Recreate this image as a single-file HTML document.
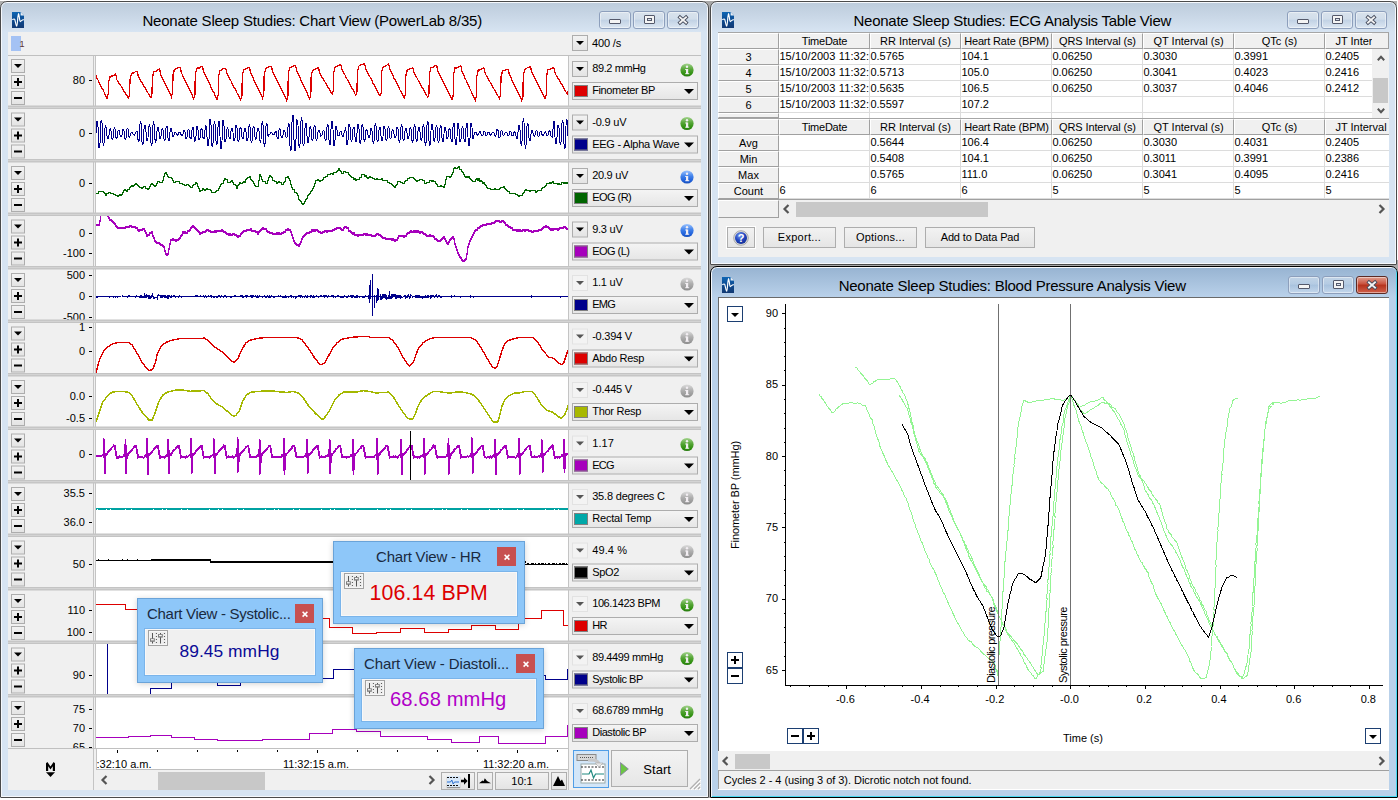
<!DOCTYPE html><html><head><meta charset="utf-8"><title>LabChart</title><style>
html,body{margin:0;padding:0}
body{width:1398px;height:800px;position:relative;overflow:hidden;background:#fff;font-family:"Liberation Sans",sans-serif;font-size:11px;}
div{position:absolute;box-sizing:content-box}
.t{white-space:pre}
svg.a{position:absolute;overflow:visible}
</style></head><body><div style="left:704px;top:1px;width:12px;height:797px;background:#a8a8a8;"></div><div style="left:710px;top:260px;width:688px;height:10px;background:#a8a8a8;"></div><div style="left:0px;top:1px;width:5px;height:5px;background:#b0b0b0;"></div><div style="left:1392px;top:1px;width:5px;height:5px;background:#b0b0b0;"></div><div style="left:0px;top:1px;width:707px;height:795px;border:1px solid #4a4a4a;border-radius:7px 7px 1px 1px;background:#d7e4f2;box-shadow:inset 0 0 0 1px rgba(255,255,255,.75);"></div><div style="left:2px;top:3px;width:705px;height:29px;background:linear-gradient(#bdccdc,#d7e4f2);border-radius:5px 5px 0 0;"></div><svg class="a" style="left:12px;top:12px;" width="12" height="16" viewBox="0 0 12 16"><defs><linearGradient id="ig1" x1="0" y1="0" x2="0" y2="1"><stop offset="0" stop-color="#0f66b4"/><stop offset=".5" stop-color="#0c4a90"/><stop offset="1" stop-color="#133a74"/></linearGradient></defs><path d="M0 0H8.6L12 3.4V16H0Z" fill="url(#ig1)"/><path d="M8.6 0V3.4H12Z" fill="#e9eef4"/><path d="M0.2 7.7C1.4 7.5 2.1 6.2 2.8 7.6C3.5 9.6 4 14.2 4.7 14.2C5.5 14.2 5.8 1.6 6.5 1.6C7.2 1.6 7.5 9.6 8.3 9.6C9.1 9.6 9.6 7.6 11.8 7.6" fill="none" stroke="#fff" stroke-width="1.15" stroke-linejoin="round"/></svg><div class="t" style="left:142.45px;top:10.80px;font-size:15px;line-height:20px;color:#000;white-space:pre;letter-spacing:-0.212px;">Neonate Sleep Studies: Chart View (PowerLab 8/35)</div><div style="left:599px;top:11px;width:30px;height:16px;background:linear-gradient(rgba(255,255,255,.35),rgba(255,255,255,.12) 45%,rgba(160,185,215,.25) 50%,rgba(255,255,255,.2));border:1px solid #8d9fbc;border-radius:3px;box-shadow:inset 0 0 0 1px rgba(255,255,255,.45);"></div><div style="left:609px;top:19px;width:10px;height:3px;background:#f4f4f4;border:1px solid #54596b;border-radius:1px;"></div><div style="left:633px;top:11px;width:30px;height:16px;background:linear-gradient(rgba(255,255,255,.35),rgba(255,255,255,.12) 45%,rgba(160,185,215,.25) 50%,rgba(255,255,255,.2));border:1px solid #8d9fbc;border-radius:3px;box-shadow:inset 0 0 0 1px rgba(255,255,255,.45);"></div><div style="left:644px;top:15px;width:9px;height:7px;background:#f4f4f4;border:1px solid #54596b;border-radius:1px;"></div><div style="left:647px;top:18px;width:3px;height:1px;background:#dfe6f0;border:1px solid #54596b;"></div><div style="left:667px;top:11px;width:30px;height:16px;background:linear-gradient(rgba(255,255,255,.35),rgba(255,255,255,.12) 45%,rgba(160,185,215,.25) 50%,rgba(255,255,255,.2));border:1px solid #8d9fbc;border-radius:3px;box-shadow:inset 0 0 0 1px rgba(255,255,255,.45);"></div><svg class="a" style="left:677px;top:15px;" width="12" height="10" viewBox="0 0 12 10"><path d="M3 2.4L9 7.6M9 2.4L3 7.6" stroke="#454b5c" stroke-width="3.6" stroke-linecap="square"/><path d="M3 2.4L9 7.6M9 2.4L3 7.6" stroke="#f4f4f4" stroke-width="1.9" stroke-linecap="square"/></svg><div style="left:8px;top:32px;width:693px;height:758px;background:#f0f0f0;"></div><div style="left:11px;top:36px;width:10px;height:15px;background:#a4c2f4;"></div><div class="t" style="left:19.50px;top:38.00px;font-size:9px;line-height:12px;color:#5a3030;white-space:pre;">1</div><div style="left:572px;top:35px;width:14px;height:14px;background:linear-gradient(#f2f2f2,#e4e4e4);border:1px solid #adadad;"></div><svg class="a" style="left:576.0px;top:40.7px" width="8" height="4" viewBox="0 0 8 4"><path d="M0 0H8L4.0 4Z" fill="#000"/></svg><div class="t" style="left:592.00px;top:35.50px;font-size:11px;line-height:14px;color:#000;white-space:pre;letter-spacing:-0.160px;">400 /s</div><div style="left:8px;top:55px;width:693px;height:1px;background:#c0c0c0;"></div><div style="left:96px;top:56px;width:472px;height:692px;background:#fff;"></div><div style="left:93px;top:56px;width:1px;height:692px;background:#c4c4c4;"></div><div style="left:95px;top:56px;width:1px;height:692px;background:#c4c4c4;"></div><div style="left:568px;top:56px;width:1px;height:692px;background:#c4c4c4;"></div><div style="left:11px;top:59px;width:12px;height:12px;background:linear-gradient(#f2f2f2,#e4e4e4);border:1px solid #adadad;"></div><svg class="a" style="left:14.0px;top:63.7px" width="8" height="4" viewBox="0 0 8 4"><path d="M0 0H8L4.0 4Z" fill="#000"/></svg><div style="left:11px;top:75px;width:12px;height:12px;background:linear-gradient(#f2f2f2,#e4e4e4);border:1px solid #adadad;"></div><div style="left:14.0px;top:81.0px;width:8px;height:2px;background:#000;"></div><div style="left:17.0px;top:78.0px;width:2px;height:8px;background:#000;"></div><div style="left:11px;top:91px;width:12px;height:12px;background:linear-gradient(#f2f2f2,#e4e4e4);border:1px solid #adadad;"></div><div style="left:14.0px;top:97.0px;width:8px;height:2px;background:#000;"></div><div style="left:572px;top:61px;width:14px;height:14px;background:linear-gradient(#f2f2f2,#e4e4e4);border:1px solid #adadad;"></div><svg class="a" style="left:576.0px;top:66.7px" width="8" height="4" viewBox="0 0 8 4"><path d="M0 0H8L4.0 4Z" fill="#000"/></svg><div class="t" style="left:592.20px;top:61.30px;font-size:11px;line-height:14px;color:#000;white-space:pre;letter-spacing:-0.394px;">89.2 mmHg</div><svg class="a" style="left:680px;top:63px;" width="14" height="14" viewBox="0 0 14 14"><defs><linearGradient id="Ggreen68770" x1="0" y1="0" x2="0" y2="1"><stop offset="0" stop-color="#a4d48e"/><stop offset=".45" stop-color="#55a536"/><stop offset=".8" stop-color="#2f900f"/><stop offset="1" stop-color="#2a7a12"/></linearGradient></defs><circle cx="7" cy="7" r="6.6" fill="url(#Ggreen68770)"/><rect x="6" y="6" width="2.2" height="5" fill="#f2eef2"/><rect x="5.2" y="6" width="2" height="1" fill="#f2eef2"/><rect x="5.2" y="10.2" width="4" height="1" fill="#f2eef2"/><circle cx="7" cy="3.8" r="1.2" fill="#f2eef2"/></svg><div style="left:572px;top:82px;width:124px;height:16px;background:linear-gradient(#f4f4f4,#e6e6e6);border:1px solid #adadad;"></div><div style="left:574px;top:85px;width:12px;height:10px;background:#dd0000;border:1px solid #808080;"></div><div class="t" style="left:592.20px;top:83.30px;font-size:11px;line-height:14px;color:#000;white-space:pre;letter-spacing:-0.370px;">Finometer BP</div><svg class="a" style="left:684.0px;top:89.0px" width="10" height="5" viewBox="0 0 10 5"><path d="M0 0H10L5.0 5Z" fill="#000"/></svg><div style="left:26px;top:56px;width:67px;height:50px;overflow:hidden;"><div class="t" style="left:46.77px;top:17.10px;font-size:11px;line-height:14px;color:#000;white-space:pre;">80</div><div style="left:63px;top:24px;width:3px;height:1px;background:#000;"></div></div><div style="left:0;top:0;width:701px;height:790px;transform:translateY(0.5px);"><div style="left:11px;top:112px;width:12px;height:12px;background:linear-gradient(#f2f2f2,#e4e4e4);border:1px solid #adadad;"></div><svg class="a" style="left:14.0px;top:116.7px" width="8" height="4" viewBox="0 0 8 4"><path d="M0 0H8L4.0 4Z" fill="#000"/></svg><div style="left:11px;top:128px;width:12px;height:12px;background:linear-gradient(#f2f2f2,#e4e4e4);border:1px solid #adadad;"></div><div style="left:14.0px;top:134.0px;width:8px;height:2px;background:#000;"></div><div style="left:17.0px;top:131.0px;width:2px;height:8px;background:#000;"></div><div style="left:11px;top:144px;width:12px;height:12px;background:linear-gradient(#f2f2f2,#e4e4e4);border:1px solid #adadad;"></div><div style="left:14.0px;top:150.0px;width:8px;height:2px;background:#000;"></div><div style="left:572px;top:114px;width:14px;height:14px;background:linear-gradient(#f2f2f2,#e4e4e4);border:1px solid #adadad;"></div><svg class="a" style="left:576.0px;top:119.7px" width="8" height="4" viewBox="0 0 8 4"><path d="M0 0H8L4.0 4Z" fill="#000"/></svg><div class="t" style="left:592.20px;top:114.30px;font-size:11px;line-height:14px;color:#000;white-space:pre;letter-spacing:-0.195px;">-0.9 uV</div><svg class="a" style="left:680px;top:116px;" width="14" height="14" viewBox="0 0 14 14"><defs><linearGradient id="Ggreen687123" x1="0" y1="0" x2="0" y2="1"><stop offset="0" stop-color="#a4d48e"/><stop offset=".45" stop-color="#55a536"/><stop offset=".8" stop-color="#2f900f"/><stop offset="1" stop-color="#2a7a12"/></linearGradient></defs><circle cx="7" cy="7" r="6.6" fill="url(#Ggreen687123)"/><rect x="6" y="6" width="2.2" height="5" fill="#f2eef2"/><rect x="5.2" y="6" width="2" height="1" fill="#f2eef2"/><rect x="5.2" y="10.2" width="4" height="1" fill="#f2eef2"/><circle cx="7" cy="3.8" r="1.2" fill="#f2eef2"/></svg><div style="left:572px;top:135px;width:124px;height:16px;background:linear-gradient(#f4f4f4,#e6e6e6);border:1px solid #adadad;"></div><div style="left:574px;top:138px;width:12px;height:10px;background:#00008b;border:1px solid #808080;"></div><div class="t" style="left:592.20px;top:136.30px;font-size:11px;line-height:14px;color:#000;white-space:pre;letter-spacing:-0.256px;">EEG - Alpha Wave</div><svg class="a" style="left:684.0px;top:142.0px" width="10" height="5" viewBox="0 0 10 5"><path d="M0 0H10L5.0 5Z" fill="#000"/></svg></div><div style="left:26px;top:109px;width:67px;height:51px;overflow:hidden;"><div class="t" style="left:52.88px;top:16.90px;font-size:11px;line-height:14px;color:#000;white-space:pre;">0</div><div style="left:63px;top:24px;width:3px;height:1px;background:#000;"></div></div><div style="left:11px;top:166px;width:12px;height:12px;background:linear-gradient(#f2f2f2,#e4e4e4);border:1px solid #adadad;"></div><svg class="a" style="left:14.0px;top:170.7px" width="8" height="4" viewBox="0 0 8 4"><path d="M0 0H8L4.0 4Z" fill="#000"/></svg><div style="left:11px;top:182px;width:12px;height:12px;background:linear-gradient(#f2f2f2,#e4e4e4);border:1px solid #adadad;"></div><div style="left:14.0px;top:188.0px;width:8px;height:2px;background:#000;"></div><div style="left:17.0px;top:185.0px;width:2px;height:8px;background:#000;"></div><div style="left:11px;top:198px;width:12px;height:12px;background:linear-gradient(#f2f2f2,#e4e4e4);border:1px solid #adadad;"></div><div style="left:14.0px;top:204.0px;width:8px;height:2px;background:#000;"></div><div style="left:572px;top:168px;width:14px;height:14px;background:linear-gradient(#f2f2f2,#e4e4e4);border:1px solid #adadad;"></div><svg class="a" style="left:576.0px;top:173.7px" width="8" height="4" viewBox="0 0 8 4"><path d="M0 0H8L4.0 4Z" fill="#000"/></svg><div class="t" style="left:592.20px;top:168.30px;font-size:11px;line-height:14px;color:#000;white-space:pre;letter-spacing:-0.302px;">20.9 uV</div><svg class="a" style="left:680px;top:170px;" width="14" height="14" viewBox="0 0 14 14"><defs><linearGradient id="Gblue687177" x1="0" y1="0" x2="0" y2="1"><stop offset="0" stop-color="#9cc4ff"/><stop offset=".45" stop-color="#3f80ea"/><stop offset=".8" stop-color="#1f5fd8"/><stop offset="1" stop-color="#1850b8"/></linearGradient></defs><circle cx="7" cy="7" r="6.6" fill="url(#Gblue687177)"/><rect x="6" y="6" width="2.2" height="5" fill="#f2eef2"/><rect x="5.2" y="6" width="2" height="1" fill="#f2eef2"/><rect x="5.2" y="10.2" width="4" height="1" fill="#f2eef2"/><circle cx="7" cy="3.8" r="1.2" fill="#f2eef2"/></svg><div style="left:572px;top:189px;width:124px;height:16px;background:linear-gradient(#f4f4f4,#e6e6e6);border:1px solid #adadad;"></div><div style="left:574px;top:192px;width:12px;height:10px;background:#006400;border:1px solid #808080;"></div><div class="t" style="left:592.20px;top:190.30px;font-size:11px;line-height:14px;color:#000;white-space:pre;letter-spacing:-0.539px;">EOG (R)</div><svg class="a" style="left:684.0px;top:196.0px" width="10" height="5" viewBox="0 0 10 5"><path d="M0 0H10L5.0 5Z" fill="#000"/></svg><div style="left:26px;top:163px;width:67px;height:50px;overflow:hidden;"><div class="t" style="left:52.88px;top:12.90px;font-size:11px;line-height:14px;color:#000;white-space:pre;">0</div><div style="left:63px;top:20px;width:3px;height:1px;background:#000;"></div></div><div style="left:0;top:0;width:701px;height:790px;transform:translateY(0.5px);"><div style="left:11px;top:219px;width:12px;height:12px;background:linear-gradient(#f2f2f2,#e4e4e4);border:1px solid #adadad;"></div><svg class="a" style="left:14.0px;top:223.7px" width="8" height="4" viewBox="0 0 8 4"><path d="M0 0H8L4.0 4Z" fill="#000"/></svg><div style="left:11px;top:235px;width:12px;height:12px;background:linear-gradient(#f2f2f2,#e4e4e4);border:1px solid #adadad;"></div><div style="left:14.0px;top:241.0px;width:8px;height:2px;background:#000;"></div><div style="left:17.0px;top:238.0px;width:2px;height:8px;background:#000;"></div><div style="left:11px;top:251px;width:12px;height:12px;background:linear-gradient(#f2f2f2,#e4e4e4);border:1px solid #adadad;"></div><div style="left:14.0px;top:257.0px;width:8px;height:2px;background:#000;"></div><div style="left:572px;top:221px;width:14px;height:14px;background:linear-gradient(#f2f2f2,#e4e4e4);border:1px solid #adadad;"></div><svg class="a" style="left:576.0px;top:226.7px" width="8" height="4" viewBox="0 0 8 4"><path d="M0 0H8L4.0 4Z" fill="#000"/></svg><div class="t" style="left:592.20px;top:221.30px;font-size:11px;line-height:14px;color:#000;white-space:pre;letter-spacing:-0.250px;">9.3 uV</div><svg class="a" style="left:680px;top:223px;" width="14" height="14" viewBox="0 0 14 14"><defs><linearGradient id="Gblue687230" x1="0" y1="0" x2="0" y2="1"><stop offset="0" stop-color="#9cc4ff"/><stop offset=".45" stop-color="#3f80ea"/><stop offset=".8" stop-color="#1f5fd8"/><stop offset="1" stop-color="#1850b8"/></linearGradient></defs><circle cx="7" cy="7" r="6.6" fill="url(#Gblue687230)"/><rect x="6" y="6" width="2.2" height="5" fill="#f2eef2"/><rect x="5.2" y="6" width="2" height="1" fill="#f2eef2"/><rect x="5.2" y="10.2" width="4" height="1" fill="#f2eef2"/><circle cx="7" cy="3.8" r="1.2" fill="#f2eef2"/></svg><div style="left:572px;top:242px;width:124px;height:16px;background:linear-gradient(#f4f4f4,#e6e6e6);border:1px solid #adadad;"></div><div style="left:574px;top:245px;width:12px;height:10px;background:#a600bc;border:1px solid #808080;"></div><div class="t" style="left:592.20px;top:243.30px;font-size:11px;line-height:14px;color:#000;white-space:pre;letter-spacing:-0.526px;">EOG (L)</div><svg class="a" style="left:684.0px;top:249.0px" width="10" height="5" viewBox="0 0 10 5"><path d="M0 0H10L5.0 5Z" fill="#000"/></svg></div><div style="left:26px;top:216px;width:67px;height:51px;overflow:hidden;"><div class="t" style="left:52.88px;top:9.90px;font-size:11px;line-height:14px;color:#000;white-space:pre;">0</div><div style="left:63px;top:17px;width:3px;height:1px;background:#000;"></div><div class="t" style="left:36.99px;top:29.90px;font-size:11px;line-height:14px;color:#000;white-space:pre;">-100</div><div style="left:63px;top:37px;width:3px;height:1px;background:#000;"></div></div><div style="left:11px;top:273px;width:12px;height:12px;background:linear-gradient(#f2f2f2,#e4e4e4);border:1px solid #adadad;"></div><svg class="a" style="left:14.0px;top:277.7px" width="8" height="4" viewBox="0 0 8 4"><path d="M0 0H8L4.0 4Z" fill="#000"/></svg><div style="left:11px;top:289px;width:12px;height:12px;background:linear-gradient(#f2f2f2,#e4e4e4);border:1px solid #adadad;"></div><div style="left:14.0px;top:295.0px;width:8px;height:2px;background:#000;"></div><div style="left:17.0px;top:292.0px;width:2px;height:8px;background:#000;"></div><div style="left:11px;top:305px;width:12px;height:12px;background:linear-gradient(#f2f2f2,#e4e4e4);border:1px solid #adadad;"></div><div style="left:14.0px;top:311.0px;width:8px;height:2px;background:#000;"></div><div style="left:572px;top:275px;width:14px;height:14px;background:#f3f3f3;border:1px solid #e2e2e2;"></div><svg class="a" style="left:576.0px;top:280.7px" width="8" height="4" viewBox="0 0 8 4"><path d="M0 0H8L4.0 4Z" fill="#555"/></svg><div class="t" style="left:592.20px;top:275.30px;font-size:11px;line-height:14px;color:#000;white-space:pre;letter-spacing:-0.250px;">1.1 uV</div><svg class="a" style="left:680px;top:277px;" width="14" height="14" viewBox="0 0 14 14"><defs><linearGradient id="Ggrey687284" x1="0" y1="0" x2="0" y2="1"><stop offset="0" stop-color="#dcdcdc"/><stop offset=".45" stop-color="#b0b0b0"/><stop offset=".8" stop-color="#9a9a9a"/><stop offset="1" stop-color="#8a8a8a"/></linearGradient></defs><circle cx="7" cy="7" r="6.6" fill="url(#Ggrey687284)"/><rect x="6" y="6" width="2.2" height="5" fill="#f2eef2"/><rect x="5.2" y="6" width="2" height="1" fill="#f2eef2"/><rect x="5.2" y="10.2" width="4" height="1" fill="#f2eef2"/><circle cx="7" cy="3.8" r="1.2" fill="#f2eef2"/></svg><div style="left:572px;top:296px;width:124px;height:16px;background:linear-gradient(#f4f4f4,#e6e6e6);border:1px solid #adadad;"></div><div style="left:574px;top:299px;width:12px;height:10px;background:#00008b;border:1px solid #808080;"></div><div class="t" style="left:592.20px;top:297.30px;font-size:11px;line-height:14px;color:#000;white-space:pre;letter-spacing:-0.752px;">EMG</div><svg class="a" style="left:684.0px;top:303.0px" width="10" height="5" viewBox="0 0 10 5"><path d="M0 0H10L5.0 5Z" fill="#000"/></svg><div style="left:26px;top:270px;width:67px;height:50px;overflow:hidden;"><div class="t" style="left:40.65px;top:-2.10px;font-size:11px;line-height:14px;color:#000;white-space:pre;">500</div><div style="left:63px;top:5px;width:3px;height:1px;background:#000;"></div><div class="t" style="left:52.88px;top:18.90px;font-size:11px;line-height:14px;color:#000;white-space:pre;">0</div><div style="left:63px;top:26px;width:3px;height:1px;background:#000;"></div><div class="t" style="left:36.99px;top:39.90px;font-size:11px;line-height:14px;color:#000;white-space:pre;">-500</div><div style="left:63px;top:47px;width:3px;height:1px;background:#000;"></div></div><div style="left:0;top:0;width:701px;height:790px;transform:translateY(0.5px);"><div style="left:11px;top:326px;width:12px;height:12px;background:linear-gradient(#f2f2f2,#e4e4e4);border:1px solid #adadad;"></div><svg class="a" style="left:14.0px;top:330.7px" width="8" height="4" viewBox="0 0 8 4"><path d="M0 0H8L4.0 4Z" fill="#000"/></svg><div style="left:11px;top:342px;width:12px;height:12px;background:linear-gradient(#f2f2f2,#e4e4e4);border:1px solid #adadad;"></div><div style="left:14.0px;top:348.0px;width:8px;height:2px;background:#000;"></div><div style="left:17.0px;top:345.0px;width:2px;height:8px;background:#000;"></div><div style="left:11px;top:358px;width:12px;height:12px;background:linear-gradient(#f2f2f2,#e4e4e4);border:1px solid #adadad;"></div><div style="left:14.0px;top:364.0px;width:8px;height:2px;background:#000;"></div><div style="left:572px;top:328px;width:14px;height:14px;background:#f3f3f3;border:1px solid #e2e2e2;"></div><svg class="a" style="left:576.0px;top:333.7px" width="8" height="4" viewBox="0 0 8 4"><path d="M0 0H8L4.0 4Z" fill="#555"/></svg><div class="t" style="left:592.20px;top:328.30px;font-size:11px;line-height:14px;color:#000;white-space:pre;letter-spacing:-0.247px;">-0.394 V</div><svg class="a" style="left:680px;top:330px;" width="14" height="14" viewBox="0 0 14 14"><defs><linearGradient id="Ggrey687337" x1="0" y1="0" x2="0" y2="1"><stop offset="0" stop-color="#dcdcdc"/><stop offset=".45" stop-color="#b0b0b0"/><stop offset=".8" stop-color="#9a9a9a"/><stop offset="1" stop-color="#8a8a8a"/></linearGradient></defs><circle cx="7" cy="7" r="6.6" fill="url(#Ggrey687337)"/><rect x="6" y="6" width="2.2" height="5" fill="#f2eef2"/><rect x="5.2" y="6" width="2" height="1" fill="#f2eef2"/><rect x="5.2" y="10.2" width="4" height="1" fill="#f2eef2"/><circle cx="7" cy="3.8" r="1.2" fill="#f2eef2"/></svg><div style="left:572px;top:349px;width:124px;height:16px;background:linear-gradient(#f4f4f4,#e6e6e6);border:1px solid #adadad;"></div><div style="left:574px;top:352px;width:12px;height:10px;background:#dd0000;border:1px solid #808080;"></div><div class="t" style="left:592.20px;top:350.30px;font-size:11px;line-height:14px;color:#000;white-space:pre;letter-spacing:-0.269px;">Abdo Resp</div><svg class="a" style="left:684.0px;top:356.0px" width="10" height="5" viewBox="0 0 10 5"><path d="M0 0H10L5.0 5Z" fill="#000"/></svg></div><div style="left:26px;top:323px;width:67px;height:51px;overflow:hidden;"><div class="t" style="left:52.88px;top:-3.10px;font-size:11px;line-height:14px;color:#000;white-space:pre;">1</div><div style="left:63px;top:4px;width:3px;height:1px;background:#000;"></div><div class="t" style="left:52.88px;top:20.90px;font-size:11px;line-height:14px;color:#000;white-space:pre;">0</div><div style="left:63px;top:28px;width:3px;height:1px;background:#000;"></div></div><div style="left:11px;top:380px;width:12px;height:12px;background:linear-gradient(#f2f2f2,#e4e4e4);border:1px solid #adadad;"></div><svg class="a" style="left:14.0px;top:384.7px" width="8" height="4" viewBox="0 0 8 4"><path d="M0 0H8L4.0 4Z" fill="#000"/></svg><div style="left:11px;top:396px;width:12px;height:12px;background:linear-gradient(#f2f2f2,#e4e4e4);border:1px solid #adadad;"></div><div style="left:14.0px;top:402.0px;width:8px;height:2px;background:#000;"></div><div style="left:17.0px;top:399.0px;width:2px;height:8px;background:#000;"></div><div style="left:11px;top:412px;width:12px;height:12px;background:linear-gradient(#f2f2f2,#e4e4e4);border:1px solid #adadad;"></div><div style="left:14.0px;top:418.0px;width:8px;height:2px;background:#000;"></div><div style="left:572px;top:382px;width:14px;height:14px;background:#f3f3f3;border:1px solid #e2e2e2;"></div><svg class="a" style="left:576.0px;top:387.7px" width="8" height="4" viewBox="0 0 8 4"><path d="M0 0H8L4.0 4Z" fill="#555"/></svg><div class="t" style="left:592.20px;top:382.30px;font-size:11px;line-height:14px;color:#000;white-space:pre;letter-spacing:-0.247px;">-0.445 V</div><svg class="a" style="left:680px;top:384px;" width="14" height="14" viewBox="0 0 14 14"><defs><linearGradient id="Ggrey687391" x1="0" y1="0" x2="0" y2="1"><stop offset="0" stop-color="#dcdcdc"/><stop offset=".45" stop-color="#b0b0b0"/><stop offset=".8" stop-color="#9a9a9a"/><stop offset="1" stop-color="#8a8a8a"/></linearGradient></defs><circle cx="7" cy="7" r="6.6" fill="url(#Ggrey687391)"/><rect x="6" y="6" width="2.2" height="5" fill="#f2eef2"/><rect x="5.2" y="6" width="2" height="1" fill="#f2eef2"/><rect x="5.2" y="10.2" width="4" height="1" fill="#f2eef2"/><circle cx="7" cy="3.8" r="1.2" fill="#f2eef2"/></svg><div style="left:572px;top:403px;width:124px;height:16px;background:linear-gradient(#f4f4f4,#e6e6e6);border:1px solid #adadad;"></div><div style="left:574px;top:406px;width:12px;height:10px;background:#a8b800;border:1px solid #808080;"></div><div class="t" style="left:592.20px;top:404.30px;font-size:11px;line-height:14px;color:#000;white-space:pre;letter-spacing:-0.261px;">Thor Resp</div><svg class="a" style="left:684.0px;top:410.0px" width="10" height="5" viewBox="0 0 10 5"><path d="M0 0H10L5.0 5Z" fill="#000"/></svg><div style="left:26px;top:377px;width:67px;height:50px;overflow:hidden;"><div class="t" style="left:43.71px;top:11.90px;font-size:11px;line-height:14px;color:#000;white-space:pre;">0.0</div><div style="left:63px;top:19px;width:3px;height:1px;background:#000;"></div><div class="t" style="left:40.05px;top:33.90px;font-size:11px;line-height:14px;color:#000;white-space:pre;">-0.5</div><div style="left:63px;top:41px;width:3px;height:1px;background:#000;"></div></div><div style="left:0;top:0;width:701px;height:790px;transform:translateY(0.5px);"><div style="left:11px;top:433px;width:12px;height:12px;background:linear-gradient(#f2f2f2,#e4e4e4);border:1px solid #adadad;"></div><svg class="a" style="left:14.0px;top:437.7px" width="8" height="4" viewBox="0 0 8 4"><path d="M0 0H8L4.0 4Z" fill="#000"/></svg><div style="left:11px;top:449px;width:12px;height:12px;background:linear-gradient(#f2f2f2,#e4e4e4);border:1px solid #adadad;"></div><div style="left:14.0px;top:455.0px;width:8px;height:2px;background:#000;"></div><div style="left:17.0px;top:452.0px;width:2px;height:8px;background:#000;"></div><div style="left:11px;top:465px;width:12px;height:12px;background:linear-gradient(#f2f2f2,#e4e4e4);border:1px solid #adadad;"></div><div style="left:14.0px;top:471.0px;width:8px;height:2px;background:#000;"></div><div style="left:572px;top:435px;width:14px;height:14px;background:#f3f3f3;border:1px solid #e2e2e2;"></div><svg class="a" style="left:576.0px;top:440.7px" width="8" height="4" viewBox="0 0 8 4"><path d="M0 0H8L4.0 4Z" fill="#555"/></svg><div class="t" style="left:592.20px;top:435.30px;font-size:11px;line-height:14px;color:#000;white-space:pre;letter-spacing:0.073px;">1.17</div><svg class="a" style="left:680px;top:437px;" width="14" height="14" viewBox="0 0 14 14"><defs><linearGradient id="Ggreen687444" x1="0" y1="0" x2="0" y2="1"><stop offset="0" stop-color="#a4d48e"/><stop offset=".45" stop-color="#55a536"/><stop offset=".8" stop-color="#2f900f"/><stop offset="1" stop-color="#2a7a12"/></linearGradient></defs><circle cx="7" cy="7" r="6.6" fill="url(#Ggreen687444)"/><rect x="6" y="6" width="2.2" height="5" fill="#f2eef2"/><rect x="5.2" y="6" width="2" height="1" fill="#f2eef2"/><rect x="5.2" y="10.2" width="4" height="1" fill="#f2eef2"/><circle cx="7" cy="3.8" r="1.2" fill="#f2eef2"/></svg><div style="left:572px;top:456px;width:124px;height:16px;background:linear-gradient(#f4f4f4,#e6e6e6);border:1px solid #adadad;"></div><div style="left:574px;top:459px;width:12px;height:10px;background:#a600bc;border:1px solid #808080;"></div><div class="t" style="left:592.20px;top:457.30px;font-size:11px;line-height:14px;color:#000;white-space:pre;letter-spacing:-0.715px;">ECG</div><svg class="a" style="left:684.0px;top:463.0px" width="10" height="5" viewBox="0 0 10 5"><path d="M0 0H10L5.0 5Z" fill="#000"/></svg></div><div style="left:26px;top:430px;width:67px;height:51px;overflow:hidden;"><div class="t" style="left:52.88px;top:16.90px;font-size:11px;line-height:14px;color:#000;white-space:pre;">0</div><div style="left:63px;top:24px;width:3px;height:1px;background:#000;"></div></div><div style="left:11px;top:487px;width:12px;height:12px;background:linear-gradient(#f2f2f2,#e4e4e4);border:1px solid #adadad;"></div><svg class="a" style="left:14.0px;top:491.7px" width="8" height="4" viewBox="0 0 8 4"><path d="M0 0H8L4.0 4Z" fill="#000"/></svg><div style="left:11px;top:503px;width:12px;height:12px;background:linear-gradient(#f2f2f2,#e4e4e4);border:1px solid #adadad;"></div><div style="left:14.0px;top:509.0px;width:8px;height:2px;background:#000;"></div><div style="left:17.0px;top:506.0px;width:2px;height:8px;background:#000;"></div><div style="left:11px;top:519px;width:12px;height:12px;background:linear-gradient(#f2f2f2,#e4e4e4);border:1px solid #adadad;"></div><div style="left:14.0px;top:525.0px;width:8px;height:2px;background:#000;"></div><div style="left:572px;top:489px;width:14px;height:14px;background:#f3f3f3;border:1px solid #e2e2e2;"></div><svg class="a" style="left:576.0px;top:494.7px" width="8" height="4" viewBox="0 0 8 4"><path d="M0 0H8L4.0 4Z" fill="#555"/></svg><div class="t" style="left:592.20px;top:489.30px;font-size:11px;line-height:14px;color:#000;white-space:pre;letter-spacing:-0.186px;">35.8 degrees C</div><svg class="a" style="left:680px;top:491px;" width="14" height="14" viewBox="0 0 14 14"><defs><linearGradient id="Ggrey687498" x1="0" y1="0" x2="0" y2="1"><stop offset="0" stop-color="#dcdcdc"/><stop offset=".45" stop-color="#b0b0b0"/><stop offset=".8" stop-color="#9a9a9a"/><stop offset="1" stop-color="#8a8a8a"/></linearGradient></defs><circle cx="7" cy="7" r="6.6" fill="url(#Ggrey687498)"/><rect x="6" y="6" width="2.2" height="5" fill="#f2eef2"/><rect x="5.2" y="6" width="2" height="1" fill="#f2eef2"/><rect x="5.2" y="10.2" width="4" height="1" fill="#f2eef2"/><circle cx="7" cy="3.8" r="1.2" fill="#f2eef2"/></svg><div style="left:572px;top:510px;width:124px;height:16px;background:linear-gradient(#f4f4f4,#e6e6e6);border:1px solid #adadad;"></div><div style="left:574px;top:513px;width:12px;height:10px;background:#00a8a8;border:1px solid #808080;"></div><div class="t" style="left:592.20px;top:511.30px;font-size:11px;line-height:14px;color:#000;white-space:pre;letter-spacing:-0.185px;">Rectal Temp</div><svg class="a" style="left:684.0px;top:517.0px" width="10" height="5" viewBox="0 0 10 5"><path d="M0 0H10L5.0 5Z" fill="#000"/></svg><div style="left:26px;top:484px;width:67px;height:50px;overflow:hidden;"><div class="t" style="left:37.59px;top:2.40px;font-size:11px;line-height:14px;color:#000;white-space:pre;">35.5</div><div style="left:63px;top:9px;width:3px;height:1px;background:#000;"></div><div class="t" style="left:37.59px;top:31.20px;font-size:11px;line-height:14px;color:#000;white-space:pre;">36.0</div><div style="left:63px;top:38px;width:3px;height:1px;background:#000;"></div></div><div style="left:0;top:0;width:701px;height:790px;transform:translateY(0.5px);"><div style="left:11px;top:540px;width:12px;height:12px;background:linear-gradient(#f2f2f2,#e4e4e4);border:1px solid #adadad;"></div><svg class="a" style="left:14.0px;top:544.7px" width="8" height="4" viewBox="0 0 8 4"><path d="M0 0H8L4.0 4Z" fill="#000"/></svg><div style="left:11px;top:556px;width:12px;height:12px;background:linear-gradient(#f2f2f2,#e4e4e4);border:1px solid #adadad;"></div><div style="left:14.0px;top:562.0px;width:8px;height:2px;background:#000;"></div><div style="left:17.0px;top:559.0px;width:2px;height:8px;background:#000;"></div><div style="left:11px;top:572px;width:12px;height:12px;background:linear-gradient(#f2f2f2,#e4e4e4);border:1px solid #adadad;"></div><div style="left:14.0px;top:578.0px;width:8px;height:2px;background:#000;"></div><div style="left:572px;top:542px;width:14px;height:14px;background:#f3f3f3;border:1px solid #e2e2e2;"></div><svg class="a" style="left:576.0px;top:547.7px" width="8" height="4" viewBox="0 0 8 4"><path d="M0 0H8L4.0 4Z" fill="#555"/></svg><div class="t" style="left:592.20px;top:542.30px;font-size:11px;line-height:14px;color:#000;white-space:pre;letter-spacing:0.109px;">49.4 %</div><svg class="a" style="left:680px;top:544px;" width="14" height="14" viewBox="0 0 14 14"><defs><linearGradient id="Ggrey687551" x1="0" y1="0" x2="0" y2="1"><stop offset="0" stop-color="#dcdcdc"/><stop offset=".45" stop-color="#b0b0b0"/><stop offset=".8" stop-color="#9a9a9a"/><stop offset="1" stop-color="#8a8a8a"/></linearGradient></defs><circle cx="7" cy="7" r="6.6" fill="url(#Ggrey687551)"/><rect x="6" y="6" width="2.2" height="5" fill="#f2eef2"/><rect x="5.2" y="6" width="2" height="1" fill="#f2eef2"/><rect x="5.2" y="10.2" width="4" height="1" fill="#f2eef2"/><circle cx="7" cy="3.8" r="1.2" fill="#f2eef2"/></svg><div style="left:572px;top:563px;width:124px;height:16px;background:linear-gradient(#f4f4f4,#e6e6e6);border:1px solid #adadad;"></div><div style="left:574px;top:566px;width:12px;height:10px;background:#000000;border:1px solid #808080;"></div><div class="t" style="left:592.20px;top:564.30px;font-size:11px;line-height:14px;color:#000;white-space:pre;letter-spacing:-0.357px;">SpO2</div><svg class="a" style="left:684.0px;top:570.0px" width="10" height="5" viewBox="0 0 10 5"><path d="M0 0H10L5.0 5Z" fill="#000"/></svg></div><div style="left:26px;top:537px;width:67px;height:51px;overflow:hidden;"><div class="t" style="left:46.77px;top:20.20px;font-size:11px;line-height:14px;color:#000;white-space:pre;">50</div><div style="left:63px;top:27px;width:3px;height:1px;background:#000;"></div></div><div style="left:11px;top:594px;width:12px;height:12px;background:linear-gradient(#f2f2f2,#e4e4e4);border:1px solid #adadad;"></div><svg class="a" style="left:14.0px;top:598.7px" width="8" height="4" viewBox="0 0 8 4"><path d="M0 0H8L4.0 4Z" fill="#000"/></svg><div style="left:11px;top:610px;width:12px;height:12px;background:linear-gradient(#f2f2f2,#e4e4e4);border:1px solid #adadad;"></div><div style="left:14.0px;top:616.0px;width:8px;height:2px;background:#000;"></div><div style="left:17.0px;top:613.0px;width:2px;height:8px;background:#000;"></div><div style="left:11px;top:626px;width:12px;height:12px;background:linear-gradient(#f2f2f2,#e4e4e4);border:1px solid #adadad;"></div><div style="left:14.0px;top:632.0px;width:8px;height:2px;background:#000;"></div><div style="left:572px;top:596px;width:14px;height:14px;background:#f3f3f3;border:1px solid #e2e2e2;"></div><svg class="a" style="left:576.0px;top:601.7px" width="8" height="4" viewBox="0 0 8 4"><path d="M0 0H8L4.0 4Z" fill="#555"/></svg><div class="t" style="left:592.20px;top:596.30px;font-size:11px;line-height:14px;color:#000;white-space:pre;letter-spacing:-0.406px;">106.1423 BPM</div><svg class="a" style="left:680px;top:598px;" width="14" height="14" viewBox="0 0 14 14"><defs><linearGradient id="Ggreen687605" x1="0" y1="0" x2="0" y2="1"><stop offset="0" stop-color="#a4d48e"/><stop offset=".45" stop-color="#55a536"/><stop offset=".8" stop-color="#2f900f"/><stop offset="1" stop-color="#2a7a12"/></linearGradient></defs><circle cx="7" cy="7" r="6.6" fill="url(#Ggreen687605)"/><rect x="6" y="6" width="2.2" height="5" fill="#f2eef2"/><rect x="5.2" y="6" width="2" height="1" fill="#f2eef2"/><rect x="5.2" y="10.2" width="4" height="1" fill="#f2eef2"/><circle cx="7" cy="3.8" r="1.2" fill="#f2eef2"/></svg><div style="left:572px;top:617px;width:124px;height:16px;background:linear-gradient(#f4f4f4,#e6e6e6);border:1px solid #adadad;"></div><div style="left:574px;top:620px;width:12px;height:10px;background:#dd0000;border:1px solid #808080;"></div><div class="t" style="left:592.20px;top:618.30px;font-size:11px;line-height:14px;color:#000;white-space:pre;letter-spacing:-0.715px;">HR</div><svg class="a" style="left:684.0px;top:624.0px" width="10" height="5" viewBox="0 0 10 5"><path d="M0 0H10L5.0 5Z" fill="#000"/></svg><div style="left:26px;top:591px;width:67px;height:50px;overflow:hidden;"><div class="t" style="left:41.47px;top:11.70px;font-size:11px;line-height:14px;color:#000;white-space:pre;">110</div><div style="left:63px;top:19px;width:3px;height:1px;background:#000;"></div><div class="t" style="left:40.65px;top:34.20px;font-size:11px;line-height:14px;color:#000;white-space:pre;">100</div><div style="left:63px;top:41px;width:3px;height:1px;background:#000;"></div></div><div style="left:0;top:0;width:701px;height:790px;transform:translateY(0.5px);"><div style="left:11px;top:647px;width:12px;height:12px;background:linear-gradient(#f2f2f2,#e4e4e4);border:1px solid #adadad;"></div><svg class="a" style="left:14.0px;top:651.7px" width="8" height="4" viewBox="0 0 8 4"><path d="M0 0H8L4.0 4Z" fill="#000"/></svg><div style="left:11px;top:663px;width:12px;height:12px;background:linear-gradient(#f2f2f2,#e4e4e4);border:1px solid #adadad;"></div><div style="left:14.0px;top:669.0px;width:8px;height:2px;background:#000;"></div><div style="left:17.0px;top:666.0px;width:2px;height:8px;background:#000;"></div><div style="left:11px;top:679px;width:12px;height:12px;background:linear-gradient(#f2f2f2,#e4e4e4);border:1px solid #adadad;"></div><div style="left:14.0px;top:685.0px;width:8px;height:2px;background:#000;"></div><div style="left:572px;top:649px;width:14px;height:14px;background:#f3f3f3;border:1px solid #e2e2e2;"></div><svg class="a" style="left:576.0px;top:654.7px" width="8" height="4" viewBox="0 0 8 4"><path d="M0 0H8L4.0 4Z" fill="#555"/></svg><div class="t" style="left:592.20px;top:649.30px;font-size:11px;line-height:14px;color:#000;white-space:pre;letter-spacing:-0.375px;">89.4499 mmHg</div><svg class="a" style="left:680px;top:651px;" width="14" height="14" viewBox="0 0 14 14"><defs><linearGradient id="Ggreen687658" x1="0" y1="0" x2="0" y2="1"><stop offset="0" stop-color="#a4d48e"/><stop offset=".45" stop-color="#55a536"/><stop offset=".8" stop-color="#2f900f"/><stop offset="1" stop-color="#2a7a12"/></linearGradient></defs><circle cx="7" cy="7" r="6.6" fill="url(#Ggreen687658)"/><rect x="6" y="6" width="2.2" height="5" fill="#f2eef2"/><rect x="5.2" y="6" width="2" height="1" fill="#f2eef2"/><rect x="5.2" y="10.2" width="4" height="1" fill="#f2eef2"/><circle cx="7" cy="3.8" r="1.2" fill="#f2eef2"/></svg><div style="left:572px;top:670px;width:124px;height:16px;background:linear-gradient(#f4f4f4,#e6e6e6);border:1px solid #adadad;"></div><div style="left:574px;top:673px;width:12px;height:10px;background:#00008b;border:1px solid #808080;"></div><div class="t" style="left:592.20px;top:671.30px;font-size:11px;line-height:14px;color:#000;white-space:pre;letter-spacing:-0.455px;">Systolic BP</div><svg class="a" style="left:684.0px;top:677.0px" width="10" height="5" viewBox="0 0 10 5"><path d="M0 0H10L5.0 5Z" fill="#000"/></svg></div><div style="left:26px;top:644px;width:67px;height:51px;overflow:hidden;"><div class="t" style="left:46.77px;top:23.90px;font-size:11px;line-height:14px;color:#000;white-space:pre;">90</div><div style="left:63px;top:31px;width:3px;height:1px;background:#000;"></div></div><div style="left:11px;top:701px;width:12px;height:12px;background:linear-gradient(#f2f2f2,#e4e4e4);border:1px solid #adadad;"></div><svg class="a" style="left:14.0px;top:705.7px" width="8" height="4" viewBox="0 0 8 4"><path d="M0 0H8L4.0 4Z" fill="#000"/></svg><div style="left:11px;top:717px;width:12px;height:12px;background:linear-gradient(#f2f2f2,#e4e4e4);border:1px solid #adadad;"></div><div style="left:14.0px;top:723.0px;width:8px;height:2px;background:#000;"></div><div style="left:17.0px;top:720.0px;width:2px;height:8px;background:#000;"></div><div style="left:11px;top:733px;width:12px;height:12px;background:linear-gradient(#f2f2f2,#e4e4e4);border:1px solid #adadad;"></div><div style="left:14.0px;top:739.0px;width:8px;height:2px;background:#000;"></div><div style="left:572px;top:703px;width:14px;height:14px;background:#f3f3f3;border:1px solid #e2e2e2;"></div><svg class="a" style="left:576.0px;top:708.7px" width="8" height="4" viewBox="0 0 8 4"><path d="M0 0H8L4.0 4Z" fill="#555"/></svg><div class="t" style="left:592.20px;top:703.30px;font-size:11px;line-height:14px;color:#000;white-space:pre;letter-spacing:-0.375px;">68.6789 mmHg</div><svg class="a" style="left:680px;top:705px;" width="14" height="14" viewBox="0 0 14 14"><defs><linearGradient id="Ggreen687712" x1="0" y1="0" x2="0" y2="1"><stop offset="0" stop-color="#a4d48e"/><stop offset=".45" stop-color="#55a536"/><stop offset=".8" stop-color="#2f900f"/><stop offset="1" stop-color="#2a7a12"/></linearGradient></defs><circle cx="7" cy="7" r="6.6" fill="url(#Ggreen687712)"/><rect x="6" y="6" width="2.2" height="5" fill="#f2eef2"/><rect x="5.2" y="6" width="2" height="1" fill="#f2eef2"/><rect x="5.2" y="10.2" width="4" height="1" fill="#f2eef2"/><circle cx="7" cy="3.8" r="1.2" fill="#f2eef2"/></svg><div style="left:572px;top:724px;width:124px;height:16px;background:linear-gradient(#f4f4f4,#e6e6e6);border:1px solid #adadad;"></div><div style="left:574px;top:727px;width:12px;height:10px;background:#a600bc;border:1px solid #808080;"></div><div class="t" style="left:592.20px;top:725.30px;font-size:11px;line-height:14px;color:#000;white-space:pre;letter-spacing:-0.445px;">Diastolic BP</div><svg class="a" style="left:684.0px;top:731.0px" width="10" height="5" viewBox="0 0 10 5"><path d="M0 0H10L5.0 5Z" fill="#000"/></svg><div style="left:26px;top:698px;width:67px;height:51px;overflow:hidden;"><div class="t" style="left:46.77px;top:3.90px;font-size:11px;line-height:14px;color:#000;white-space:pre;">75</div><div style="left:63px;top:11px;width:3px;height:1px;background:#000;"></div><div class="t" style="left:46.77px;top:22.90px;font-size:11px;line-height:14px;color:#000;white-space:pre;">70</div><div style="left:63px;top:30px;width:3px;height:1px;background:#000;"></div><div class="t" style="left:46.77px;top:41.90px;font-size:11px;line-height:14px;color:#000;white-space:pre;">65</div><div style="left:63px;top:49px;width:3px;height:1px;background:#000;"></div></div><svg class="a" style="left:0;top:0" width="700" height="800" viewBox="0 0 700 800"><defs><clipPath id="rc0"><rect x="96" y="56" width="472" height="49"/></clipPath><clipPath id="rc1"><rect x="96" y="109" width="472" height="50"/></clipPath><clipPath id="rc2"><rect x="96" y="163" width="472" height="49"/></clipPath><clipPath id="rc3"><rect x="96" y="216" width="472" height="50"/></clipPath><clipPath id="rc4"><rect x="96" y="270" width="472" height="49"/></clipPath><clipPath id="rc5"><rect x="96" y="323" width="472" height="50"/></clipPath><clipPath id="rc6"><rect x="96" y="377" width="472" height="49"/></clipPath><clipPath id="rc7"><rect x="96" y="430" width="472" height="50"/></clipPath><clipPath id="rc8"><rect x="96" y="484" width="472" height="49"/></clipPath><clipPath id="rc9"><rect x="96" y="537" width="472" height="50"/></clipPath><clipPath id="rc10"><rect x="96" y="591" width="472" height="49"/></clipPath><clipPath id="rc11"><rect x="96" y="644" width="472" height="50"/></clipPath><clipPath id="rc12"><rect x="96" y="698" width="472" height="50"/></clipPath></defs><g clip-path="url(#rc0)"><polyline points="96.0,75.7 97.0,78.2 98.0,80.0 99.0,82.2 100.0,84.4 101.0,86.1 102.0,88.1 103.0,89.8 104.0,92.0 105.0,94.2 106.0,96.3 107.0,98.4 108.2,94.1 108.6,82.1 109.4,79.3 110.0,76.9 111.2,76.0 112.5,75.9 114.0,75.2 115.5,74.1 116.2,76.0 116.8,79.7 117.9,80.9 118.9,82.9 120.0,84.8 121.0,86.0 122.1,88.0 123.1,89.8 124.2,91.5 125.2,93.1 126.3,94.6 127.3,96.5 128.4,98.1 129.6,94.2 130.0,79.2 130.8,76.5 131.4,73.7 132.7,73.0 133.9,72.9 135.4,71.6 136.9,71.3 137.6,72.7 138.2,76.4 139.3,78.0 140.3,79.9 141.4,81.8 142.4,83.4 143.5,85.5 144.5,86.8 145.6,89.0 146.6,90.6 147.7,92.4 148.7,94.3 149.8,96.0 150.8,97.7 152.0,93.5 152.4,77.0 153.2,74.4 153.8,71.5 155.1,71.3 156.3,71.1 157.8,69.9 159.3,69.0 160.0,70.7 160.6,74.4 161.7,76.3 162.8,79.1 163.8,81.3 164.9,83.4 166.0,85.4 167.1,87.9 168.2,89.6 169.2,91.9 170.3,94.3 171.4,96.7 172.6,92.5 173.0,74.9 173.8,72.1 174.4,69.3 175.7,68.9 176.9,68.5 178.4,67.6 179.9,67.2 180.6,68.9 181.2,72.4 182.2,74.4 183.3,76.6 184.3,79.0 185.4,81.2 186.4,83.3 187.4,85.6 188.5,87.8 189.5,89.4 190.6,92.2 191.6,94.0 192.7,96.3 193.7,98.7 194.9,94.7 195.3,74.1 196.1,71.4 196.7,68.2 197.9,68.0 199.2,68.0 200.7,66.7 202.2,66.4 202.9,68.0 203.5,71.5 204.5,73.7 205.6,75.3 206.6,77.8 207.7,80.0 208.7,81.8 209.7,84.3 210.8,86.6 211.8,88.9 212.8,91.1 213.9,92.7 214.9,95.0 216.0,97.4 217.0,99.2 218.2,95.3 218.6,76.1 219.4,72.8 220.0,70.4 221.2,70.1 222.5,69.2 224.0,68.5 225.5,68.2 226.2,69.8 226.8,72.8 227.9,74.8 228.9,77.4 230.0,79.5 231.1,81.1 232.1,83.3 233.2,85.6 234.3,87.8 235.4,89.4 236.4,91.8 237.5,94.0 238.6,95.9 239.6,97.7 240.7,99.7 241.9,95.8 242.3,75.9 243.1,72.4 243.7,69.6 244.9,69.5 246.2,68.9 247.7,68.0 249.2,67.4 249.9,69.2 250.5,72.8 251.5,74.8 252.5,76.7 253.5,78.9 254.5,81.2 255.5,83.6 256.6,85.7 257.6,87.3 258.6,89.2 259.6,91.9 260.6,94.1 261.6,95.9 262.6,98.2 263.8,94.3 264.2,74.4 265.0,71.6 265.6,68.2 266.9,68.0 268.1,67.6 269.6,66.5 271.1,66.6 271.8,67.5 272.4,71.4 273.4,73.0 274.4,75.3 275.5,77.4 276.5,79.3 277.5,81.6 278.5,83.6 279.6,85.5 280.6,87.9 281.6,89.5 282.6,91.6 283.6,93.7 284.7,95.8 285.7,97.7 286.7,100.3 287.9,96.2 288.3,73.1 289.1,70.3 289.7,67.4 290.9,67.2 292.2,66.7 293.7,65.9 295.2,65.7 295.9,66.8 296.5,70.5 297.5,72.6 298.5,74.9 299.5,76.6 300.5,79.2 301.5,81.5 302.5,83.4 303.6,85.4 304.6,87.8 305.6,90.0 306.6,92.1 307.6,93.9 308.6,96.7 309.6,98.8 310.8,94.4 311.2,75.8 312.0,72.4 312.6,70.2 313.9,69.8 315.1,69.3 316.6,68.4 318.1,67.5 318.8,69.1 319.4,72.5 320.5,74.5 321.5,76.0 322.6,78.3 323.7,79.8 324.7,81.5 325.8,83.1 326.9,85.3 327.9,87.1 329.0,88.8 330.1,90.3 331.1,92.4 332.2,93.8 333.4,90.2 333.8,72.6 334.6,69.4 335.2,66.7 336.4,66.4 337.7,65.8 339.2,65.2 340.7,64.4 341.4,66.3 342.0,69.7 343.1,71.2 344.1,73.6 345.2,75.3 346.2,77.6 347.3,79.5 348.4,81.4 349.4,83.7 350.5,85.1 351.6,87.4 352.6,89.2 353.7,91.0 354.7,93.5 355.8,95.3 357.0,91.6 357.4,71.7 358.2,68.5 358.8,66.1 360.1,65.2 361.3,64.8 362.8,64.3 364.3,63.5 365.0,65.0 365.6,68.9 366.6,70.5 367.7,72.8 368.7,74.6 369.7,76.4 370.7,78.2 371.8,80.3 372.8,82.8 373.8,84.4 374.9,86.2 375.9,88.2 376.9,90.6 377.9,92.1 379.0,94.5 380.0,96.0 381.2,92.6 381.6,72.5 382.4,69.2 383.0,67.0 384.2,66.3 385.5,66.2 387.0,65.0 388.5,64.2 389.2,65.7 389.8,69.3 390.8,71.3 391.9,73.3 392.9,75.3 393.9,78.0 394.9,79.4 396.0,81.7 397.0,83.5 398.0,85.6 399.1,88.0 400.1,90.2 401.1,91.9 402.1,93.6 403.2,96.3 404.2,97.7 405.4,93.9 405.8,75.7 406.6,73.0 407.2,70.1 408.4,69.6 409.7,69.1 411.2,68.4 412.7,68.0 413.4,69.5 414.0,72.9 415.1,74.3 416.1,76.4 417.2,78.4 418.2,80.4 419.3,82.5 420.4,84.0 421.4,86.2 422.5,87.9 423.6,90.1 424.6,91.6 425.7,93.8 426.7,95.4 427.8,97.4 429.0,93.9 429.4,73.5 430.2,70.9 430.8,67.8 432.1,67.1 433.3,67.3 434.8,65.8 436.3,65.8 437.0,66.8 437.6,70.7 438.6,72.4 439.7,74.6 440.7,77.1 441.7,78.8 442.7,81.0 443.8,83.1 444.8,84.7 445.8,87.3 446.9,89.4 447.9,90.9 448.9,93.3 449.9,95.1 451.0,97.5 452.0,99.1 453.2,95.4 453.6,74.2 454.4,71.2 455.0,67.9 456.2,68.1 457.5,67.3 459.0,66.7 460.5,66.0 461.2,67.3 461.8,71.2 462.8,73.5 463.9,75.6 464.9,78.1 465.9,79.8 467.0,82.1 468.0,84.3 469.0,86.8 470.0,89.0 471.1,91.2 472.1,93.5 473.1,95.6 474.2,97.7 475.2,100.3 476.4,96.1 476.8,76.0 477.6,73.3 478.2,70.0 479.4,69.9 480.7,69.6 482.2,68.3 483.7,68.0 484.4,69.8 485.0,72.9 486.0,75.0 487.1,76.9 488.1,78.4 489.1,80.6 490.1,82.2 491.2,83.9 492.2,85.9 493.2,87.5 494.3,89.5 495.3,91.1 496.3,93.3 497.3,94.9 498.4,96.5 499.4,98.5 500.6,94.8 501.0,77.2 501.8,74.0 502.4,71.1 503.6,70.8 504.9,70.8 506.4,69.2 507.9,69.3 508.6,70.8 509.2,73.8 510.2,76.1 511.3,78.4 512.3,80.8 513.4,83.1 514.4,85.3 515.5,87.0 516.5,89.1 517.5,91.5 518.6,93.8 519.6,96.0 520.7,97.8 521.7,100.4 522.9,96.6 523.3,75.0 524.1,72.0 524.7,69.2 526.0,68.9 527.2,67.9 528.7,67.5 530.2,66.5 530.9,68.1 531.5,71.7 532.5,74.1 533.6,75.9 534.6,77.8 535.7,79.9 536.7,82.3 537.7,84.3 538.8,85.9 539.8,88.0 540.8,90.2 541.9,92.1 542.9,94.4 544.0,96.2 545.0,98.6 546.2,94.8 546.6,75.9 547.4,72.4 548.0,69.7 549.2,69.5 550.5,69.3 552.0,68.1 553.5,67.5 554.2,69.1 554.8,72.5 555.8,74.7 556.9,76.4 557.9,78.0 559.0,79.9 560.0,81.6 561.0,83.4 562.1,85.0 563.1,86.9 564.2,89.0 565.2,90.6 566.3,92.5 567.3,93.7 568.5,90.0 568.9,75.9 569.7,72.7 570.3,70.1" fill="none" stroke="#dd0000" stroke-width="1.3" stroke-linejoin="miter" shape-rendering="crispEdges" /></g><g clip-path="url(#rc1)"><polyline points="96.0,133.7 96.5,123.9 97.0,121.1 97.5,121.7 98.0,126.9 98.5,143.1 99.0,147.4 99.5,147.5 100.0,143.5 100.5,127.3 101.0,121.5 101.5,120.7 102.0,123.3 102.5,131.4 103.0,142.6 103.5,144.2 104.0,142.9 104.5,138.7 105.0,127.9 105.5,126.0 106.0,126.6 106.5,128.9 107.0,136.3 107.5,138.8 108.0,139.0 108.5,137.8 109.0,134.9 109.5,130.1 110.0,128.9 110.5,128.9 111.0,130.7 111.5,137.2 112.0,139.1 112.5,139.4 113.0,138.0 113.5,131.5 114.0,128.7 114.5,128.2 115.0,129.1 115.5,132.0 116.0,137.4 116.5,138.2 117.0,137.8 117.5,136.1 118.0,131.4 118.5,130.3 119.0,130.3 119.5,131.1 120.0,134.8 120.5,136.6 121.0,137.2 121.5,136.8 122.0,135.1 122.5,130.8 123.0,129.6 123.5,129.5 124.0,130.8 124.5,136.5 125.0,138.4 125.5,138.9 126.0,137.8 126.5,132.3 127.0,129.2 127.5,128.4 128.0,129.1 128.5,131.8 129.0,136.5 129.5,137.0 130.0,136.3 130.5,135.1 131.0,132.8 131.5,132.2 132.0,132.2 132.5,132.5 133.0,134.0 133.5,134.9 134.0,135.1 134.5,135.0 135.0,134.4 135.5,132.6 136.0,132.1 136.5,131.1 137.0,131.2 137.5,136.2 138.0,139.4 138.5,141.3 139.0,141.1 139.5,133.7 140.0,124.1 140.5,121.8 141.0,122.9 141.5,127.8 142.0,141.5 142.5,144.5 143.0,144.1 143.5,140.9 144.0,129.2 144.5,125.4 145.0,125.0 145.5,126.8 146.0,132.2 146.5,139.8 147.0,141.2 147.5,140.7 148.0,137.8 148.5,128.5 149.0,125.7 149.5,125.1 150.0,127.0 150.5,137.9 151.0,143.1 151.5,144.9 152.0,143.7 152.5,136.9 153.0,124.7 153.5,122.7 154.0,123.8 154.5,128.0 155.0,139.5 155.5,141.9 156.0,141.3 156.5,139.2 157.0,131.0 157.5,127.8 158.0,127.4 158.5,128.6 159.0,131.9 159.5,137.7 160.0,138.7 160.5,138.3 161.0,136.6 161.5,130.8 162.0,129.0 162.5,128.6 163.0,129.6 163.5,135.6 164.0,138.9 164.5,140.1 165.0,139.6 165.5,136.4 166.0,128.3 166.5,126.3 167.0,126.4 167.5,128.9 168.0,138.1 168.5,140.9 169.0,141.2 169.5,139.4 170.0,131.8 170.5,128.4 171.0,128.3 171.5,129.6 172.0,132.0 172.5,136.1 173.0,136.4 173.5,135.9 174.0,134.9 174.5,132.9 175.0,132.7 175.5,132.6 176.0,132.8 176.5,133.9 177.0,134.7 177.5,135.0 178.0,135.0 178.5,134.4 179.0,132.6 179.5,132.1 180.0,132.1 180.5,132.5 181.0,134.6 181.5,135.3 182.0,135.5 182.5,135.1 183.0,133.7 183.5,131.7 184.0,130.5 184.5,130.3 185.0,131.5 185.5,136.9 186.0,138.6 186.5,138.4 187.0,136.9 187.5,131.6 188.0,129.8 188.5,129.3 189.0,130.0 189.5,132.8 190.0,137.5 190.5,138.7 191.0,138.6 191.5,136.7 192.0,129.8 192.5,127.5 193.0,127.1 193.5,128.6 194.0,136.8 194.5,140.4 195.0,141.4 195.5,140.2 196.0,135.8 196.5,127.8 197.0,126.4 197.5,127.1 198.0,129.8 198.5,137.7 199.0,139.6 199.5,139.4 200.0,137.8 200.5,131.7 201.0,129.3 201.5,128.8 202.0,129.5 202.5,132.1 203.0,137.5 203.5,138.9 204.0,138.9 204.5,137.2 205.0,130.0 205.5,127.0 206.0,125.6 206.5,126.7 207.0,137.1 207.5,143.5 208.0,146.2 208.5,145.4 209.0,139.1 209.5,123.0 210.0,119.4 210.5,120.0 211.0,124.8 211.5,141.6 212.0,146.2 212.5,146.6 213.0,143.4 213.5,130.5 214.0,124.0 214.5,122.5 215.0,124.0 215.5,129.2 216.0,141.2 216.5,144.0 217.0,144.0 217.5,140.9 218.0,127.5 218.5,122.6 219.0,121.1 219.5,123.1 220.0,136.3 220.5,145.7 221.0,148.5 221.5,147.3 222.0,140.8 222.5,123.6 223.0,120.5 223.5,121.5 224.0,126.0 224.5,138.8 225.0,142.0 225.5,141.6 226.0,139.2 226.5,133.7 227.0,128.8 227.5,128.0 228.0,128.8 228.5,131.1 229.0,137.1 229.5,138.5 230.0,138.6 230.5,137.3 231.0,131.2 231.5,128.6 232.0,127.7 232.5,128.4 233.0,132.4 233.5,139.4 234.0,141.2 234.5,140.9 235.0,138.0 235.5,128.3 236.0,125.6 236.5,125.4 237.0,127.6 237.5,137.2 238.0,140.9 238.5,141.5 239.0,140.0 239.5,135.6 240.0,128.5 240.5,127.4 241.0,128.1 241.5,130.5 242.0,137.1 242.5,138.7 243.0,138.8 243.5,137.5 244.0,131.7 244.5,128.9 245.0,128.0 245.5,128.5 246.0,131.6 246.5,138.9 247.0,140.8 247.5,140.8 248.0,138.4 248.5,128.8 249.0,125.7 249.5,125.2 250.0,127.1 250.5,136.6 251.0,141.1 251.5,142.1 252.0,140.8 252.5,136.7 253.0,128.2 253.5,126.7 254.0,127.4 254.5,129.8 255.0,137.1 255.5,139.0 256.0,139.1 256.5,137.9 257.0,132.3 257.5,129.2 258.0,128.2 258.5,128.6 259.0,131.1 259.5,138.6 260.0,141.1 260.5,141.7 261.0,139.7 261.5,128.3 262.0,123.5 262.5,122.3 263.0,124.4 263.5,136.0 264.0,143.5 264.5,145.4 265.0,144.1 265.5,138.9 266.0,126.2 266.5,123.7 267.0,124.3 267.5,128.9 268.0,136.1 268.5,136.2 269.0,134.6 269.5,134.4 270.0,133.7 270.5,133.0 271.0,132.8 271.5,132.9 272.0,133.2 272.5,134.3 273.0,134.7 273.5,134.7 274.0,134.5 274.5,133.1 275.0,132.6 275.5,131.8 276.0,131.5 276.5,133.1 277.0,136.9 277.5,138.4 278.0,138.6 278.5,136.5 279.0,130.3 279.5,128.9 280.0,129.0 280.5,130.4 281.0,135.6 281.5,137.4 282.0,137.7 282.5,136.9 283.0,134.7 283.5,131.0 284.0,130.3 284.5,130.5 285.0,131.7 285.5,136.0 286.0,137.3 286.5,137.7 287.0,136.9 287.5,131.4 288.0,126.9 288.5,124.0 289.0,123.5 289.5,129.1 290.0,145.9 290.5,150.5 291.0,150.4 291.5,144.6 292.0,122.5 292.5,115.9 293.0,115.0 293.5,119.5 294.0,139.7 294.5,149.1 295.0,151.0 295.5,148.3 296.0,139.9 296.5,122.5 297.0,119.6 297.5,120.7 298.0,125.4 298.5,141.1 299.0,146.0 299.5,147.0 300.0,144.5 300.5,129.8 301.0,121.1 301.5,118.2 302.0,119.5 302.5,127.3 303.0,143.6 303.5,145.7 304.0,143.7 304.5,140.6 305.0,128.0 305.5,123.9 306.0,123.2 306.5,125.5 307.0,135.6 307.5,141.6 308.0,142.8 308.5,141.4 309.0,137.5 309.5,128.4 310.0,126.6 310.5,127.0 311.0,129.1 311.5,137.0 312.0,139.8 312.5,140.5 313.0,139.4 313.5,133.7 314.0,127.4 314.5,125.4 315.0,125.7 315.5,129.6 316.0,138.8 316.5,140.2 317.0,139.3 317.5,137.0 318.0,132.1 318.5,130.5 319.0,130.2 319.5,130.8 320.0,133.0 320.5,136.3 321.0,136.9 321.5,136.5 322.0,135.2 322.5,131.9 323.0,131.3 323.5,130.3 324.0,130.6 324.5,135.9 325.0,139.0 325.5,140.6 326.0,140.4 326.5,135.9 327.0,127.1 327.5,124.9 328.0,125.0 328.5,128.1 329.0,140.3 329.5,144.3 330.0,145.2 330.5,142.7 331.0,128.9 331.5,122.5 332.0,120.7 332.5,122.5 333.0,129.4 333.5,143.3 334.0,145.9 334.5,144.9 335.0,140.4 335.5,128.1 336.0,126.5 336.5,127.7 337.0,130.2 337.5,134.8 338.0,135.6 338.5,135.9 339.0,135.6 339.5,134.5 340.0,132.1 340.5,131.5 341.0,131.4 341.5,132.1 342.0,135.2 342.5,136.3 343.0,136.7 343.5,136.1 344.0,132.8 344.5,130.8 345.0,130.2 345.5,128.7 346.0,130.4 346.5,140.7 347.0,145.1 347.5,144.6 348.0,140.8 348.5,128.1 349.0,124.5 349.5,124.3 350.0,126.6 350.5,135.3 351.0,140.3 351.5,141.3 352.0,140.3 352.5,136.9 353.0,129.0 353.5,127.2 354.0,127.3 354.5,129.1 355.0,137.2 355.5,140.4 356.0,141.5 356.5,140.4 357.0,133.7 357.5,126.3 358.0,124.2 358.5,124.8 359.0,128.7 359.5,140.5 360.0,143.4 360.5,143.4 361.0,140.5 361.5,129.3 362.0,125.5 362.5,125.0 363.0,126.9 363.5,132.2 364.0,139.5 364.5,140.6 365.0,139.7 365.5,136.7 366.0,130.5 366.5,129.7 367.0,130.2 367.5,131.1 368.0,135.3 368.5,137.2 369.0,137.9 369.5,137.5 370.0,135.0 370.5,129.8 371.0,128.5 371.5,128.6 372.0,130.5 372.5,138.1 373.0,141.6 373.5,143.0 374.0,141.5 374.5,129.7 375.0,124.8 375.5,123.9 376.0,125.7 376.5,130.8 377.0,140.1 377.5,141.5 378.0,140.7 378.5,137.9 379.0,129.7 379.5,127.5 380.0,127.4 380.5,128.8 381.0,135.8 381.5,139.5 382.0,140.7 382.5,140.2 383.0,136.7 383.5,127.9 384.0,126.1 384.5,126.6 385.0,129.2 385.5,137.6 386.0,139.6 386.5,140.1 387.0,138.8 387.5,132.0 388.0,128.3 388.5,127.4 389.0,128.3 389.5,131.2 390.0,137.7 390.5,138.8 391.0,138.4 391.5,136.7 392.0,131.3 392.5,129.8 393.0,129.7 393.5,130.6 394.0,134.4 394.5,137.0 395.0,137.8 395.5,137.8 396.0,136.0 396.5,129.8 397.0,127.5 397.5,127.2 398.0,128.9 398.5,137.4 399.0,140.8 399.5,141.7 400.0,140.4 400.5,133.7 401.0,126.9 401.5,125.4 402.0,126.2 402.5,129.7 403.0,138.9 403.5,140.8 404.0,140.5 404.5,138.3 405.0,130.8 405.5,128.4 406.0,128.1 406.5,129.2 407.0,132.7 407.5,137.8 408.0,138.8 408.5,138.6 409.0,136.6 409.5,130.0 410.0,127.9 410.5,127.4 411.0,128.8 411.5,136.8 412.0,140.5 412.5,141.7 413.0,140.7 413.5,136.0 414.0,126.9 414.5,125.0 415.0,125.6 415.5,128.8 416.0,138.9 416.5,141.4 417.0,141.4 417.5,139.2 418.0,131.0 418.5,127.9 419.0,127.4 419.5,128.6 420.0,131.8 420.5,138.3 421.0,140.1 421.5,140.2 422.0,138.2 422.5,129.1 423.0,126.0 423.5,125.2 424.0,126.8 424.5,136.9 425.0,142.5 425.5,144.5 426.0,143.5 426.5,138.1 427.0,124.8 427.5,121.6 428.0,121.9 428.5,126.0 429.0,140.7 429.5,144.9 430.0,145.3 430.5,142.4 431.0,130.8 431.5,125.1 432.0,124.1 432.5,125.7 433.0,130.1 433.5,139.5 434.0,141.3 434.5,140.9 435.0,138.5 435.5,129.7 436.0,126.6 436.5,125.8 437.0,127.0 437.5,135.3 438.0,140.6 438.5,142.0 439.0,141.1 439.5,137.4 440.0,128.3 440.5,126.0 441.0,125.8 441.5,128.1 442.0,137.9 442.5,141.2 443.0,141.8 443.5,140.1 444.0,133.7 444.5,127.8 445.0,126.8 445.5,127.8 446.0,130.6 446.5,137.6 447.0,139.0 447.5,138.8 448.0,137.2 448.5,131.4 449.0,129.2 449.5,128.6 450.0,129.4 450.5,132.6 451.0,139.1 451.5,141.4 452.0,141.8 452.5,138.7 453.0,127.3 453.5,123.8 454.0,123.2 454.5,125.8 455.0,138.5 455.5,143.8 456.0,145.1 456.5,143.2 457.0,136.7 457.5,125.4 458.0,123.6 458.5,124.6 459.0,128.5 459.5,139.1 460.0,141.5 460.5,141.4 461.0,139.2 461.5,131.0 462.0,127.6 462.5,126.7 463.0,127.7 463.5,131.3 464.0,139.4 464.5,141.5 465.0,141.6 465.5,139.0 466.0,128.1 466.5,124.3 467.0,123.3 467.5,125.4 468.0,137.4 468.5,143.7 469.0,145.5 469.5,144.0 470.0,138.1 470.5,125.2 471.0,122.7 471.5,123.5 472.0,127.3 472.5,138.1 473.0,138.9 473.5,137.1 474.0,135.0 474.5,133.3 475.0,132.4 475.5,132.3 476.0,132.4 476.5,133.1 477.0,134.7 477.5,135.2 478.0,135.2 478.5,134.8 479.0,132.8 479.5,132.0 480.0,131.7 480.5,132.0 481.0,134.1 481.5,135.6 482.0,136.0 482.5,135.8 483.0,134.8 483.5,132.1 484.0,131.4 484.5,131.5 485.0,132.2 485.5,134.8 486.0,135.5 486.5,135.6 487.0,135.1 487.5,133.7 488.0,132.4 488.5,132.2 489.0,132.4 489.5,133.0 490.0,134.7 490.5,135.1 491.0,135.1 491.5,134.8 492.0,132.9 492.5,132.1 493.0,131.9 493.5,132.1 494.0,133.3 494.5,135.4 495.0,135.9 495.5,136.3 496.0,135.6 496.5,131.0 497.0,129.2 497.5,129.1 498.0,130.4 498.5,135.6 499.0,137.5 499.5,137.8 500.0,137.0 500.5,134.7 501.0,131.0 501.5,130.5 502.0,130.8 502.5,132.2 503.0,135.0 503.5,135.4 504.0,135.1 504.5,134.8 505.0,133.1 505.5,132.3 506.0,132.0 506.5,132.2 507.0,133.1 507.5,135.2 508.0,135.8 508.5,135.8 509.0,135.1 509.5,132.3 510.0,131.5 510.5,131.4 511.0,131.9 511.5,134.5 512.0,135.6 512.5,135.9 513.0,135.5 513.5,134.4 514.0,132.3 514.5,132.0 515.0,132.1 515.5,132.1 516.0,135.7 516.5,137.8 517.0,138.9 517.5,138.5 518.0,131.8 518.5,127.3 519.0,125.6 519.5,126.0 520.0,129.7 520.5,140.9 521.0,144.3 521.5,144.8 522.0,141.7 522.5,126.8 523.0,121.3 523.5,119.9 524.0,122.4 524.5,136.4 525.0,145.0 525.5,146.8 526.0,144.9 526.5,139.2 527.0,126.0 527.5,123.7 528.0,124.4 528.5,127.7 529.0,137.9 529.5,140.8 530.0,141.0 530.5,138.8 531.0,133.7 531.5,130.0 532.0,130.0 532.5,131.1 533.0,132.7 533.5,135.1 534.0,135.9 534.5,136.0 535.0,135.5 535.5,132.5 536.0,131.2 536.5,130.8 537.0,131.3 537.5,133.1 538.0,136.1 538.5,136.6 539.0,136.4 539.5,135.2 540.0,132.0 540.5,131.2 541.0,131.3 541.5,132.0 542.0,134.6 542.5,135.5 543.0,135.6 543.5,135.3 544.0,134.2 544.5,132.3 545.0,131.9 545.5,132.0 546.0,132.6 546.5,134.9 547.0,135.7 547.5,135.9 548.0,135.4 548.5,132.8 549.0,131.4 549.5,131.0 550.0,131.3 550.5,132.7 551.0,135.9 551.5,136.6 552.0,136.5 552.5,137.1 553.0,128.8 553.5,123.8 554.0,121.3 554.5,124.6 555.0,137.4 555.5,143.0 556.0,143.9 556.5,142.2 557.0,137.2 557.5,127.1 558.0,125.1 558.5,125.4 559.0,128.1 559.5,138.9 560.0,142.7 560.5,143.8 561.0,142.1 561.5,130.6 562.0,123.4 562.5,120.8 563.0,121.7 563.5,127.7 564.0,144.2 564.5,148.3 565.0,148.2 565.5,143.6 566.0,125.7 566.5,120.1 567.0,119.4 567.5,122.7 568.0,136.2" fill="none" stroke="#00008b" stroke-width="1.0" stroke-linejoin="miter" shape-rendering="crispEdges" /></g><g clip-path="url(#rc2)"><polyline points="96.0,193.2 97.0,193.2 97.0,193.0 98.0,193.0 98.0,191.7 99.0,191.7 99.0,191.6 100.0,191.6 100.0,191.9 101.0,191.9 101.0,191.9 102.0,191.9 102.0,191.4 103.0,191.4 103.0,192.7 104.0,192.7 104.0,193.5 105.0,193.5 105.0,195.4 106.0,195.4 106.0,193.8 107.0,193.8 107.0,193.3 108.0,193.3 108.0,192.5 109.0,192.5 109.0,192.3 110.0,192.3 110.0,193.6 111.0,193.6 111.0,193.9 112.0,193.9 112.0,193.2 113.0,193.2 113.0,194.6 114.0,194.6 114.0,194.3 115.0,194.3 115.0,195.0 116.0,195.0 116.0,195.1 117.0,195.1 117.0,196.1 118.0,196.1 118.0,195.4 119.0,195.4 119.0,194.5 120.0,194.5 120.0,195.1 121.0,195.1 121.0,194.5 122.0,194.5 122.0,192.1 123.0,192.1 123.0,190.4 124.0,190.4 124.0,189.3 125.0,189.3 125.0,190.9 126.0,190.9 126.0,191.1 127.0,191.1 127.0,189.5 128.0,189.5 128.0,189.0 129.0,189.0 129.0,187.9 130.0,187.9 130.0,186.3 131.0,186.3 131.0,185.3 132.0,185.3 132.0,186.0 133.0,186.0 133.0,185.4 134.0,185.4 134.0,184.6 135.0,184.6 135.0,183.8 136.0,183.8 136.0,184.5 137.0,184.5 137.0,185.9 138.0,185.9 138.0,186.9 139.0,186.9 139.0,187.2 140.0,187.2 140.0,187.3 141.0,187.3 141.0,188.0 142.0,188.0 142.0,187.3 143.0,187.3 143.0,186.5 144.0,186.5 144.0,186.7 145.0,186.7 145.0,188.1 146.0,188.1 146.0,188.6 147.0,188.6 147.0,189.6 148.0,189.6 148.0,188.9 149.0,188.9 149.0,186.0 150.0,186.0 150.0,184.8 151.0,184.8 151.0,183.1 152.0,183.1 152.0,184.6 153.0,184.6 153.0,185.4 154.0,185.4 154.0,186.0 155.0,186.0 155.0,185.3 156.0,185.3 156.0,183.0 157.0,183.0 157.0,181.9 158.0,181.9 158.0,181.5 159.0,181.5 159.0,182.4 160.0,182.4 160.0,182.3 161.0,182.3 161.0,182.9 162.0,182.9 162.0,180.2 163.0,180.2 163.0,176.1 164.0,176.1 164.0,173.0 165.0,173.0 165.0,172.0 166.0,172.0 166.0,174.8 167.0,174.8 167.0,176.4 168.0,176.4 168.0,177.1 169.0,177.1 169.0,177.1 170.0,177.1 170.0,177.8 171.0,177.8 171.0,178.1 172.0,178.1 172.0,180.1 173.0,180.1 173.0,182.3 174.0,182.3 174.0,182.2 175.0,182.2 175.0,181.7 176.0,181.7 176.0,181.4 177.0,181.4 177.0,181.8 178.0,181.8 178.0,181.1 179.0,181.1 179.0,183.3 180.0,183.3 180.0,183.4 181.0,183.4 181.0,183.8 182.0,183.8 182.0,184.8 183.0,184.8 183.0,184.6 184.0,184.6 184.0,185.6 185.0,185.6 185.0,185.2 186.0,185.2 186.0,184.7 187.0,184.7 187.0,184.4 188.0,184.4 188.0,185.9 189.0,185.9 189.0,186.5 190.0,186.5 190.0,187.0 191.0,187.0 191.0,187.0 192.0,187.0 192.0,185.7 193.0,185.7 193.0,184.5 194.0,184.5 194.0,184.1 195.0,184.1 195.0,182.7 196.0,182.7 196.0,183.3 197.0,183.3 197.0,186.5 198.0,186.5 198.0,188.7 199.0,188.7 199.0,191.2 200.0,191.2 200.0,190.9 201.0,190.9 201.0,190.0 202.0,190.0 202.0,188.9 203.0,188.9 203.0,189.4 204.0,189.4 204.0,190.0 205.0,190.0 205.0,189.5 206.0,189.5 206.0,188.6 207.0,188.6 207.0,189.0 208.0,189.0 208.0,189.1 209.0,189.1 209.0,189.7 210.0,189.7 210.0,190.1 211.0,190.1 211.0,192.4 212.0,192.4 212.0,192.5 213.0,192.5 213.0,192.1 214.0,192.1 214.0,192.5 215.0,192.5 215.0,191.0 216.0,191.0 216.0,190.5 217.0,190.5 217.0,190.8 218.0,190.8 218.0,188.9 219.0,188.9 219.0,186.8 220.0,186.8 220.0,184.6 221.0,184.6 221.0,183.8 222.0,183.8 222.0,183.1 223.0,183.1 223.0,180.7 224.0,180.7 224.0,178.6 225.0,178.6 225.0,179.0 226.0,179.0 226.0,179.8 227.0,179.8 227.0,182.2 228.0,182.2 228.0,182.0 229.0,182.0 229.0,182.8 230.0,182.8 230.0,181.0 231.0,181.0 231.0,180.7 232.0,180.7 232.0,182.6 233.0,182.6 233.0,184.4 234.0,184.4 234.0,184.8 235.0,184.8 235.0,185.7 236.0,185.7 236.0,188.0 237.0,188.0 237.0,185.2 238.0,185.2 238.0,184.4 239.0,184.4 239.0,182.4 240.0,182.4 240.0,183.2 241.0,183.2 241.0,183.2 242.0,183.2 242.0,182.7 243.0,182.7 243.0,181.7 244.0,181.7 244.0,182.0 245.0,182.0 245.0,179.5 246.0,179.5 246.0,178.6 247.0,178.6 247.0,177.5 248.0,177.5 248.0,177.2 249.0,177.2 249.0,176.3 250.0,176.3 250.0,179.0 251.0,179.0 251.0,180.1 252.0,180.1 252.0,181.9 253.0,181.9 253.0,183.0 254.0,183.0 254.0,185.0 255.0,185.0 255.0,186.0 256.0,186.0 256.0,186.5 257.0,186.5 257.0,186.1 258.0,186.1 258.0,180.7 259.0,180.7 259.0,174.3 260.0,174.3 260.0,176.1 261.0,176.1 261.0,179.5 262.0,179.5 262.0,181.8 263.0,181.8 263.0,181.5 264.0,181.5 264.0,181.8 265.0,181.8 265.0,183.0 266.0,183.0 266.0,183.0 267.0,183.0 267.0,180.1 268.0,180.1 268.0,177.8 269.0,177.8 269.0,175.9 270.0,175.9 270.0,176.4 271.0,176.4 271.0,177.3 272.0,177.3 272.0,180.5 273.0,180.5 273.0,180.9 274.0,180.9 274.0,181.9 275.0,181.9 275.0,181.3 276.0,181.3 276.0,183.3 277.0,183.3 277.0,182.5 278.0,182.5 278.0,181.3 279.0,181.3 279.0,182.2 280.0,182.2 280.0,182.3 281.0,182.3 281.0,184.4 282.0,184.4 282.0,184.6 283.0,184.6 283.0,182.8 284.0,182.8 284.0,181.1 285.0,181.1 285.0,177.5 286.0,177.5 286.0,177.6 287.0,177.6 287.0,176.6 288.0,176.6 288.0,178.0 289.0,178.0 289.0,180.3 290.0,180.3 290.0,184.8 291.0,184.8 291.0,187.1 292.0,187.1 292.0,189.4 293.0,189.4 293.0,189.6 294.0,189.6 294.0,192.2 295.0,192.2 295.0,192.3 296.0,192.3 296.0,193.2 297.0,193.2 297.0,195.8 298.0,195.8 298.0,199.4 299.0,199.4 299.0,200.2 300.0,200.2 300.0,201.7 301.0,201.7 301.0,203.4 302.0,203.4 302.0,204.6 303.0,204.6 303.0,203.1 304.0,203.1 304.0,201.5 305.0,201.5 305.0,199.3 306.0,199.3 306.0,198.1 307.0,198.1 307.0,195.5 308.0,195.5 308.0,194.3 309.0,194.3 309.0,193.9 310.0,193.9 310.0,191.3 311.0,191.3 311.0,190.0 312.0,190.0 312.0,188.4 313.0,188.4 313.0,186.4 314.0,186.4 314.0,183.1 315.0,183.1 315.0,180.7 316.0,180.7 316.0,180.0 317.0,180.0 317.0,179.5 318.0,179.5 318.0,180.6 319.0,180.6 319.0,181.0 320.0,181.0 320.0,180.6 321.0,180.6 321.0,180.7 322.0,180.7 322.0,179.2 323.0,179.2 323.0,177.7 324.0,177.7 324.0,177.6 325.0,177.6 325.0,176.7 326.0,176.7 326.0,176.4 327.0,176.4 327.0,174.8 328.0,174.8 328.0,174.2 329.0,174.2 329.0,174.8 330.0,174.8 330.0,173.5 331.0,173.5 331.0,173.5 332.0,173.5 332.0,174.3 333.0,174.3 333.0,172.7 334.0,172.7 334.0,172.1 335.0,172.1 335.0,172.3 336.0,172.3 336.0,171.1 337.0,171.1 337.0,170.3 338.0,170.3 338.0,168.6 339.0,168.6 339.0,170.8 340.0,170.8 340.0,171.4 341.0,171.4 341.0,173.3 342.0,173.3 342.0,173.8 343.0,173.8 343.0,171.9 344.0,171.9 344.0,171.7 345.0,171.7 345.0,172.4 346.0,172.4 346.0,172.5 347.0,172.5 347.0,172.7 348.0,172.7 348.0,174.3 349.0,174.3 349.0,175.2 350.0,175.2 350.0,176.0 351.0,176.0 351.0,177.8 352.0,177.8 352.0,177.4 353.0,177.4 353.0,179.5 354.0,179.5 354.0,178.1 355.0,178.1 355.0,180.0 356.0,180.0 356.0,179.8 357.0,179.8 357.0,179.5 358.0,179.5 358.0,179.1 359.0,179.1 359.0,177.5 360.0,177.5 360.0,177.0 361.0,177.0 361.0,174.5 362.0,174.5 362.0,174.1 363.0,174.1 363.0,174.7 364.0,174.7 364.0,176.1 365.0,176.1 365.0,175.9 366.0,175.9 366.0,177.2 367.0,177.2 367.0,178.5 368.0,178.5 368.0,177.2 369.0,177.2 369.0,176.4 370.0,176.4 370.0,177.5 371.0,177.5 371.0,177.1 372.0,177.1 372.0,178.4 373.0,178.4 373.0,178.5 374.0,178.5 374.0,179.2 375.0,179.2 375.0,179.0 376.0,179.0 376.0,178.7 377.0,178.7 377.0,179.8 378.0,179.8 378.0,179.2 379.0,179.2 379.0,179.4 380.0,179.4 380.0,179.9 381.0,179.9 381.0,178.8 382.0,178.8 382.0,180.4 383.0,180.4 383.0,180.5 384.0,180.5 384.0,180.0 385.0,180.0 385.0,180.9 386.0,180.9 386.0,180.7 387.0,180.7 387.0,182.7 388.0,182.7 388.0,182.2 389.0,182.2 389.0,183.7 390.0,183.7 390.0,183.5 391.0,183.5 391.0,184.1 392.0,184.1 392.0,185.8 393.0,185.8 393.0,186.2 394.0,186.2 394.0,187.0 395.0,187.0 395.0,185.8 396.0,185.8 396.0,184.8 397.0,184.8 397.0,181.6 398.0,181.6 398.0,181.3 399.0,181.3 399.0,181.2 400.0,181.2 400.0,182.1 401.0,182.1 401.0,182.7 402.0,182.7 402.0,183.3 403.0,183.3 403.0,183.1 404.0,183.1 404.0,181.4 405.0,181.4 405.0,180.7 406.0,180.7 406.0,180.2 407.0,180.2 407.0,178.2 408.0,178.2 408.0,178.5 409.0,178.5 409.0,177.6 410.0,177.6 410.0,177.5 411.0,177.5 411.0,177.0 412.0,177.0 412.0,177.5 413.0,177.5 413.0,178.2 414.0,178.2 414.0,179.5 415.0,179.5 415.0,180.4 416.0,180.4 416.0,181.6 417.0,181.6 417.0,180.7 418.0,180.7 418.0,180.9 419.0,180.9 419.0,179.4 420.0,179.4 420.0,179.6 421.0,179.6 421.0,179.2 422.0,179.2 422.0,180.4 423.0,180.4 423.0,180.6 424.0,180.6 424.0,183.0 425.0,183.0 425.0,183.6 426.0,183.6 426.0,182.1 427.0,182.1 427.0,182.4 428.0,182.4 428.0,182.8 429.0,182.8 429.0,180.4 430.0,180.4 430.0,180.4 431.0,180.4 431.0,181.2 432.0,181.2 432.0,180.0 433.0,180.0 433.0,181.7 434.0,181.7 434.0,181.6 435.0,181.6 435.0,183.3 436.0,183.3 436.0,184.4 437.0,184.4 437.0,186.7 438.0,186.7 438.0,186.5 439.0,186.5 439.0,186.9 440.0,186.9 440.0,185.8 441.0,185.8 441.0,186.7 442.0,186.7 442.0,186.4 443.0,186.4 443.0,187.4 444.0,187.4 444.0,184.2 445.0,184.2 445.0,179.4 446.0,179.4 446.0,176.9 447.0,176.9 447.0,176.7 448.0,176.7 448.0,176.5 449.0,176.5 449.0,177.3 450.0,177.3 450.0,176.6 451.0,176.6 451.0,174.6 452.0,174.6 452.0,172.1 453.0,172.1 453.0,168.8 454.0,168.8 454.0,167.8 455.0,167.8 455.0,168.9 456.0,168.9 456.0,168.4 457.0,168.4 457.0,167.8 458.0,167.8 458.0,166.9 459.0,166.9 459.0,169.4 460.0,169.4 460.0,169.8 461.0,169.8 461.0,171.6 462.0,171.6 462.0,172.3 463.0,172.3 463.0,174.6 464.0,174.6 464.0,176.6 465.0,176.6 465.0,177.5 466.0,177.5 466.0,176.5 467.0,176.5 467.0,177.6 468.0,177.6 468.0,176.3 469.0,176.3 469.0,178.3 470.0,178.3 470.0,179.6 471.0,179.6 471.0,180.9 472.0,180.9 472.0,181.3 473.0,181.3 473.0,181.5 474.0,181.5 474.0,181.4 475.0,181.4 475.0,179.7 476.0,179.7 476.0,178.2 477.0,178.2 477.0,180.1 478.0,180.1 478.0,178.9 479.0,178.9 479.0,181.2 480.0,181.2 480.0,180.6 481.0,180.6 481.0,181.3 482.0,181.3 482.0,183.1 483.0,183.1 483.0,182.9 484.0,182.9 484.0,184.7 485.0,184.7 485.0,185.2 486.0,185.2 486.0,187.3 487.0,187.3 487.0,188.1 488.0,188.1 488.0,188.8 489.0,188.8 489.0,188.7 490.0,188.7 490.0,189.2 491.0,189.2 491.0,189.5 492.0,189.5 492.0,189.1 493.0,189.1 493.0,189.6 494.0,189.6 494.0,188.9 495.0,188.9 495.0,189.5 496.0,189.5 496.0,189.2 497.0,189.2 497.0,189.1 498.0,189.1 498.0,189.0 499.0,189.0 499.0,188.6 500.0,188.6 500.0,187.6 501.0,187.6 501.0,187.4 502.0,187.4 502.0,187.9 503.0,187.9 503.0,186.6 504.0,186.6 504.0,188.4 505.0,188.4 505.0,189.9 506.0,189.9 506.0,190.7 507.0,190.7 507.0,191.0 508.0,191.0 508.0,191.5 509.0,191.5 509.0,193.1 510.0,193.1 510.0,193.6 511.0,193.6 511.0,193.6 512.0,193.6 512.0,193.4 513.0,193.4 513.0,193.9 514.0,193.9 514.0,193.4 515.0,193.4 515.0,194.1 516.0,194.1 516.0,194.3 517.0,194.3 517.0,195.7 518.0,195.7 518.0,196.7 519.0,196.7 519.0,195.6 520.0,195.6 520.0,195.6 521.0,195.6 521.0,195.7 522.0,195.7 522.0,193.6 523.0,193.6 523.0,192.6 524.0,192.6 524.0,190.3 525.0,190.3 525.0,189.2 526.0,189.2 526.0,190.0 527.0,190.0 527.0,190.0 528.0,190.0 528.0,190.7 529.0,190.7 529.0,191.1 530.0,191.1 530.0,190.0 531.0,190.0 531.0,190.7 532.0,190.7 532.0,190.5 533.0,190.5 533.0,190.8 534.0,190.8 534.0,190.7 535.0,190.7 535.0,192.1 536.0,192.1 536.0,191.5 537.0,191.5 537.0,190.1 538.0,190.1 538.0,190.7 539.0,190.7 539.0,190.7 540.0,190.7 540.0,190.1 541.0,190.1 541.0,188.9 542.0,188.9 542.0,187.0 543.0,187.0 543.0,187.6 544.0,187.6 544.0,186.9 545.0,186.9 545.0,185.5 546.0,185.5 546.0,183.9 547.0,183.9 547.0,183.5 548.0,183.5 548.0,183.9 549.0,183.9 549.0,182.3 550.0,182.3 550.0,183.3 551.0,183.3 551.0,182.4 552.0,182.4 552.0,181.8 553.0,181.8 553.0,183.7 554.0,183.7 554.0,183.3 555.0,183.3 555.0,183.1 556.0,183.1 556.0,183.4 557.0,183.4 557.0,184.6 558.0,184.6 558.0,183.1 559.0,183.1 559.0,184.2 560.0,184.2 560.0,184.0 561.0,184.0 561.0,182.4 562.0,182.4 562.0,182.9 563.0,182.9 563.0,183.3 564.0,183.3 564.0,182.5 565.0,182.5 565.0,183.3 566.0,183.3 566.0,182.8 567.0,182.8 567.0,183.9 568.0,183.9 568.0,183.6" fill="none" stroke="#006400" stroke-width="1.0" stroke-linejoin="miter" shape-rendering="crispEdges" /></g><g clip-path="url(#rc3)"><polyline points="96.0,224.6 97.0,224.6 97.0,224.0 98.0,224.0 98.0,224.4 99.0,224.4 99.0,220.9 100.0,220.9 100.0,211.6 101.0,211.6 101.0,210.9 102.0,210.9 102.0,211.8 103.0,211.8 103.0,210.6 104.0,210.6 104.0,210.9 105.0,210.9 105.0,211.1 106.0,211.1 106.0,211.5 107.0,211.5 107.0,215.9 108.0,215.9 108.0,217.7 109.0,217.7 109.0,219.0 110.0,219.0 110.0,219.1 111.0,219.1 111.0,220.7 112.0,220.7 112.0,221.1 113.0,221.1 113.0,222.6 114.0,222.6 114.0,223.3 115.0,223.3 115.0,225.5 116.0,225.5 116.0,226.0 117.0,226.0 117.0,227.5 118.0,227.5 118.0,227.4 119.0,227.4 119.0,227.7 120.0,227.7 120.0,227.0 121.0,227.0 121.0,227.0 122.0,227.0 122.0,227.8 123.0,227.8 123.0,227.0 124.0,227.0 124.0,227.4 125.0,227.4 125.0,226.8 126.0,226.8 126.0,226.6 127.0,226.6 127.0,226.8 128.0,226.8 128.0,226.0 129.0,226.0 129.0,225.5 130.0,225.5 130.0,225.6 131.0,225.6 131.0,226.1 132.0,226.1 132.0,226.2 133.0,226.2 133.0,226.4 134.0,226.4 134.0,226.2 135.0,226.2 135.0,227.0 136.0,227.0 136.0,227.9 137.0,227.9 137.0,229.5 138.0,229.5 138.0,230.8 139.0,230.8 139.0,229.6 140.0,229.6 140.0,229.4 141.0,229.4 141.0,229.0 142.0,229.0 142.0,228.8 143.0,228.8 143.0,228.4 144.0,228.4 144.0,230.8 145.0,230.8 145.0,232.8 146.0,232.8 146.0,235.2 147.0,235.2 147.0,234.7 148.0,234.7 148.0,234.2 149.0,234.2 149.0,232.8 150.0,232.8 150.0,232.4 151.0,232.4 151.0,231.9 152.0,231.9 152.0,235.3 153.0,235.3 153.0,237.2 154.0,237.2 154.0,240.2 155.0,240.2 155.0,241.0 156.0,241.0 156.0,242.2 157.0,242.2 157.0,242.2 158.0,242.2 158.0,242.7 159.0,242.7 159.0,243.6 160.0,243.6 160.0,244.4 161.0,244.4 161.0,244.9 162.0,244.9 162.0,245.1 163.0,245.1 163.0,246.6 164.0,246.6 164.0,250.6 165.0,250.6 165.0,253.5 166.0,253.5 166.0,254.2 167.0,254.2 167.0,253.7 168.0,253.7 168.0,248.0 169.0,248.0 169.0,243.0 170.0,243.0 170.0,239.2 171.0,239.2 171.0,239.5 172.0,239.5 172.0,238.8 173.0,238.8 173.0,239.1 174.0,239.1 174.0,239.2 175.0,239.2 175.0,240.2 176.0,240.2 176.0,239.8 177.0,239.8 177.0,239.8 178.0,239.8 178.0,238.8 179.0,238.8 179.0,237.0 180.0,237.0 180.0,235.4 181.0,235.4 181.0,234.0 182.0,234.0 182.0,231.9 183.0,231.9 183.0,232.1 184.0,232.1 184.0,231.8 185.0,231.8 185.0,232.3 186.0,232.3 186.0,232.0 187.0,232.0 187.0,230.9 188.0,230.9 188.0,230.0 189.0,230.0 189.0,229.5 190.0,229.5 190.0,227.8 191.0,227.8 191.0,226.5 192.0,226.5 192.0,225.9 193.0,225.9 193.0,226.6 194.0,226.6 194.0,227.7 195.0,227.7 195.0,228.3 196.0,228.3 196.0,229.0 197.0,229.0 197.0,230.3 198.0,230.3 198.0,231.4 199.0,231.4 199.0,233.1 200.0,233.1 200.0,232.9 201.0,232.9 201.0,232.1 202.0,232.1 202.0,231.1 203.0,231.1 203.0,231.5 204.0,231.5 204.0,231.0 205.0,231.0 205.0,230.8 206.0,230.8 206.0,229.9 207.0,229.9 207.0,229.6 208.0,229.6 208.0,230.5 209.0,230.5 209.0,230.2 210.0,230.2 210.0,231.2 211.0,231.2 211.0,231.5 212.0,231.5 212.0,231.1 213.0,231.1 213.0,231.6 214.0,231.6 214.0,230.5 215.0,230.5 215.0,231.3 216.0,231.3 216.0,230.6 217.0,230.6 217.0,230.8 218.0,230.8 218.0,230.6 219.0,230.6 219.0,230.8 220.0,230.8 220.0,230.6 221.0,230.6 221.0,229.7 222.0,229.7 222.0,230.2 223.0,230.2 223.0,231.5 224.0,231.5 224.0,231.4 225.0,231.4 225.0,232.7 226.0,232.7 226.0,233.2 227.0,233.2 227.0,233.9 228.0,233.9 228.0,234.0 229.0,234.0 229.0,233.7 230.0,233.7 230.0,234.4 231.0,234.4 231.0,234.0 232.0,234.0 232.0,233.1 233.0,233.1 233.0,233.1 234.0,233.1 234.0,234.2 235.0,234.2 235.0,234.3 236.0,234.3 236.0,235.0 237.0,235.0 237.0,236.0 238.0,236.0 238.0,235.3 239.0,235.3 239.0,235.0 240.0,235.0 240.0,233.8 241.0,233.8 241.0,232.7 242.0,232.7 242.0,231.3 243.0,231.3 243.0,230.6 244.0,230.6 244.0,230.3 245.0,230.3 245.0,230.4 246.0,230.4 246.0,229.2 247.0,229.2 247.0,229.1 248.0,229.1 248.0,229.7 249.0,229.7 249.0,229.6 250.0,229.6 250.0,228.6 251.0,228.6 251.0,230.0 252.0,230.0 252.0,230.4 253.0,230.4 253.0,230.8 254.0,230.8 254.0,230.9 255.0,230.9 255.0,231.5 256.0,231.5 256.0,231.9 257.0,231.9 257.0,233.0 258.0,233.0 258.0,231.4 259.0,231.4 259.0,230.2 260.0,230.2 260.0,229.6 261.0,229.6 261.0,228.3 262.0,228.3 262.0,227.8 263.0,227.8 263.0,228.3 264.0,228.3 264.0,228.2 265.0,228.2 265.0,228.9 266.0,228.9 266.0,230.2 267.0,230.2 267.0,231.3 268.0,231.3 268.0,231.8 269.0,231.8 269.0,232.0 270.0,232.0 270.0,232.9 271.0,232.9 271.0,232.4 272.0,232.4 272.0,233.0 273.0,233.0 273.0,233.3 274.0,233.3 274.0,233.1 275.0,233.1 275.0,233.1 276.0,233.1 276.0,232.7 277.0,232.7 277.0,233.0 278.0,233.0 278.0,232.4 279.0,232.4 279.0,233.0 280.0,233.0 280.0,233.3 281.0,233.3 281.0,232.6 282.0,232.6 282.0,232.3 283.0,232.3 283.0,231.4 284.0,231.4 284.0,231.0 285.0,231.0 285.0,229.9 286.0,229.9 286.0,229.2 287.0,229.2 287.0,228.2 288.0,228.2 288.0,229.5 289.0,229.5 289.0,229.3 290.0,229.3 290.0,231.6 291.0,231.6 291.0,234.7 292.0,234.7 292.0,237.0 293.0,237.0 293.0,240.4 294.0,240.4 294.0,242.3 295.0,242.3 295.0,243.5 296.0,243.5 296.0,244.8 297.0,244.8 297.0,244.5 298.0,244.5 298.0,245.3 299.0,245.3 299.0,243.2 300.0,243.2 300.0,241.2 301.0,241.2 301.0,238.9 302.0,238.9 302.0,236.6 303.0,236.6 303.0,235.2 304.0,235.2 304.0,234.2 305.0,234.2 305.0,233.9 306.0,233.9 306.0,232.8 307.0,232.8 307.0,232.5 308.0,232.5 308.0,232.5 309.0,232.5 309.0,231.3 310.0,231.3 310.0,231.4 311.0,231.4 311.0,229.8 312.0,229.8 312.0,230.0 313.0,230.0 313.0,229.8 314.0,229.8 314.0,230.0 315.0,230.0 315.0,229.7 316.0,229.7 316.0,229.5 317.0,229.5 317.0,230.4 318.0,230.4 318.0,231.3 319.0,231.3 319.0,231.6 320.0,231.6 320.0,232.4 321.0,232.4 321.0,232.7 322.0,232.7 322.0,231.7 323.0,231.7 323.0,231.5 324.0,231.5 324.0,230.6 325.0,230.6 325.0,230.4 326.0,230.4 326.0,231.0 327.0,231.0 327.0,230.8 328.0,230.8 328.0,230.5 329.0,230.5 329.0,230.3 330.0,230.3 330.0,230.5 331.0,230.5 331.0,230.1 332.0,230.1 332.0,229.7 333.0,229.7 333.0,229.3 334.0,229.3 334.0,228.3 335.0,228.3 335.0,228.7 336.0,228.7 336.0,227.7 337.0,227.7 337.0,227.3 338.0,227.3 338.0,227.4 339.0,227.4 339.0,227.5 340.0,227.5 340.0,228.2 341.0,228.2 341.0,229.0 342.0,229.0 342.0,229.1 343.0,229.1 343.0,227.1 344.0,227.1 344.0,226.5 345.0,226.5 345.0,226.7 346.0,226.7 346.0,227.4 347.0,227.4 347.0,227.9 348.0,227.9 348.0,230.0 349.0,230.0 349.0,230.5 350.0,230.5 350.0,231.3 351.0,231.3 351.0,232.1 352.0,232.1 352.0,233.0 353.0,233.0 353.0,232.9 354.0,232.9 354.0,234.2 355.0,234.2 355.0,234.7 356.0,234.7 356.0,234.9 357.0,234.9 357.0,235.1 358.0,235.1 358.0,234.6 359.0,234.6 359.0,234.1 360.0,234.1 360.0,234.5 361.0,234.5 361.0,234.1 362.0,234.1 362.0,234.3 363.0,234.3 363.0,233.3 364.0,233.3 364.0,233.6 365.0,233.6 365.0,234.1 366.0,234.1 366.0,233.6 367.0,233.6 367.0,234.2 368.0,234.2 368.0,234.8 369.0,234.8 369.0,234.5 370.0,234.5 370.0,234.9 371.0,234.9 371.0,235.3 372.0,235.3 372.0,235.1 373.0,235.1 373.0,235.3 374.0,235.3 374.0,235.0 375.0,235.0 375.0,234.6 376.0,234.6 376.0,233.8 377.0,233.8 377.0,233.3 378.0,233.3 378.0,234.4 379.0,234.4 379.0,234.7 380.0,234.7 380.0,235.4 381.0,235.4 381.0,236.1 382.0,236.1 382.0,237.0 383.0,237.0 383.0,237.5 384.0,237.5 384.0,237.2 385.0,237.2 385.0,238.3 386.0,238.3 386.0,238.2 387.0,238.2 387.0,238.0 388.0,238.0 388.0,238.7 389.0,238.7 389.0,238.5 390.0,238.5 390.0,238.8 391.0,238.8 391.0,239.0 392.0,239.0 392.0,238.9 393.0,238.9 393.0,239.7 394.0,239.7 394.0,240.3 395.0,240.3 395.0,239.8 396.0,239.8 396.0,239.1 397.0,239.1 397.0,237.2 398.0,237.2 398.0,235.9 399.0,235.9 399.0,235.0 400.0,235.0 400.0,235.1 401.0,235.1 401.0,235.1 402.0,235.1 402.0,235.9 403.0,235.9 403.0,236.5 404.0,236.5 404.0,235.1 405.0,235.1 405.0,235.0 406.0,235.0 406.0,233.5 407.0,233.5 407.0,232.4 408.0,232.4 408.0,232.2 409.0,232.2 409.0,231.7 410.0,231.7 410.0,230.9 411.0,230.9 411.0,231.4 412.0,231.4 412.0,231.5 413.0,231.5 413.0,230.5 414.0,230.5 414.0,231.1 415.0,231.1 415.0,230.7 416.0,230.7 416.0,231.0 417.0,231.0 417.0,230.7 418.0,230.7 418.0,231.4 419.0,231.4 419.0,232.0 420.0,232.0 420.0,231.3 421.0,231.3 421.0,231.2 422.0,231.2 422.0,232.5 423.0,232.5 423.0,233.3 424.0,233.3 424.0,233.4 425.0,233.4 425.0,234.6 426.0,234.6 426.0,235.3 427.0,235.3 427.0,235.3 428.0,235.3 428.0,235.6 429.0,235.6 429.0,234.9 430.0,234.9 430.0,235.9 431.0,235.9 431.0,235.6 432.0,235.6 432.0,235.6 433.0,235.6 433.0,236.7 434.0,236.7 434.0,238.0 435.0,238.0 435.0,238.5 436.0,238.5 436.0,239.1 437.0,239.1 437.0,240.3 438.0,240.3 438.0,240.7 439.0,240.7 439.0,240.3 440.0,240.3 440.0,239.8 441.0,239.8 441.0,238.4 442.0,238.4 442.0,237.2 443.0,237.2 443.0,236.9 444.0,236.9 444.0,238.1 445.0,238.1 445.0,240.0 446.0,240.0 446.0,242.7 447.0,242.7 447.0,243.0 448.0,243.0 448.0,241.5 449.0,241.5 449.0,239.5 450.0,239.5 450.0,238.4 451.0,238.4 451.0,237.0 452.0,237.0 452.0,236.1 453.0,236.1 453.0,238.9 454.0,238.9 454.0,243.5 455.0,243.5 455.0,246.9 456.0,246.9 456.0,249.6 457.0,249.6 457.0,252.4 458.0,252.4 458.0,254.5 459.0,254.5 459.0,256.1 460.0,256.1 460.0,257.4 461.0,257.4 461.0,259.0 462.0,259.0 462.0,260.5 463.0,260.5 463.0,260.3 464.0,260.3 464.0,259.6 465.0,259.6 465.0,258.3 466.0,258.3 466.0,253.2 467.0,253.2 467.0,246.7 468.0,246.7 468.0,243.3 469.0,243.3 469.0,240.6 470.0,240.6 470.0,238.2 471.0,238.2 471.0,236.4 472.0,236.4 472.0,234.4 473.0,234.4 473.0,232.8 474.0,232.8 474.0,230.9 475.0,230.9 475.0,229.8 476.0,229.8 476.0,229.1 477.0,229.1 477.0,227.7 478.0,227.7 478.0,227.1 479.0,227.1 479.0,226.9 480.0,226.9 480.0,225.9 481.0,225.9 481.0,225.0 482.0,225.0 482.0,224.6 483.0,224.6 483.0,224.7 484.0,224.7 484.0,224.2 485.0,224.2 485.0,224.1 486.0,224.1 486.0,223.9 487.0,223.9 487.0,223.5 488.0,223.5 488.0,223.8 489.0,223.8 489.0,223.3 490.0,223.3 490.0,223.2 491.0,223.2 491.0,222.6 492.0,222.6 492.0,222.4 493.0,222.4 493.0,222.0 494.0,222.0 494.0,221.9 495.0,221.9 495.0,220.9 496.0,220.9 496.0,220.8 497.0,220.8 497.0,220.5 498.0,220.5 498.0,220.5 499.0,220.5 499.0,221.6 500.0,221.6 500.0,221.0 501.0,221.0 501.0,220.6 502.0,220.6 502.0,220.6 503.0,220.6 503.0,221.9 504.0,221.9 504.0,222.9 505.0,222.9 505.0,224.0 506.0,224.0 506.0,224.6 507.0,224.6 507.0,225.2 508.0,225.2 508.0,226.5 509.0,226.5 509.0,226.8 510.0,226.8 510.0,227.6 511.0,227.6 511.0,227.9 512.0,227.9 512.0,229.2 513.0,229.2 513.0,229.5 514.0,229.5 514.0,229.5 515.0,229.5 515.0,229.3 516.0,229.3 516.0,230.1 517.0,230.1 517.0,229.6 518.0,229.6 518.0,230.3 519.0,230.3 519.0,229.6 520.0,229.6 520.0,230.1 521.0,230.1 521.0,230.2 522.0,230.2 522.0,229.6 523.0,229.6 523.0,229.5 524.0,229.5 524.0,230.1 525.0,230.1 525.0,229.2 526.0,229.2 526.0,229.5 527.0,229.5 527.0,229.0 528.0,229.0 528.0,230.3 529.0,230.3 529.0,230.4 530.0,230.4 530.0,230.0 531.0,230.0 531.0,231.0 532.0,231.0 532.0,231.2 533.0,231.2 533.0,230.7 534.0,230.7 534.0,230.8 535.0,230.8 535.0,230.9 536.0,230.9 536.0,230.7 537.0,230.7 537.0,230.0 538.0,230.0 538.0,229.5 539.0,229.5 539.0,229.6 540.0,229.6 540.0,229.5 541.0,229.5 541.0,228.5 542.0,228.5 542.0,227.5 543.0,227.5 543.0,226.9 544.0,226.9 544.0,226.8 545.0,226.8 545.0,225.9 546.0,225.9 546.0,226.8 547.0,226.8 547.0,226.6 548.0,226.6 548.0,227.7 549.0,227.7 549.0,228.4 550.0,228.4 550.0,229.0 551.0,229.0 551.0,228.5 552.0,228.5 552.0,229.2 553.0,229.2 553.0,228.8 554.0,228.8 554.0,228.5 555.0,228.5 555.0,228.2 556.0,228.2 556.0,228.9 557.0,228.9 557.0,229.3 558.0,229.3 558.0,228.6 559.0,228.6 559.0,227.9 560.0,227.9 560.0,227.6 561.0,227.6 561.0,227.4 562.0,227.4 562.0,227.6 563.0,227.6 563.0,226.6 564.0,226.6 564.0,226.5 565.0,226.5 565.0,227.5 566.0,227.5 566.0,228.0 567.0,228.0 567.0,228.9 568.0,228.9 568.0,230.4" fill="none" stroke="#a600bc" stroke-width="1" stroke-linejoin="miter" shape-rendering="crispEdges" /><polyline points="96.0,225.6 97.0,225.6 97.0,225.0 98.0,225.0 98.0,225.4 99.0,225.4 99.0,221.9 100.0,221.9 100.0,212.6 101.0,212.6 101.0,211.9 102.0,211.9 102.0,212.8 103.0,212.8 103.0,211.6 104.0,211.6 104.0,211.9 105.0,211.9 105.0,212.1 106.0,212.1 106.0,212.5 107.0,212.5 107.0,216.9 108.0,216.9 108.0,218.7 109.0,218.7 109.0,220.0 110.0,220.0 110.0,220.1 111.0,220.1 111.0,221.7 112.0,221.7 112.0,222.1 113.0,222.1 113.0,223.6 114.0,223.6 114.0,224.3 115.0,224.3 115.0,226.5 116.0,226.5 116.0,227.0 117.0,227.0 117.0,228.5 118.0,228.5 118.0,228.4 119.0,228.4 119.0,228.7 120.0,228.7 120.0,228.0 121.0,228.0 121.0,228.0 122.0,228.0 122.0,228.8 123.0,228.8 123.0,228.0 124.0,228.0 124.0,228.4 125.0,228.4 125.0,227.8 126.0,227.8 126.0,227.6 127.0,227.6 127.0,227.8 128.0,227.8 128.0,227.0 129.0,227.0 129.0,226.5 130.0,226.5 130.0,226.6 131.0,226.6 131.0,227.1 132.0,227.1 132.0,227.2 133.0,227.2 133.0,227.4 134.0,227.4 134.0,227.2 135.0,227.2 135.0,228.0 136.0,228.0 136.0,228.9 137.0,228.9 137.0,230.5 138.0,230.5 138.0,231.8 139.0,231.8 139.0,230.6 140.0,230.6 140.0,230.4 141.0,230.4 141.0,230.0 142.0,230.0 142.0,229.8 143.0,229.8 143.0,229.4 144.0,229.4 144.0,231.8 145.0,231.8 145.0,233.8 146.0,233.8 146.0,236.2 147.0,236.2 147.0,235.7 148.0,235.7 148.0,235.2 149.0,235.2 149.0,233.8 150.0,233.8 150.0,233.4 151.0,233.4 151.0,232.9 152.0,232.9 152.0,236.3 153.0,236.3 153.0,238.2 154.0,238.2 154.0,241.2 155.0,241.2 155.0,242.0 156.0,242.0 156.0,243.2 157.0,243.2 157.0,243.2 158.0,243.2 158.0,243.7 159.0,243.7 159.0,244.6 160.0,244.6 160.0,245.4 161.0,245.4 161.0,245.9 162.0,245.9 162.0,246.1 163.0,246.1 163.0,247.6 164.0,247.6 164.0,251.6 165.0,251.6 165.0,254.5 166.0,254.5 166.0,255.2 167.0,255.2 167.0,254.7 168.0,254.7 168.0,249.0 169.0,249.0 169.0,244.0 170.0,244.0 170.0,240.2 171.0,240.2 171.0,240.5 172.0,240.5 172.0,239.8 173.0,239.8 173.0,240.1 174.0,240.1 174.0,240.2 175.0,240.2 175.0,241.2 176.0,241.2 176.0,240.8 177.0,240.8 177.0,240.8 178.0,240.8 178.0,239.8 179.0,239.8 179.0,238.0 180.0,238.0 180.0,236.4 181.0,236.4 181.0,235.0 182.0,235.0 182.0,232.9 183.0,232.9 183.0,233.1 184.0,233.1 184.0,232.8 185.0,232.8 185.0,233.3 186.0,233.3 186.0,233.0 187.0,233.0 187.0,231.9 188.0,231.9 188.0,231.0 189.0,231.0 189.0,230.5 190.0,230.5 190.0,228.8 191.0,228.8 191.0,227.5 192.0,227.5 192.0,226.9 193.0,226.9 193.0,227.6 194.0,227.6 194.0,228.7 195.0,228.7 195.0,229.3 196.0,229.3 196.0,230.0 197.0,230.0 197.0,231.3 198.0,231.3 198.0,232.4 199.0,232.4 199.0,234.1 200.0,234.1 200.0,233.9 201.0,233.9 201.0,233.1 202.0,233.1 202.0,232.1 203.0,232.1 203.0,232.5 204.0,232.5 204.0,232.0 205.0,232.0 205.0,231.8 206.0,231.8 206.0,230.9 207.0,230.9 207.0,230.6 208.0,230.6 208.0,231.5 209.0,231.5 209.0,231.2 210.0,231.2 210.0,232.2 211.0,232.2 211.0,232.5 212.0,232.5 212.0,232.1 213.0,232.1 213.0,232.6 214.0,232.6 214.0,231.5 215.0,231.5 215.0,232.3 216.0,232.3 216.0,231.6 217.0,231.6 217.0,231.8 218.0,231.8 218.0,231.6 219.0,231.6 219.0,231.8 220.0,231.8 220.0,231.6 221.0,231.6 221.0,230.7 222.0,230.7 222.0,231.2 223.0,231.2 223.0,232.5 224.0,232.5 224.0,232.4 225.0,232.4 225.0,233.7 226.0,233.7 226.0,234.2 227.0,234.2 227.0,234.9 228.0,234.9 228.0,235.0 229.0,235.0 229.0,234.7 230.0,234.7 230.0,235.4 231.0,235.4 231.0,235.0 232.0,235.0 232.0,234.1 233.0,234.1 233.0,234.1 234.0,234.1 234.0,235.2 235.0,235.2 235.0,235.3 236.0,235.3 236.0,236.0 237.0,236.0 237.0,237.0 238.0,237.0 238.0,236.3 239.0,236.3 239.0,236.0 240.0,236.0 240.0,234.8 241.0,234.8 241.0,233.7 242.0,233.7 242.0,232.3 243.0,232.3 243.0,231.6 244.0,231.6 244.0,231.3 245.0,231.3 245.0,231.4 246.0,231.4 246.0,230.2 247.0,230.2 247.0,230.1 248.0,230.1 248.0,230.7 249.0,230.7 249.0,230.6 250.0,230.6 250.0,229.6 251.0,229.6 251.0,231.0 252.0,231.0 252.0,231.4 253.0,231.4 253.0,231.8 254.0,231.8 254.0,231.9 255.0,231.9 255.0,232.5 256.0,232.5 256.0,232.9 257.0,232.9 257.0,234.0 258.0,234.0 258.0,232.4 259.0,232.4 259.0,231.2 260.0,231.2 260.0,230.6 261.0,230.6 261.0,229.3 262.0,229.3 262.0,228.8 263.0,228.8 263.0,229.3 264.0,229.3 264.0,229.2 265.0,229.2 265.0,229.9 266.0,229.9 266.0,231.2 267.0,231.2 267.0,232.3 268.0,232.3 268.0,232.8 269.0,232.8 269.0,233.0 270.0,233.0 270.0,233.9 271.0,233.9 271.0,233.4 272.0,233.4 272.0,234.0 273.0,234.0 273.0,234.3 274.0,234.3 274.0,234.1 275.0,234.1 275.0,234.1 276.0,234.1 276.0,233.7 277.0,233.7 277.0,234.0 278.0,234.0 278.0,233.4 279.0,233.4 279.0,234.0 280.0,234.0 280.0,234.3 281.0,234.3 281.0,233.6 282.0,233.6 282.0,233.3 283.0,233.3 283.0,232.4 284.0,232.4 284.0,232.0 285.0,232.0 285.0,230.9 286.0,230.9 286.0,230.2 287.0,230.2 287.0,229.2 288.0,229.2 288.0,230.5 289.0,230.5 289.0,230.3 290.0,230.3 290.0,232.6 291.0,232.6 291.0,235.7 292.0,235.7 292.0,238.0 293.0,238.0 293.0,241.4 294.0,241.4 294.0,243.3 295.0,243.3 295.0,244.5 296.0,244.5 296.0,245.8 297.0,245.8 297.0,245.5 298.0,245.5 298.0,246.3 299.0,246.3 299.0,244.2 300.0,244.2 300.0,242.2 301.0,242.2 301.0,239.9 302.0,239.9 302.0,237.6 303.0,237.6 303.0,236.2 304.0,236.2 304.0,235.2 305.0,235.2 305.0,234.9 306.0,234.9 306.0,233.8 307.0,233.8 307.0,233.5 308.0,233.5 308.0,233.5 309.0,233.5 309.0,232.3 310.0,232.3 310.0,232.4 311.0,232.4 311.0,230.8 312.0,230.8 312.0,231.0 313.0,231.0 313.0,230.8 314.0,230.8 314.0,231.0 315.0,231.0 315.0,230.7 316.0,230.7 316.0,230.5 317.0,230.5 317.0,231.4 318.0,231.4 318.0,232.3 319.0,232.3 319.0,232.6 320.0,232.6 320.0,233.4 321.0,233.4 321.0,233.7 322.0,233.7 322.0,232.7 323.0,232.7 323.0,232.5 324.0,232.5 324.0,231.6 325.0,231.6 325.0,231.4 326.0,231.4 326.0,232.0 327.0,232.0 327.0,231.8 328.0,231.8 328.0,231.5 329.0,231.5 329.0,231.3 330.0,231.3 330.0,231.5 331.0,231.5 331.0,231.1 332.0,231.1 332.0,230.7 333.0,230.7 333.0,230.3 334.0,230.3 334.0,229.3 335.0,229.3 335.0,229.7 336.0,229.7 336.0,228.7 337.0,228.7 337.0,228.3 338.0,228.3 338.0,228.4 339.0,228.4 339.0,228.5 340.0,228.5 340.0,229.2 341.0,229.2 341.0,230.0 342.0,230.0 342.0,230.1 343.0,230.1 343.0,228.1 344.0,228.1 344.0,227.5 345.0,227.5 345.0,227.7 346.0,227.7 346.0,228.4 347.0,228.4 347.0,228.9 348.0,228.9 348.0,231.0 349.0,231.0 349.0,231.5 350.0,231.5 350.0,232.3 351.0,232.3 351.0,233.1 352.0,233.1 352.0,234.0 353.0,234.0 353.0,233.9 354.0,233.9 354.0,235.2 355.0,235.2 355.0,235.7 356.0,235.7 356.0,235.9 357.0,235.9 357.0,236.1 358.0,236.1 358.0,235.6 359.0,235.6 359.0,235.1 360.0,235.1 360.0,235.5 361.0,235.5 361.0,235.1 362.0,235.1 362.0,235.3 363.0,235.3 363.0,234.3 364.0,234.3 364.0,234.6 365.0,234.6 365.0,235.1 366.0,235.1 366.0,234.6 367.0,234.6 367.0,235.2 368.0,235.2 368.0,235.8 369.0,235.8 369.0,235.5 370.0,235.5 370.0,235.9 371.0,235.9 371.0,236.3 372.0,236.3 372.0,236.1 373.0,236.1 373.0,236.3 374.0,236.3 374.0,236.0 375.0,236.0 375.0,235.6 376.0,235.6 376.0,234.8 377.0,234.8 377.0,234.3 378.0,234.3 378.0,235.4 379.0,235.4 379.0,235.7 380.0,235.7 380.0,236.4 381.0,236.4 381.0,237.1 382.0,237.1 382.0,238.0 383.0,238.0 383.0,238.5 384.0,238.5 384.0,238.2 385.0,238.2 385.0,239.3 386.0,239.3 386.0,239.2 387.0,239.2 387.0,239.0 388.0,239.0 388.0,239.7 389.0,239.7 389.0,239.5 390.0,239.5 390.0,239.8 391.0,239.8 391.0,240.0 392.0,240.0 392.0,239.9 393.0,239.9 393.0,240.7 394.0,240.7 394.0,241.3 395.0,241.3 395.0,240.8 396.0,240.8 396.0,240.1 397.0,240.1 397.0,238.2 398.0,238.2 398.0,236.9 399.0,236.9 399.0,236.0 400.0,236.0 400.0,236.1 401.0,236.1 401.0,236.1 402.0,236.1 402.0,236.9 403.0,236.9 403.0,237.5 404.0,237.5 404.0,236.1 405.0,236.1 405.0,236.0 406.0,236.0 406.0,234.5 407.0,234.5 407.0,233.4 408.0,233.4 408.0,233.2 409.0,233.2 409.0,232.7 410.0,232.7 410.0,231.9 411.0,231.9 411.0,232.4 412.0,232.4 412.0,232.5 413.0,232.5 413.0,231.5 414.0,231.5 414.0,232.1 415.0,232.1 415.0,231.7 416.0,231.7 416.0,232.0 417.0,232.0 417.0,231.7 418.0,231.7 418.0,232.4 419.0,232.4 419.0,233.0 420.0,233.0 420.0,232.3 421.0,232.3 421.0,232.2 422.0,232.2 422.0,233.5 423.0,233.5 423.0,234.3 424.0,234.3 424.0,234.4 425.0,234.4 425.0,235.6 426.0,235.6 426.0,236.3 427.0,236.3 427.0,236.3 428.0,236.3 428.0,236.6 429.0,236.6 429.0,235.9 430.0,235.9 430.0,236.9 431.0,236.9 431.0,236.6 432.0,236.6 432.0,236.6 433.0,236.6 433.0,237.7 434.0,237.7 434.0,239.0 435.0,239.0 435.0,239.5 436.0,239.5 436.0,240.1 437.0,240.1 437.0,241.3 438.0,241.3 438.0,241.7 439.0,241.7 439.0,241.3 440.0,241.3 440.0,240.8 441.0,240.8 441.0,239.4 442.0,239.4 442.0,238.2 443.0,238.2 443.0,237.9 444.0,237.9 444.0,239.1 445.0,239.1 445.0,241.0 446.0,241.0 446.0,243.7 447.0,243.7 447.0,244.0 448.0,244.0 448.0,242.5 449.0,242.5 449.0,240.5 450.0,240.5 450.0,239.4 451.0,239.4 451.0,238.0 452.0,238.0 452.0,237.1 453.0,237.1 453.0,239.9 454.0,239.9 454.0,244.5 455.0,244.5 455.0,247.9 456.0,247.9 456.0,250.6 457.0,250.6 457.0,253.4 458.0,253.4 458.0,255.5 459.0,255.5 459.0,257.1 460.0,257.1 460.0,258.4 461.0,258.4 461.0,260.0 462.0,260.0 462.0,261.5 463.0,261.5 463.0,261.3 464.0,261.3 464.0,260.6 465.0,260.6 465.0,259.3 466.0,259.3 466.0,254.2 467.0,254.2 467.0,247.7 468.0,247.7 468.0,244.3 469.0,244.3 469.0,241.6 470.0,241.6 470.0,239.2 471.0,239.2 471.0,237.4 472.0,237.4 472.0,235.4 473.0,235.4 473.0,233.8 474.0,233.8 474.0,231.9 475.0,231.9 475.0,230.8 476.0,230.8 476.0,230.1 477.0,230.1 477.0,228.7 478.0,228.7 478.0,228.1 479.0,228.1 479.0,227.9 480.0,227.9 480.0,226.9 481.0,226.9 481.0,226.0 482.0,226.0 482.0,225.6 483.0,225.6 483.0,225.7 484.0,225.7 484.0,225.2 485.0,225.2 485.0,225.1 486.0,225.1 486.0,224.9 487.0,224.9 487.0,224.5 488.0,224.5 488.0,224.8 489.0,224.8 489.0,224.3 490.0,224.3 490.0,224.2 491.0,224.2 491.0,223.6 492.0,223.6 492.0,223.4 493.0,223.4 493.0,223.0 494.0,223.0 494.0,222.9 495.0,222.9 495.0,221.9 496.0,221.9 496.0,221.8 497.0,221.8 497.0,221.5 498.0,221.5 498.0,221.5 499.0,221.5 499.0,222.6 500.0,222.6 500.0,222.0 501.0,222.0 501.0,221.6 502.0,221.6 502.0,221.6 503.0,221.6 503.0,222.9 504.0,222.9 504.0,223.9 505.0,223.9 505.0,225.0 506.0,225.0 506.0,225.6 507.0,225.6 507.0,226.2 508.0,226.2 508.0,227.5 509.0,227.5 509.0,227.8 510.0,227.8 510.0,228.6 511.0,228.6 511.0,228.9 512.0,228.9 512.0,230.2 513.0,230.2 513.0,230.5 514.0,230.5 514.0,230.5 515.0,230.5 515.0,230.3 516.0,230.3 516.0,231.1 517.0,231.1 517.0,230.6 518.0,230.6 518.0,231.3 519.0,231.3 519.0,230.6 520.0,230.6 520.0,231.1 521.0,231.1 521.0,231.2 522.0,231.2 522.0,230.6 523.0,230.6 523.0,230.5 524.0,230.5 524.0,231.1 525.0,231.1 525.0,230.2 526.0,230.2 526.0,230.5 527.0,230.5 527.0,230.0 528.0,230.0 528.0,231.3 529.0,231.3 529.0,231.4 530.0,231.4 530.0,231.0 531.0,231.0 531.0,232.0 532.0,232.0 532.0,232.2 533.0,232.2 533.0,231.7 534.0,231.7 534.0,231.8 535.0,231.8 535.0,231.9 536.0,231.9 536.0,231.7 537.0,231.7 537.0,231.0 538.0,231.0 538.0,230.5 539.0,230.5 539.0,230.6 540.0,230.6 540.0,230.5 541.0,230.5 541.0,229.5 542.0,229.5 542.0,228.5 543.0,228.5 543.0,227.9 544.0,227.9 544.0,227.8 545.0,227.8 545.0,226.9 546.0,226.9 546.0,227.8 547.0,227.8 547.0,227.6 548.0,227.6 548.0,228.7 549.0,228.7 549.0,229.4 550.0,229.4 550.0,230.0 551.0,230.0 551.0,229.5 552.0,229.5 552.0,230.2 553.0,230.2 553.0,229.8 554.0,229.8 554.0,229.5 555.0,229.5 555.0,229.2 556.0,229.2 556.0,229.9 557.0,229.9 557.0,230.3 558.0,230.3 558.0,229.6 559.0,229.6 559.0,228.9 560.0,228.9 560.0,228.6 561.0,228.6 561.0,228.4 562.0,228.4 562.0,228.6 563.0,228.6 563.0,227.6 564.0,227.6 564.0,227.5 565.0,227.5 565.0,228.5 566.0,228.5 566.0,229.0 567.0,229.0 567.0,229.9 568.0,229.9 568.0,231.4" fill="none" stroke="#a600bc" stroke-width="1" stroke-linejoin="miter" shape-rendering="crispEdges" /></g><g clip-path="url(#rc4)"><polyline points="96.0,296.2 96.5,296.8 97.0,296.2 97.5,296.9 98.0,296.5 98.5,296.6 99.0,296.8 99.5,296.5 100.0,296.3 100.5,296.2 101.0,296.1 101.5,296.7 102.0,296.4 102.5,296.2 103.0,296.9 103.5,296.3 104.0,296.4 104.5,296.3 105.0,296.6 105.5,296.6 106.0,296.6 106.5,296.3 107.0,296.3 107.5,296.3 108.0,296.3 108.5,296.2 109.0,296.2 109.5,296.9 110.0,296.9 110.5,296.2 111.0,296.0 111.5,296.2 112.0,296.7 112.5,296.8 113.0,296.0 113.5,296.6 114.0,296.0 114.5,296.5 115.0,296.6 115.5,297.0 116.0,296.3 116.5,296.8 117.0,296.9 117.5,296.9 118.0,296.0 118.5,296.5 119.0,297.0 119.5,296.4 120.0,296.8 120.5,296.5 121.0,296.8 121.5,296.5 122.0,296.0 122.5,296.1 123.0,296.1 123.5,296.3 124.0,297.0 124.5,296.6 125.0,296.8 125.5,296.6 126.0,296.6 126.5,296.8 127.0,296.9 127.5,296.9 128.0,296.8 128.5,296.1 129.0,296.4 129.5,296.0 130.0,296.5 130.5,296.8 131.0,296.0 131.5,296.2 132.0,296.4 132.5,296.2 133.0,296.8 133.5,296.3 134.0,296.7 134.5,296.5 135.0,296.6 135.5,297.1 136.0,297.1 136.5,296.0 137.0,297.0 137.5,296.3 138.0,295.9 138.5,296.3 139.0,296.5 139.5,297.3 140.0,296.3 140.5,295.6 141.0,297.2 141.5,295.7 142.0,296.5 142.5,297.3 143.0,296.5 143.5,296.4 144.0,297.3 144.5,295.2 145.0,296.7 145.5,296.2 146.0,298.0 146.5,297.5 147.0,295.0 147.5,295.4 148.0,296.3 148.5,297.3 149.0,295.9 149.5,295.9 150.0,298.2 150.5,298.4 151.0,296.1 151.5,298.2 152.0,295.7 152.5,294.6 153.0,296.6 153.5,297.2 154.0,298.3 154.5,298.7 155.0,297.8 155.5,297.7 156.0,297.5 156.5,297.4 157.0,297.7 157.5,298.6 158.0,295.9 158.5,294.7 159.0,295.4 159.5,295.3 160.0,295.9 160.5,297.7 161.0,294.8 161.5,296.3 162.0,297.6 162.5,295.7 163.0,295.0 163.5,295.7 164.0,295.2 164.5,297.4 165.0,295.5 165.5,295.7 166.0,297.3 166.5,297.3 167.0,296.7 167.5,297.5 168.0,295.5 168.5,297.5 169.0,296.6 169.5,296.1 170.0,297.1 170.5,296.8 171.0,297.3 171.5,295.8 172.0,296.6 172.5,296.5 173.0,296.7 173.5,296.1 174.0,295.8 174.5,296.6 175.0,296.3 175.5,297.0 176.0,296.4 176.5,296.4 177.0,296.7 177.5,296.5 178.0,297.1 178.5,296.9 179.0,296.5 179.5,296.2 180.0,296.6 180.5,296.8 181.0,296.8 181.5,297.1 182.0,296.2 182.5,296.4 183.0,296.4 183.5,296.3 184.0,296.3 184.5,296.5 185.0,296.5 185.5,296.2 186.0,296.1 186.5,296.3 187.0,296.1 187.5,296.3 188.0,296.7 188.5,296.6 189.0,297.1 189.5,296.6 190.0,296.6 190.5,296.7 191.0,296.8 191.5,296.6 192.0,296.6 192.5,296.6 193.0,296.3 193.5,296.8 194.0,296.6 194.5,296.3 195.0,296.2 195.5,296.0 196.0,296.3 196.5,295.9 197.0,296.1 197.5,296.0 198.0,296.2 198.5,296.3 199.0,296.6 199.5,296.8 200.0,296.7 200.5,296.1 201.0,297.0 201.5,296.8 202.0,296.5 202.5,296.7 203.0,296.5 203.5,296.1 204.0,296.7 204.5,297.1 205.0,296.8 205.5,296.1 206.0,296.0 206.5,297.1 207.0,297.0 207.5,296.8 208.0,296.8 208.5,296.0 209.0,296.9 209.5,296.1 210.0,296.1 210.5,296.4 211.0,295.8 211.5,297.0 212.0,296.1 212.5,296.8 213.0,296.6 213.5,296.9 214.0,296.6 214.5,297.1 215.0,296.3 215.5,296.5 216.0,296.3 216.5,296.8 217.0,296.2 217.5,296.9 218.0,295.9 218.5,296.1 219.0,296.4 219.5,296.0 220.0,296.1 220.5,297.0 221.0,296.3 221.5,296.1 222.0,297.0 222.5,296.6 223.0,296.7 223.5,297.0 224.0,296.8 224.5,296.2 225.0,295.8 225.5,296.6 226.0,296.8 226.5,296.9 227.0,296.1 227.5,296.7 228.0,297.1 228.5,296.2 229.0,296.2 229.5,296.4 230.0,296.6 230.5,297.2 231.0,296.6 231.5,297.0 232.0,296.7 232.5,296.5 233.0,296.2 233.5,296.3 234.0,296.9 234.5,296.0 235.0,296.0 235.5,296.1 236.0,296.7 236.5,296.3 237.0,296.1 237.5,296.3 238.0,295.9 238.5,296.4 239.0,296.9 239.5,296.4 240.0,296.4 240.5,295.8 241.0,296.2 241.5,295.9 242.0,295.8 242.5,297.0 243.0,296.8 243.5,297.0 244.0,296.0 244.5,296.3 245.0,297.1 245.5,296.4 246.0,297.1 246.5,297.2 247.0,295.8 247.5,296.4 248.0,296.6 248.5,296.3 249.0,296.3 249.5,296.3 250.0,296.1 250.5,295.8 251.0,296.8 251.5,297.2 252.0,295.8 252.5,297.0 253.0,296.6 253.5,295.8 254.0,295.9 254.5,296.5 255.0,295.9 255.5,296.2 256.0,296.2 256.5,297.2 257.0,296.5 257.5,296.2 258.0,297.2 258.5,297.2 259.0,296.8 259.5,295.9 260.0,297.1 260.5,296.4 261.0,296.9 261.5,296.8 262.0,296.7 262.5,296.9 263.0,297.0 263.5,296.4 264.0,296.5 264.5,295.9 265.0,296.3 265.5,297.1 266.0,296.1 266.5,296.9 267.0,297.0 267.5,296.0 268.0,296.9 268.5,296.7 269.0,297.2 269.5,296.3 270.0,296.9 270.5,297.0 271.0,296.3 271.5,296.1 272.0,296.3 272.5,296.7 273.0,296.1 273.5,297.1 274.0,296.2 274.5,296.9 275.0,296.2 275.5,296.5 276.0,297.1 276.5,296.5 277.0,296.7 277.5,296.3 278.0,296.5 278.5,295.8 279.0,296.5 279.5,296.4 280.0,296.2 280.5,296.0 281.0,296.2 281.5,296.2 282.0,296.3 282.5,297.0 283.0,297.1 283.5,297.2 284.0,296.4 284.5,297.1 285.0,296.6 285.5,297.3 286.0,295.9 286.5,296.9 287.0,296.6 287.5,296.5 288.0,296.9 288.5,297.0 289.0,297.0 289.5,296.3 290.0,296.3 290.5,296.7 291.0,295.8 291.5,297.0 292.0,296.6 292.5,296.4 293.0,296.7 293.5,297.2 294.0,297.0 294.5,296.7 295.0,296.0 295.5,297.3 296.0,296.3 296.5,297.1 297.0,296.5 297.5,296.8 298.0,297.1 298.5,295.8 299.0,296.2 299.5,296.0 300.0,295.8 300.5,296.2 301.0,297.2 301.5,296.1 302.0,295.9 302.5,297.2 303.0,296.5 303.5,296.5 304.0,296.8 304.5,297.0 305.0,296.1 305.5,296.0 306.0,296.4 306.5,297.1 307.0,297.2 307.5,296.0 308.0,296.8 308.5,296.4 309.0,297.1 309.5,296.2 310.0,296.1 310.5,295.7 311.0,297.1 311.5,296.0 312.0,296.1 312.5,296.1 313.0,297.2 313.5,295.8 314.0,296.2 314.5,296.8 315.0,296.0 315.5,296.6 316.0,296.4 316.5,295.7 317.0,296.7 317.5,296.3 318.0,296.0 318.5,297.3 319.0,297.0 319.5,296.4 320.0,296.2 320.5,295.7 321.0,296.9 321.5,296.1 322.0,296.5 322.5,296.7 323.0,296.9 323.5,296.0 324.0,295.9 324.5,296.9 325.0,295.8 325.5,296.4 326.0,295.8 326.5,296.0 327.0,296.0 327.5,297.0 328.0,296.9 328.5,296.1 329.0,296.6 329.5,296.5 330.0,295.9 330.5,296.3 331.0,296.9 331.5,295.9 332.0,296.1 332.5,296.3 333.0,295.7 333.5,296.9 334.0,296.3 334.5,296.7 335.0,296.5 335.5,296.9 336.0,296.7 336.5,296.3 337.0,295.9 337.5,296.4 338.0,295.7 338.5,295.9 339.0,297.0 339.5,296.5 340.0,296.9 340.5,296.9 341.0,296.5 341.5,296.8 342.0,297.2 342.5,297.2 343.0,296.1 343.5,297.1 344.0,296.5 344.5,296.1 345.0,296.4 345.5,296.6 346.0,297.1 346.5,297.1 347.0,296.6 347.5,297.0 348.0,296.5 348.5,295.9 349.0,296.4 349.5,296.8 350.0,296.9 350.5,296.8 351.0,295.8 351.5,296.8 352.0,297.2 352.5,296.1 353.0,296.8 353.5,296.1 354.0,296.9 354.5,297.1 355.0,296.1 355.5,297.0 356.0,296.2 356.5,297.1 357.0,295.8 357.5,296.9 358.0,296.1 358.5,296.3 359.0,296.0 359.5,296.9 360.0,296.1 360.5,296.3 361.0,296.3 361.5,296.2 362.0,296.1 362.5,296.9 363.0,296.6 363.5,296.9 364.0,296.0 364.5,296.6 365.0,295.9 365.5,295.9 366.0,296.4 366.5,296.6 367.0,296.8 367.5,296.6 368.0,295.9 368.3,296.5 368.5,296.5 368.5,294.5 368.5,299.0 368.5,296.5 369.5,296.5 369.5,285.2 369.5,303.4 369.5,296.5 370.5,296.5 370.5,280.3 370.5,299.0 370.5,296.5 372.5,296.5 372.5,274.2 372.5,315.7 372.5,296.5 374.5,296.5 374.5,294.8 374.5,307.7 374.5,296.5 376.5,296.5 376.5,295.0 376.5,302.5 376.5,296.5 377.5,296.5 377.5,288.0 377.5,301.0 377.5,296.5 378.5,296.5 378.5,289.0 378.5,300.0 378.5,296.5 380.5,296.5 380.5,293.5 380.5,299.5 380.5,296.5 381.0,296.5 381.5,298.8 382.0,297.9 382.5,297.9 383.0,294.0 383.5,297.5 384.0,294.2 384.5,297.8 385.0,296.1 385.5,294.5 386.0,298.6 386.5,295.0 387.0,298.7 387.5,297.8 388.0,298.4 388.5,297.1 389.0,295.8 389.5,297.4 390.0,296.3 390.5,297.5 391.0,298.4 391.5,294.6 392.0,295.1 392.5,296.2 393.0,294.6 393.5,295.9 394.0,296.2 394.5,295.2 395.0,294.7 395.5,297.0 396.0,295.5 396.5,297.3 397.0,296.2 397.5,298.0 398.0,295.8 398.5,296.6 399.0,295.7 399.5,298.1 400.0,295.7 400.5,297.1 401.0,296.0 401.5,297.1 402.0,296.9 402.5,297.4 403.0,296.9 403.5,296.4 404.0,296.3 404.5,295.4 405.0,295.3 405.5,295.4 406.0,297.9 406.5,297.0 407.0,297.8 407.5,296.9 408.0,295.6 408.5,295.0 409.0,296.6 409.5,297.9 410.0,297.4 410.5,295.3 411.0,296.1 411.5,295.5 412.0,295.9 412.5,297.0 413.0,296.0 413.5,296.5 414.0,295.9 414.5,296.3 415.0,296.2 415.5,296.7 416.0,295.4 416.5,297.8 417.0,295.6 417.5,295.4 418.0,297.5 418.5,296.2 419.0,295.3 419.5,295.9 420.0,297.3 420.5,297.1 421.0,296.8 421.5,297.3 422.0,296.4 422.5,297.5 423.0,296.0 423.5,296.5 424.0,297.3 424.5,296.6 425.0,295.9 425.5,296.1 426.0,297.3 426.5,296.6 427.0,296.2 427.5,296.8 428.0,295.7 428.5,297.0 429.0,296.2 429.5,296.5 430.0,296.2 430.5,297.2 431.0,295.8 431.5,297.2 432.0,296.8 432.5,295.9 433.0,295.8 433.5,296.0 434.0,296.4 434.5,297.4 435.0,297.0 435.5,296.1 436.0,296.5 436.5,295.6 437.0,297.0 437.5,296.9 438.0,296.8 438.5,296.7 439.0,295.7 439.5,296.5 440.0,296.7 440.5,296.7 441.0,297.2 441.5,296.2 442.0,296.1 442.5,296.5 443.0,296.6 443.5,296.7 444.0,296.6 444.5,296.5 445.0,296.5 445.5,296.6 446.0,296.4 446.5,296.5 447.0,296.3 447.5,296.5 448.0,296.4 448.5,296.7 449.0,296.3 449.5,296.3 450.0,296.5 450.5,296.7 451.0,296.4 451.5,296.3 452.0,296.3 452.5,296.3 453.0,296.6 453.5,296.4 454.0,296.6 454.5,296.4 455.0,296.5 455.5,296.3 456.0,296.4 456.5,296.7 457.0,296.5 457.5,296.5 458.0,296.7 458.5,296.4 459.0,296.3 459.5,296.5 460.0,296.5 460.5,296.6 461.0,296.4 461.5,296.5 462.0,296.7 462.5,296.6 463.0,296.4 463.5,296.7 464.0,296.5 464.5,296.6 465.0,296.6 465.5,296.6 466.0,296.4 466.5,296.6 467.0,296.3 467.5,296.6 468.0,296.5 468.5,296.4 469.0,296.5 469.5,296.4 470.0,296.5 470.5,296.5 471.0,296.5 471.5,296.3 472.0,296.3 472.5,296.7 473.0,296.4 473.5,296.4 474.0,296.6 474.5,296.4 475.0,296.5 475.5,296.3 476.0,296.5 476.5,296.5 477.0,296.5 477.5,296.4 478.0,296.4 478.5,296.5 479.0,296.3 479.5,296.4 480.0,296.3 480.5,296.4 481.0,296.3 481.5,296.7 482.0,296.5 482.5,296.4 483.0,296.6 483.5,296.4 484.0,296.6 484.5,296.5 485.0,296.5 485.5,296.7 486.0,296.6 486.5,296.7 487.0,296.4 487.5,296.4 488.0,296.6 488.5,296.6 489.0,296.4 489.5,296.3 490.0,296.6 490.5,296.4 491.0,296.3 491.5,296.6 492.0,296.4 492.5,296.6 493.0,296.3 493.5,296.4 494.0,296.7 494.5,296.5 495.0,296.5 495.5,296.7 496.0,296.6 496.5,296.4 497.0,296.4 497.5,296.7 498.0,296.7 498.5,296.6 499.0,296.5 499.5,296.7 500.0,296.6 500.5,296.7 501.0,296.6 501.5,296.4 502.0,296.7 502.5,296.5 503.0,296.4 503.5,296.4 504.0,296.4 504.5,296.5 505.0,296.3 505.5,296.4 506.0,296.4 506.5,296.3 507.0,296.5 507.5,296.4 508.0,296.7 508.5,296.5 509.0,296.3 509.5,296.3 510.0,296.5 510.5,296.6 511.0,296.5 511.5,296.5 512.0,296.6 512.5,296.6 513.0,296.5 513.5,296.7 514.0,296.4 514.5,296.4 515.0,296.7 515.5,296.6 516.0,296.7 516.5,296.5 517.0,296.5 517.5,296.7 518.0,296.6 518.5,296.5 519.0,296.5 519.5,296.5 520.0,296.3 520.5,296.3 521.0,296.6 521.5,296.6 522.0,296.7 522.5,296.5 523.0,296.3 523.5,296.6 524.0,296.4 524.5,296.5 525.0,296.4 525.5,296.4 526.0,296.7 526.5,296.5 527.0,296.6 527.5,296.3 528.0,296.5 528.5,296.5 529.0,296.7 529.5,296.6 530.0,296.6 530.5,296.6 531.0,296.3 531.5,296.6 532.0,296.6 532.5,296.6 533.0,296.5 533.5,296.4 534.0,296.5 534.5,296.5 535.0,296.3 535.5,296.6 536.0,296.6 536.5,296.3 537.0,296.5 537.5,296.7 538.0,296.5 538.5,296.3 539.0,296.7 539.5,296.6 540.0,296.5 540.5,296.7 541.0,296.5 541.5,296.4 542.0,296.3 542.5,296.6 543.0,296.3 543.5,296.6 544.0,296.3 544.5,296.6 545.0,296.3 545.5,296.6 546.0,296.3 546.5,296.7 547.0,296.5 547.5,296.6 548.0,296.7 548.5,296.5 549.0,296.5 549.5,296.7 550.0,296.6 550.5,296.6 551.0,296.5 551.5,296.7 552.0,296.5 552.5,296.3 553.0,296.3 553.5,296.7 554.0,296.3 554.5,296.5 555.0,296.5 555.5,296.6 556.0,296.4 556.5,296.4 557.0,296.4 557.5,296.3 558.0,296.5 558.5,296.3 559.0,296.5 559.5,296.4 560.0,296.3 560.5,296.6 561.0,296.6 561.5,296.6 562.0,296.5 562.5,296.5 563.0,296.6 563.5,296.6 564.0,296.5 564.5,296.4 565.0,296.4 565.5,296.5 566.0,296.6 566.5,296.4 567.0,296.5 567.5,296.7 568.0,296.4" fill="none" stroke="#00008b" stroke-width="1.2" stroke-linejoin="miter" shape-rendering="crispEdges" /><polyline points="389.5,291.0 389.5,298.0" fill="none" stroke="#00008b" stroke-width="1.0" stroke-linejoin="miter" shape-rendering="crispEdges" /><polyline points="451.5,295.0 451.5,297.5" fill="none" stroke="#00008b" stroke-width="1.0" stroke-linejoin="miter" shape-rendering="crispEdges" /><polyline points="454.0,295.0 454.0,297.0" fill="none" stroke="#00008b" stroke-width="1.0" stroke-linejoin="miter" shape-rendering="crispEdges" /><polyline points="460.0,296.0 460.0,298.0" fill="none" stroke="#00008b" stroke-width="1.0" stroke-linejoin="miter" shape-rendering="crispEdges" /><polyline points="470.5,295.0 470.5,297.5" fill="none" stroke="#00008b" stroke-width="1.0" stroke-linejoin="miter" shape-rendering="crispEdges" /><polyline points="473.0,295.5 473.0,297.5" fill="none" stroke="#00008b" stroke-width="1.0" stroke-linejoin="miter" shape-rendering="crispEdges" /><polyline points="531.0,295.0 531.0,297.5" fill="none" stroke="#00008b" stroke-width="1.0" stroke-linejoin="miter" shape-rendering="crispEdges" /><polyline points="560.0,295.5 560.0,297.5" fill="none" stroke="#00008b" stroke-width="1.0" stroke-linejoin="miter" shape-rendering="crispEdges" /></g><g clip-path="url(#rc5)"><polyline points="96.0,372.8 98.0,364.7 100.7,356.7 104.3,350.4 107.9,346.8 112.4,344.1 116.8,342.7 128.4,342.4 132.0,344.7 136.5,352.2 141.9,362.0 147.2,369.2 149.9,370.6 152.6,369.2 155.3,362.9 157.1,354.9 159.7,348.6 162.4,344.7 166.0,342.4 170.5,340.6 179.4,338.8 190.1,338.4 204.4,338.2 208.0,340.6 213.4,345.9 222.3,352.2 229.5,359.3 234.0,362.4 237.5,359.3 242.0,349.5 245.6,343.2 250.1,340.2 256.3,338.6 265.3,337.5 296.5,337.3 301.9,339.7 307.3,346.8 314.4,357.6 319.8,364.2 322.5,364.2 325.0,362.6 328.6,355.8 333.0,347.7 337.5,342.4 342.0,339.3 350.0,337.5 360.8,336.6 368.8,336.5 369.7,337.3 388.5,337.3 393.0,340.6 397.4,346.8 403.7,358.4 408.2,365.1 409.9,366.1 413.5,362.0 416.2,354.0 418.9,347.7 423.4,342.4 429.6,338.8 435.9,337.3 470.7,337.3 476.1,340.6 481.5,348.6 487.7,359.3 492.2,366.9 494.9,368.3 496.7,367.4 499.4,359.3 502.0,350.4 504.7,344.1 508.3,340.6 514.6,338.4 521.7,337.3 533.3,337.3 536.9,341.1 542.3,349.5 548.5,357.0 553.0,358.1 557.5,362.0 561.1,364.7 563.7,362.9 566.4,354.9 568.0,350.4" fill="none" stroke="#dd0000" stroke-width="1.4" stroke-linejoin="miter" shape-rendering="crispEdges" stroke-linejoin="round"/></g><g clip-path="url(#rc6)"><polyline points="96.0,422.3 98.9,413.3 102.5,402.6 107.0,396.4 112.4,391.9 123.1,391.3 128.4,392.4 132.0,395.5 136.5,403.5 142.8,413.3 149.0,420.1 152.2,420.1 155.3,412.4 158.8,401.7 162.4,395.5 166.9,392.4 175.8,390.1 183.0,390.1 190.1,391.3 197.3,391.0 203.6,390.6 208.0,393.7 211.6,399.0 217.0,404.0 223.2,407.6 228.6,412.4 233.1,416.0 235.7,415.7 239.3,410.7 242.9,400.8 246.5,395.1 250.1,392.4 256.3,391.5 266.1,391.0 273.3,391.0 279.6,391.9 286.7,392.4 293.0,391.5 298.3,393.1 302.8,397.2 308.2,405.3 315.3,413.3 321.6,419.2 324.3,418.7 325.0,416.9 329.5,410.7 334.8,399.9 339.3,394.6 343.8,392.2 356.3,392.2 363.4,390.6 369.7,391.5 376.0,393.1 382.2,392.4 388.5,392.2 393.0,396.4 398.3,405.3 403.7,413.3 408.2,418.7 412.6,419.2 415.3,414.2 418.0,406.2 421.6,399.9 426.0,396.0 432.3,391.9 436.8,391.3 443.0,392.2 450.2,393.1 457.3,391.9 464.5,392.4 471.6,394.0 477.0,398.1 483.3,407.1 488.6,415.1 493.1,421.9 497.6,422.3 499.4,416.9 502.0,406.2 504.7,399.9 509.2,395.5 513.7,393.3 519.9,392.8 526.2,391.3 532.4,391.5 536.9,397.2 541.4,405.3 546.7,410.3 553.0,412.4 557.5,416.0 561.1,418.3 564.6,415.1 567.3,408.0 568.0,405.3" fill="none" stroke="#a4b800" stroke-width="1.5" stroke-linejoin="miter" shape-rendering="crispEdges" stroke-linejoin="round"/></g><g clip-path="url(#rc7)"><polyline points="96.0,455.8 101.5,455.2 102.5,454.3 103.4,455.8 103.7,438.3 104.4,473.0 105.0,452.8 106.0,454.8 106.5,453.4 107.5,452.2 108.5,451.1 109.5,450.1 110.5,448.7 111.5,447.3 112.5,446.4 113.5,445.0 114.3,445.2 115.5,452.0 116.5,457.0 117.5,457.0 118.5,457.1 119.5,455.9 120.5,456.8 121.5,456.6 122.9,456.3 123.9,454.3 124.8,455.8 125.1,438.7 125.8,473.1 126.4,452.8 127.4,454.8 127.9,454.0 128.9,452.5 129.9,451.6 130.9,450.5 131.9,448.9 132.9,448.2 133.9,446.8 134.9,445.8 135.7,445.2 136.9,452.0 137.9,457.0 138.9,456.0 139.9,456.5 140.9,457.1 141.9,456.7 142.9,457.0 143.9,457.2 144.7,455.4 145.7,454.3 146.6,455.8 146.9,437.6 147.6,474.1 148.2,452.8 149.2,454.8 149.7,454.2 150.7,452.8 151.7,451.2 152.7,450.1 153.7,449.1 154.7,447.7 155.7,446.5 156.7,445.2 157.5,445.2 158.7,452.0 159.7,457.0 160.7,457.0 161.7,456.1 162.7,456.8 163.7,456.8 164.7,457.1 165.8,455.2 166.8,454.3 167.7,455.8 168.0,438.6 168.7,473.4 169.3,452.8 170.3,454.8 170.8,453.8 171.8,452.1 172.8,450.9 173.8,449.8 174.8,449.2 175.8,447.4 176.8,446.2 177.8,445.2 178.6,445.2 179.8,452.0 180.8,457.0 181.8,456.5 182.8,456.8 183.8,456.9 184.8,456.2 185.8,457.1 186.8,455.8 187.8,456.3 188.5,455.4 189.5,454.3 190.4,455.8 190.7,437.9 191.4,472.8 192.0,452.8 193.0,454.8 193.5,453.8 194.5,452.5 195.5,451.1 196.5,449.9 197.5,448.7 198.5,448.0 199.5,446.4 200.5,445.4 201.3,445.2 202.5,452.0 203.5,457.0 204.5,456.5 205.5,456.4 206.5,456.8 207.5,456.6 208.5,456.2 209.5,457.2 210.5,456.1 211.5,455.4 212.5,454.3 213.4,455.8 213.7,438.5 214.4,473.0 215.0,452.8 216.0,454.8 216.5,453.5 217.5,452.2 218.5,451.4 219.5,449.9 220.5,448.5 221.5,447.7 222.5,446.6 223.5,444.8 224.3,445.2 225.5,452.0 226.5,457.0 227.5,456.5 228.5,455.9 229.5,456.9 230.5,456.9 231.5,456.2 232.5,455.9 233.5,457.1 235.0,455.8 236.0,454.3 236.9,455.8 237.2,437.3 237.9,471.8 238.5,452.8 239.5,454.8 240.0,454.1 241.0,452.6 242.0,451.1 243.0,450.2 244.0,448.8 245.0,448.0 246.0,446.5 247.0,445.8 247.8,445.2 249.0,452.0 250.0,457.0 251.0,456.5 252.0,457.1 253.0,456.1 254.0,456.5 255.0,456.5 256.0,456.9 257.0,455.3 258.0,454.3 258.9,455.8 259.2,439.1 259.9,473.9 260.5,452.8 261.5,454.8 262.0,453.7 263.0,452.1 264.0,451.6 265.0,450.3 266.0,449.4 267.0,447.8 268.0,447.0 269.0,445.1 269.8,445.2 271.0,452.0 272.0,457.0 273.0,456.3 274.0,456.8 275.0,456.8 276.0,456.8 277.0,457.1 278.0,456.8 279.0,456.8 280.0,457.0 281.2,456.0 282.2,454.3 283.1,455.8 283.4,437.8 284.1,474.0 284.7,452.8 285.7,454.8 286.2,453.5 287.2,452.8 288.2,451.4 289.2,450.0 290.2,448.6 291.2,448.1 292.2,446.1 293.2,445.6 294.0,445.2 295.2,452.0 296.2,457.0 297.2,456.8 298.2,456.4 299.2,456.7 300.2,456.2 301.2,457.0 302.2,456.0 303.2,456.6 304.5,455.8 305.5,454.3 306.4,455.8 306.7,438.7 307.4,472.9 308.0,452.8 309.0,454.8 309.5,454.3 310.5,452.9 311.5,451.8 312.5,449.7 313.5,448.6 314.5,447.7 315.5,446.7 316.5,445.2 317.3,445.2 318.5,452.0 319.5,457.0 320.5,456.6 321.5,455.9 322.5,456.7 323.5,456.8 324.5,456.4 325.5,456.0 327.0,455.7 328.0,454.3 328.9,455.8 329.2,438.8 329.9,473.3 330.5,452.8 331.5,454.8 332.0,454.2 333.0,452.7 334.0,451.0 335.0,450.2 336.0,448.5 337.0,448.0 338.0,446.2 339.0,445.7 339.8,445.2 341.0,452.0 342.0,457.0 343.0,456.5 344.0,456.4 345.0,456.0 346.0,456.9 347.0,457.1 348.0,456.8 349.0,456.7 350.2,456.0 351.2,454.3 352.1,455.8 352.4,438.9 353.1,473.6 353.7,452.8 354.7,454.8 355.2,453.4 356.2,452.8 357.2,451.8 358.2,449.7 359.2,448.6 360.2,448.0 361.2,446.1 362.2,445.1 363.0,445.2 364.2,452.0 365.2,457.0 366.2,457.0 367.2,456.3 368.2,457.1 369.2,456.2 370.2,456.3 371.2,456.0 372.2,456.9 373.2,457.1 374.4,455.4 375.4,454.3 376.3,455.8 376.6,437.8 377.3,473.5 377.9,452.8 378.9,454.8 379.4,453.4 380.4,452.1 381.4,451.2 382.4,450.0 383.4,449.0 384.4,447.8 385.4,446.3 386.4,445.2 387.2,445.2 388.4,452.0 389.4,457.0 390.4,456.2 391.4,456.1 392.4,456.9 393.4,456.0 394.4,456.4 395.4,456.0 396.4,456.9 397.4,457.0 398.5,455.3 399.5,454.3 400.4,455.8 400.7,438.8 401.4,474.3 402.0,452.8 403.0,454.8 403.5,453.7 404.5,452.9 405.5,451.8 406.5,449.7 407.5,448.7 408.5,447.3 409.5,446.2 410.5,444.8 411.3,445.2 412.5,452.0 413.5,457.0 414.5,455.9 415.5,456.7 416.5,456.2 417.5,457.0 418.5,456.3 419.5,457.1 420.5,456.0 421.7,455.9 422.7,454.3 423.6,455.8 423.9,437.7 424.6,473.9 425.2,452.8 426.2,454.8 426.7,453.6 427.7,452.2 428.7,451.3 429.7,449.9 430.7,449.2 431.7,448.0 432.7,446.0 433.7,444.8 434.5,445.2 435.7,452.0 436.7,457.0 437.7,457.1 438.7,456.3 439.7,456.2 440.7,456.2 441.7,456.1 442.7,456.9 443.7,456.2 444.7,456.8 445.9,456.0 446.9,454.3 447.8,455.8 448.1,438.4 448.8,473.5 449.4,452.8 450.4,454.8 450.9,453.5 451.9,452.6 452.9,451.4 453.9,449.7 454.9,448.7 455.9,448.2 456.9,446.7 457.9,445.8 458.7,445.2 459.9,452.0 460.9,457.0 461.9,456.3 462.9,456.9 463.9,456.6 464.9,456.6 465.9,456.0 466.9,456.1 467.9,455.9 468.9,456.5 469.5,455.6 470.5,454.3 471.4,455.8 471.7,437.5 472.4,472.6 473.0,452.8 474.0,454.8 474.5,453.8 475.5,452.8 476.5,451.5 477.5,450.3 478.5,449.0 479.5,447.6 480.5,446.3 481.5,445.4 482.3,445.2 483.5,452.0 484.5,457.0 485.5,456.8 486.5,457.1 487.5,457.0 488.5,456.6 489.5,457.0 490.5,455.8 491.5,456.9 492.7,455.4 493.7,454.3 494.6,455.8 494.9,438.7 495.6,474.0 496.2,452.8 497.2,454.8 497.7,453.6 498.7,452.5 499.7,451.9 500.7,449.9 501.7,449.2 502.7,447.6 503.7,446.3 504.7,445.6 505.5,445.2 506.7,452.0 507.7,457.0 508.7,456.4 509.7,456.8 510.7,456.1 511.7,457.0 512.7,456.8 513.7,456.5 514.7,456.9 515.7,457.1 516.5,456.1 517.5,454.3 518.4,455.8 518.7,437.7 519.4,473.7 520.0,452.8 521.0,454.8 521.5,453.9 522.5,452.9 523.5,451.3 524.5,450.1 525.5,448.5 526.5,447.4 527.5,446.5 528.5,445.3 529.3,445.2 530.5,452.0 531.5,457.0 532.5,456.8 533.5,456.2 534.5,456.0 535.5,456.1 536.5,456.4 537.5,456.1 538.5,456.0 539.5,456.1 540.5,454.3 541.4,455.8 541.7,439.3 542.4,471.7 543.0,452.8 544.0,454.8 544.5,453.3 545.5,452.4 546.5,451.5 547.5,450.6 548.5,449.0 549.5,447.9 550.5,446.7 551.5,445.7 552.3,445.2 553.5,452.0 554.5,457.0 555.5,457.0 556.5,456.3 557.5,457.0 558.5,456.2 559.5,457.2 560.5,456.4 561.2,455.9 562.2,454.3 563.1,455.8 563.4,438.6 564.1,472.4 564.7,452.8 565.7,454.8 566.2,454.2 567.2,453.1" fill="none" stroke="#a600bc" stroke-width="1" stroke-linejoin="miter" shape-rendering="crispEdges" /><polyline points="96.0,456.8 101.5,456.2 102.5,455.3 103.4,456.8 103.7,439.3 104.4,474.0 105.0,453.8 106.0,455.8 106.5,454.4 107.5,453.2 108.5,452.1 109.5,451.1 110.5,449.7 111.5,448.3 112.5,447.4 113.5,446.0 114.3,446.2 115.5,453.0 116.5,458.0 117.5,458.0 118.5,458.1 119.5,456.9 120.5,457.8 121.5,457.6 122.9,457.3 123.9,455.3 124.8,456.8 125.1,439.7 125.8,474.1 126.4,453.8 127.4,455.8 127.9,455.0 128.9,453.5 129.9,452.6 130.9,451.5 131.9,449.9 132.9,449.2 133.9,447.8 134.9,446.8 135.7,446.2 136.9,453.0 137.9,458.0 138.9,457.0 139.9,457.5 140.9,458.1 141.9,457.7 142.9,458.0 143.9,458.2 144.7,456.4 145.7,455.3 146.6,456.8 146.9,438.6 147.6,475.1 148.2,453.8 149.2,455.8 149.7,455.2 150.7,453.8 151.7,452.2 152.7,451.1 153.7,450.1 154.7,448.7 155.7,447.5 156.7,446.2 157.5,446.2 158.7,453.0 159.7,458.0 160.7,458.0 161.7,457.1 162.7,457.8 163.7,457.8 164.7,458.1 165.8,456.2 166.8,455.3 167.7,456.8 168.0,439.6 168.7,474.4 169.3,453.8 170.3,455.8 170.8,454.8 171.8,453.1 172.8,451.9 173.8,450.8 174.8,450.2 175.8,448.4 176.8,447.2 177.8,446.2 178.6,446.2 179.8,453.0 180.8,458.0 181.8,457.5 182.8,457.8 183.8,457.9 184.8,457.2 185.8,458.1 186.8,456.8 187.8,457.3 188.5,456.4 189.5,455.3 190.4,456.8 190.7,438.9 191.4,473.8 192.0,453.8 193.0,455.8 193.5,454.8 194.5,453.5 195.5,452.1 196.5,450.9 197.5,449.7 198.5,449.0 199.5,447.4 200.5,446.4 201.3,446.2 202.5,453.0 203.5,458.0 204.5,457.5 205.5,457.4 206.5,457.8 207.5,457.6 208.5,457.2 209.5,458.2 210.5,457.1 211.5,456.4 212.5,455.3 213.4,456.8 213.7,439.5 214.4,474.0 215.0,453.8 216.0,455.8 216.5,454.5 217.5,453.2 218.5,452.4 219.5,450.9 220.5,449.5 221.5,448.7 222.5,447.6 223.5,445.8 224.3,446.2 225.5,453.0 226.5,458.0 227.5,457.5 228.5,456.9 229.5,457.9 230.5,457.9 231.5,457.2 232.5,456.9 233.5,458.1 235.0,456.8 236.0,455.3 236.9,456.8 237.2,438.3 237.9,472.8 238.5,453.8 239.5,455.8 240.0,455.1 241.0,453.6 242.0,452.1 243.0,451.2 244.0,449.8 245.0,449.0 246.0,447.5 247.0,446.8 247.8,446.2 249.0,453.0 250.0,458.0 251.0,457.5 252.0,458.1 253.0,457.1 254.0,457.5 255.0,457.5 256.0,457.9 257.0,456.3 258.0,455.3 258.9,456.8 259.2,440.1 259.9,474.9 260.5,453.8 261.5,455.8 262.0,454.7 263.0,453.1 264.0,452.6 265.0,451.3 266.0,450.4 267.0,448.8 268.0,448.0 269.0,446.1 269.8,446.2 271.0,453.0 272.0,458.0 273.0,457.3 274.0,457.8 275.0,457.8 276.0,457.8 277.0,458.1 278.0,457.8 279.0,457.8 280.0,458.0 281.2,457.0 282.2,455.3 283.1,456.8 283.4,438.8 284.1,475.0 284.7,453.8 285.7,455.8 286.2,454.5 287.2,453.8 288.2,452.4 289.2,451.0 290.2,449.6 291.2,449.1 292.2,447.1 293.2,446.6 294.0,446.2 295.2,453.0 296.2,458.0 297.2,457.8 298.2,457.4 299.2,457.7 300.2,457.2 301.2,458.0 302.2,457.0 303.2,457.6 304.5,456.8 305.5,455.3 306.4,456.8 306.7,439.7 307.4,473.9 308.0,453.8 309.0,455.8 309.5,455.3 310.5,453.9 311.5,452.8 312.5,450.7 313.5,449.6 314.5,448.7 315.5,447.7 316.5,446.2 317.3,446.2 318.5,453.0 319.5,458.0 320.5,457.6 321.5,456.9 322.5,457.7 323.5,457.8 324.5,457.4 325.5,457.0 327.0,456.7 328.0,455.3 328.9,456.8 329.2,439.8 329.9,474.3 330.5,453.8 331.5,455.8 332.0,455.2 333.0,453.7 334.0,452.0 335.0,451.2 336.0,449.5 337.0,449.0 338.0,447.2 339.0,446.7 339.8,446.2 341.0,453.0 342.0,458.0 343.0,457.5 344.0,457.4 345.0,457.0 346.0,457.9 347.0,458.1 348.0,457.8 349.0,457.7 350.2,457.0 351.2,455.3 352.1,456.8 352.4,439.9 353.1,474.6 353.7,453.8 354.7,455.8 355.2,454.4 356.2,453.8 357.2,452.8 358.2,450.7 359.2,449.6 360.2,449.0 361.2,447.1 362.2,446.1 363.0,446.2 364.2,453.0 365.2,458.0 366.2,458.0 367.2,457.3 368.2,458.1 369.2,457.2 370.2,457.3 371.2,457.0 372.2,457.9 373.2,458.1 374.4,456.4 375.4,455.3 376.3,456.8 376.6,438.8 377.3,474.5 377.9,453.8 378.9,455.8 379.4,454.4 380.4,453.1 381.4,452.2 382.4,451.0 383.4,450.0 384.4,448.8 385.4,447.3 386.4,446.2 387.2,446.2 388.4,453.0 389.4,458.0 390.4,457.2 391.4,457.1 392.4,457.9 393.4,457.0 394.4,457.4 395.4,457.0 396.4,457.9 397.4,458.0 398.5,456.3 399.5,455.3 400.4,456.8 400.7,439.8 401.4,475.3 402.0,453.8 403.0,455.8 403.5,454.7 404.5,453.9 405.5,452.8 406.5,450.7 407.5,449.7 408.5,448.3 409.5,447.2 410.5,445.8 411.3,446.2 412.5,453.0 413.5,458.0 414.5,456.9 415.5,457.7 416.5,457.2 417.5,458.0 418.5,457.3 419.5,458.1 420.5,457.0 421.7,456.9 422.7,455.3 423.6,456.8 423.9,438.7 424.6,474.9 425.2,453.8 426.2,455.8 426.7,454.6 427.7,453.2 428.7,452.3 429.7,450.9 430.7,450.2 431.7,449.0 432.7,447.0 433.7,445.8 434.5,446.2 435.7,453.0 436.7,458.0 437.7,458.1 438.7,457.3 439.7,457.2 440.7,457.2 441.7,457.1 442.7,457.9 443.7,457.2 444.7,457.8 445.9,457.0 446.9,455.3 447.8,456.8 448.1,439.4 448.8,474.5 449.4,453.8 450.4,455.8 450.9,454.5 451.9,453.6 452.9,452.4 453.9,450.7 454.9,449.7 455.9,449.2 456.9,447.7 457.9,446.8 458.7,446.2 459.9,453.0 460.9,458.0 461.9,457.3 462.9,457.9 463.9,457.6 464.9,457.6 465.9,457.0 466.9,457.1 467.9,456.9 468.9,457.5 469.5,456.6 470.5,455.3 471.4,456.8 471.7,438.5 472.4,473.6 473.0,453.8 474.0,455.8 474.5,454.8 475.5,453.8 476.5,452.5 477.5,451.3 478.5,450.0 479.5,448.6 480.5,447.3 481.5,446.4 482.3,446.2 483.5,453.0 484.5,458.0 485.5,457.8 486.5,458.1 487.5,458.0 488.5,457.6 489.5,458.0 490.5,456.8 491.5,457.9 492.7,456.4 493.7,455.3 494.6,456.8 494.9,439.7 495.6,475.0 496.2,453.8 497.2,455.8 497.7,454.6 498.7,453.5 499.7,452.9 500.7,450.9 501.7,450.2 502.7,448.6 503.7,447.3 504.7,446.6 505.5,446.2 506.7,453.0 507.7,458.0 508.7,457.4 509.7,457.8 510.7,457.1 511.7,458.0 512.7,457.8 513.7,457.5 514.7,457.9 515.7,458.1 516.5,457.1 517.5,455.3 518.4,456.8 518.7,438.7 519.4,474.7 520.0,453.8 521.0,455.8 521.5,454.9 522.5,453.9 523.5,452.3 524.5,451.1 525.5,449.5 526.5,448.4 527.5,447.5 528.5,446.3 529.3,446.2 530.5,453.0 531.5,458.0 532.5,457.8 533.5,457.2 534.5,457.0 535.5,457.1 536.5,457.4 537.5,457.1 538.5,457.0 539.5,457.1 540.5,455.3 541.4,456.8 541.7,440.3 542.4,472.7 543.0,453.8 544.0,455.8 544.5,454.3 545.5,453.4 546.5,452.5 547.5,451.6 548.5,450.0 549.5,448.9 550.5,447.7 551.5,446.7 552.3,446.2 553.5,453.0 554.5,458.0 555.5,458.0 556.5,457.3 557.5,458.0 558.5,457.2 559.5,458.2 560.5,457.4 561.2,456.9 562.2,455.3 563.1,456.8 563.4,439.6 564.1,473.4 564.7,453.8 565.7,455.8 566.2,455.2 567.2,454.1" fill="none" stroke="#a600bc" stroke-width="1" stroke-linejoin="miter" shape-rendering="crispEdges" /><polyline points="96.8,456.3 102.3,455.7 103.3,454.8 104.2,456.3 104.5,438.8 105.2,473.5 105.8,453.3 106.8,455.3 107.3,453.9 108.3,452.7 109.3,451.6 110.3,450.6 111.3,449.2 112.3,447.8 113.3,446.9 114.3,445.5 115.1,445.7 116.3,452.5 117.3,457.5 118.3,457.5 119.3,457.6 120.3,456.4 121.3,457.3 122.3,457.1 123.7,456.8 124.7,454.8 125.6,456.3 125.9,439.2 126.6,473.6 127.2,453.3 128.2,455.3 128.7,454.5 129.7,453.0 130.7,452.1 131.7,451.0 132.7,449.4 133.7,448.7 134.7,447.3 135.7,446.3 136.5,445.7 137.7,452.5 138.7,457.5 139.7,456.5 140.7,457.0 141.7,457.6 142.7,457.2 143.7,457.5 144.7,457.7 145.5,455.9 146.5,454.8 147.4,456.3 147.7,438.1 148.4,474.6 149.0,453.3 150.0,455.3 150.5,454.7 151.5,453.3 152.5,451.7 153.5,450.6 154.5,449.6 155.5,448.2 156.5,447.0 157.5,445.7 158.3,445.7 159.5,452.5 160.5,457.5 161.5,457.5 162.5,456.6 163.5,457.3 164.5,457.3 165.5,457.6 166.6,455.7 167.6,454.8 168.5,456.3 168.8,439.1 169.5,473.9 170.1,453.3 171.1,455.3 171.6,454.3 172.6,452.6 173.6,451.4 174.6,450.3 175.6,449.7 176.6,447.9 177.6,446.7 178.6,445.7 179.4,445.7 180.6,452.5 181.6,457.5 182.6,457.0 183.6,457.3 184.6,457.4 185.6,456.7 186.6,457.6 187.6,456.3 188.6,456.8 189.3,455.9 190.3,454.8 191.2,456.3 191.5,438.4 192.2,473.3 192.8,453.3 193.8,455.3 194.3,454.3 195.3,453.0 196.3,451.6 197.3,450.4 198.3,449.2 199.3,448.5 200.3,446.9 201.3,445.9 202.1,445.7 203.3,452.5 204.3,457.5 205.3,457.0 206.3,456.9 207.3,457.3 208.3,457.1 209.3,456.7 210.3,457.7 211.3,456.6 212.3,455.9 213.3,454.8 214.2,456.3 214.5,439.0 215.2,473.5 215.8,453.3 216.8,455.3 217.3,454.0 218.3,452.7 219.3,451.9 220.3,450.4 221.3,449.0 222.3,448.2 223.3,447.1 224.3,445.3 225.1,445.7 226.3,452.5 227.3,457.5 228.3,457.0 229.3,456.4 230.3,457.4 231.3,457.4 232.3,456.7 233.3,456.4 234.3,457.6 235.8,456.3 236.8,454.8 237.7,456.3 238.0,437.8 238.7,472.3 239.3,453.3 240.3,455.3 240.8,454.6 241.8,453.1 242.8,451.6 243.8,450.7 244.8,449.3 245.8,448.5 246.8,447.0 247.8,446.3 248.6,445.7 249.8,452.5 250.8,457.5 251.8,457.0 252.8,457.6 253.8,456.6 254.8,457.0 255.8,457.0 256.8,457.4 257.8,455.8 258.8,454.8 259.7,456.3 260.0,439.6 260.7,474.4 261.3,453.3 262.3,455.3 262.8,454.2 263.8,452.6 264.8,452.1 265.8,450.8 266.8,449.9 267.8,448.3 268.8,447.5 269.8,445.6 270.6,445.7 271.8,452.5 272.8,457.5 273.8,456.8 274.8,457.3 275.8,457.3 276.8,457.3 277.8,457.6 278.8,457.3 279.8,457.3 280.8,457.5 282.0,456.5 283.0,454.8 283.9,456.3 284.2,438.3 284.9,474.5 285.5,453.3 286.5,455.3 287.0,454.0 288.0,453.3 289.0,451.9 290.0,450.5 291.0,449.1 292.0,448.6 293.0,446.6 294.0,446.1 294.8,445.7 296.0,452.5 297.0,457.5 298.0,457.3 299.0,456.9 300.0,457.2 301.0,456.7 302.0,457.5 303.0,456.5 304.0,457.1 305.3,456.3 306.3,454.8 307.2,456.3 307.5,439.2 308.2,473.4 308.8,453.3 309.8,455.3 310.3,454.8 311.3,453.4 312.3,452.3 313.3,450.2 314.3,449.1 315.3,448.2 316.3,447.2 317.3,445.7 318.1,445.7 319.3,452.5 320.3,457.5 321.3,457.1 322.3,456.4 323.3,457.2 324.3,457.3 325.3,456.9 326.3,456.5 327.8,456.2 328.8,454.8 329.7,456.3 330.0,439.3 330.7,473.8 331.3,453.3 332.3,455.3 332.8,454.7 333.8,453.2 334.8,451.5 335.8,450.7 336.8,449.0 337.8,448.5 338.8,446.7 339.8,446.2 340.6,445.7 341.8,452.5 342.8,457.5 343.8,457.0 344.8,456.9 345.8,456.5 346.8,457.4 347.8,457.6 348.8,457.3 349.8,457.2 351.0,456.5 352.0,454.8 352.9,456.3 353.2,439.4 353.9,474.1 354.5,453.3 355.5,455.3 356.0,453.9 357.0,453.3 358.0,452.3 359.0,450.2 360.0,449.1 361.0,448.5 362.0,446.6 363.0,445.6 363.8,445.7 365.0,452.5 366.0,457.5 367.0,457.5 368.0,456.8 369.0,457.6 370.0,456.7 371.0,456.8 372.0,456.5 373.0,457.4 374.0,457.6 375.2,455.9 376.2,454.8 377.1,456.3 377.4,438.3 378.1,474.0 378.7,453.3 379.7,455.3 380.2,453.9 381.2,452.6 382.2,451.7 383.2,450.5 384.2,449.5 385.2,448.3 386.2,446.8 387.2,445.7 388.0,445.7 389.2,452.5 390.2,457.5 391.2,456.7 392.2,456.6 393.2,457.4 394.2,456.5 395.2,456.9 396.2,456.5 397.2,457.4 398.2,457.5 399.3,455.8 400.3,454.8 401.2,456.3 401.5,439.3 402.2,474.8 402.8,453.3 403.8,455.3 404.3,454.2 405.3,453.4 406.3,452.3 407.3,450.2 408.3,449.2 409.3,447.8 410.3,446.7 411.3,445.3 412.1,445.7 413.3,452.5 414.3,457.5 415.3,456.4 416.3,457.2 417.3,456.7 418.3,457.5 419.3,456.8 420.3,457.6 421.3,456.5 422.5,456.4 423.5,454.8 424.4,456.3 424.7,438.2 425.4,474.4 426.0,453.3 427.0,455.3 427.5,454.1 428.5,452.7 429.5,451.8 430.5,450.4 431.5,449.7 432.5,448.5 433.5,446.5 434.5,445.3 435.3,445.7 436.5,452.5 437.5,457.5 438.5,457.6 439.5,456.8 440.5,456.7 441.5,456.7 442.5,456.6 443.5,457.4 444.5,456.7 445.5,457.3 446.7,456.5 447.7,454.8 448.6,456.3 448.9,438.9 449.6,474.0 450.2,453.3 451.2,455.3 451.7,454.0 452.7,453.1 453.7,451.9 454.7,450.2 455.7,449.2 456.7,448.7 457.7,447.2 458.7,446.3 459.5,445.7 460.7,452.5 461.7,457.5 462.7,456.8 463.7,457.4 464.7,457.1 465.7,457.1 466.7,456.5 467.7,456.6 468.7,456.4 469.7,457.0 470.3,456.1 471.3,454.8 472.2,456.3 472.5,438.0 473.2,473.1 473.8,453.3 474.8,455.3 475.3,454.3 476.3,453.3 477.3,452.0 478.3,450.8 479.3,449.5 480.3,448.1 481.3,446.8 482.3,445.9 483.1,445.7 484.3,452.5 485.3,457.5 486.3,457.3 487.3,457.6 488.3,457.5 489.3,457.1 490.3,457.5 491.3,456.3 492.3,457.4 493.5,455.9 494.5,454.8 495.4,456.3 495.7,439.2 496.4,474.5 497.0,453.3 498.0,455.3 498.5,454.1 499.5,453.0 500.5,452.4 501.5,450.4 502.5,449.7 503.5,448.1 504.5,446.8 505.5,446.1 506.3,445.7 507.5,452.5 508.5,457.5 509.5,456.9 510.5,457.3 511.5,456.6 512.5,457.5 513.5,457.3 514.5,457.0 515.5,457.4 516.5,457.6 517.3,456.6 518.3,454.8 519.2,456.3 519.5,438.2 520.2,474.2 520.8,453.3 521.8,455.3 522.3,454.4 523.3,453.4 524.3,451.8 525.3,450.6 526.3,449.0 527.3,447.9 528.3,447.0 529.3,445.8 530.1,445.7 531.3,452.5 532.3,457.5 533.3,457.3 534.3,456.7 535.3,456.5 536.3,456.6 537.3,456.9 538.3,456.6 539.3,456.5 540.3,456.6 541.3,454.8 542.2,456.3 542.5,439.8 543.2,472.2 543.8,453.3 544.8,455.3 545.3,453.8 546.3,452.9 547.3,452.0 548.3,451.1 549.3,449.5 550.3,448.4 551.3,447.2 552.3,446.2 553.1,445.7 554.3,452.5 555.3,457.5 556.3,457.5 557.3,456.8 558.3,457.5 559.3,456.7 560.3,457.7 561.3,456.9 562.0,456.4 563.0,454.8 563.9,456.3 564.2,439.1 564.9,472.9 565.5,453.3 566.5,455.3 567.0,454.7 568.0,453.6" fill="none" stroke="#a600bc" stroke-width="1" stroke-linejoin="miter" shape-rendering="crispEdges" /><polyline points="410.5,431.0 410.5,480.0" fill="none" stroke="#000" stroke-width="1" stroke-linejoin="miter" shape-rendering="crispEdges" /></g><g clip-path="url(#rc8)"><rect x="96" y="508" width="472" height="2" fill="#00a2a2" shape-rendering="crispEdges"/><path d="M97 509.5H568" stroke="#fff" stroke-width="1" stroke-dasharray="1 8 1 3 1 14 1 5 1 21" shape-rendering="crispEdges"/></g><g clip-path="url(#rc9)"><g shape-rendering="crispEdges" fill="#000"><rect x="96" y="560" width="55" height="1"/><rect x="151" y="559" width="60" height="2"/><rect x="210" y="561" width="316" height="2"/><rect x="524" y="564" width="44" height="1"/></g><path d="M527 563.5H568" stroke="#000" stroke-width="1" stroke-dasharray="2 1.5 3 1 1 2" shape-rendering="crispEdges"/><path d="M98 559.5H150" stroke="#000" stroke-width="1" stroke-dasharray="1 9 1 13 1 4" shape-rendering="crispEdges"/></g><g clip-path="url(#rc10)"><polyline points="96.0,604.5 125.4,604.5 125.4,609.5 147.0,609.5 147.0,611.0 168.0,611.0 168.0,613.0 191.0,613.0 191.0,612.0 214.0,612.0 214.0,614.0 237.5,614.0 237.5,616.0 259.5,616.0 259.5,615.0 283.7,615.0 283.7,617.0 307.0,617.0 307.0,618.4 329.6,618.4 329.6,627.5 352.6,627.5 352.6,633.3 376.6,633.3 376.6,632.7 400.3,632.7 400.3,628.4 424.2,628.4 424.2,632.5 448.4,632.5 448.4,629.6 471.6,629.6 471.6,625.3 495.5,625.3 495.5,629.6 518.8,629.6 518.8,618.4 541.5,618.4 541.5,610.3 563.7,610.3 563.7,625.0 568.0,625.0 568.0,625.0" fill="none" stroke="#dd0000" stroke-width="1" stroke-linejoin="miter" shape-rendering="crispEdges" /></g><g clip-path="url(#rc11)"><polyline points="107.5,644.0 107.5,695.0" fill="none" stroke="#00008b" stroke-width="1" stroke-linejoin="miter" shape-rendering="crispEdges" /><polyline points="150.5,695.0 150.6,695.0 150.6,688.8 171.7,688.8 171.7,680.8 194.0,680.8 194.0,682.0 217.5,682.0 217.5,685.3 240.7,685.3 240.7,680.0 262.0,680.0 262.0,679.0 286.0,679.0 286.0,677.0 309.0,677.0 309.0,678.6 333.0,678.6 333.0,669.3 355.0,669.3 355.0,668.0 380.0,668.0 380.0,670.0 404.0,670.0 404.0,667.0 428.0,667.0 428.0,669.0 452.0,669.0 452.0,672.0 475.0,672.0 475.0,670.0 499.0,670.0 499.0,674.0 521.7,674.0 521.7,675.5 545.3,675.5 545.3,679.2 567.0,679.2 567.0,669.5 568.0,669.5 568.0,669.5" fill="none" stroke="#00008b" stroke-width="1" stroke-linejoin="miter" shape-rendering="crispEdges" /></g><g clip-path="url(#rc12)"><polyline points="96.0,737.4 128.4,737.4 128.4,736.4 150.6,736.4 150.6,735.5 171.3,735.5 171.3,737.4 194.5,737.4 194.5,739.4 217.7,739.4 217.7,740.6 262.3,740.6 262.3,739.0 309.3,739.0 309.3,733.0 332.5,733.0 332.5,729.2 356.3,729.2 356.3,731.5 380.7,731.5 380.7,736.4 427.5,736.4 427.5,739.1 451.6,739.1 451.6,742.4 479.4,742.4 479.4,736.8 498.3,736.8 498.3,743.3 545.2,743.3 545.2,736.8 567.0,736.8 567.0,725.3 568.0,725.3 568.0,725.3" fill="none" stroke="#a600bc" stroke-width="1" stroke-linejoin="miter" shape-rendering="crispEdges" /></g></svg><div style="left:8px;top:105px;width:693px;height:1px;background:rgba(196,196,196,.5);"></div><div style="left:8px;top:106px;width:693px;height:1px;background:#c6c6c6;"></div><div style="left:8px;top:107px;width:693px;height:1px;background:#d3d3d3;"></div><div style="left:8px;top:108px;width:693px;height:1px;background:#c4c4c4;"></div><div style="left:8px;top:159px;width:693px;height:1px;background:#c4c4c4;"></div><div style="left:8px;top:160px;width:693px;height:1px;background:#d3d3d3;"></div><div style="left:8px;top:161px;width:693px;height:1px;background:#c6c6c6;"></div><div style="left:8px;top:162px;width:693px;height:1px;background:rgba(196,196,196,.5);"></div><div style="left:8px;top:212px;width:693px;height:1px;background:rgba(196,196,196,.5);"></div><div style="left:8px;top:213px;width:693px;height:1px;background:#c6c6c6;"></div><div style="left:8px;top:214px;width:693px;height:1px;background:#d3d3d3;"></div><div style="left:8px;top:215px;width:693px;height:1px;background:#c4c4c4;"></div><div style="left:8px;top:266px;width:693px;height:1px;background:#c4c4c4;"></div><div style="left:8px;top:267px;width:693px;height:1px;background:#d3d3d3;"></div><div style="left:8px;top:268px;width:693px;height:1px;background:#c6c6c6;"></div><div style="left:8px;top:269px;width:693px;height:1px;background:rgba(196,196,196,.5);"></div><div style="left:8px;top:319px;width:693px;height:1px;background:rgba(196,196,196,.5);"></div><div style="left:8px;top:320px;width:693px;height:1px;background:#c6c6c6;"></div><div style="left:8px;top:321px;width:693px;height:1px;background:#d3d3d3;"></div><div style="left:8px;top:322px;width:693px;height:1px;background:#c4c4c4;"></div><div style="left:8px;top:373px;width:693px;height:1px;background:#c4c4c4;"></div><div style="left:8px;top:374px;width:693px;height:1px;background:#d3d3d3;"></div><div style="left:8px;top:375px;width:693px;height:1px;background:#c6c6c6;"></div><div style="left:8px;top:376px;width:693px;height:1px;background:rgba(196,196,196,.5);"></div><div style="left:8px;top:426px;width:693px;height:1px;background:rgba(196,196,196,.5);"></div><div style="left:8px;top:427px;width:693px;height:1px;background:#c6c6c6;"></div><div style="left:8px;top:428px;width:693px;height:1px;background:#d3d3d3;"></div><div style="left:8px;top:429px;width:693px;height:1px;background:#c4c4c4;"></div><div style="left:8px;top:480px;width:693px;height:1px;background:#c4c4c4;"></div><div style="left:8px;top:481px;width:693px;height:1px;background:#d3d3d3;"></div><div style="left:8px;top:482px;width:693px;height:1px;background:#c6c6c6;"></div><div style="left:8px;top:483px;width:693px;height:1px;background:rgba(196,196,196,.5);"></div><div style="left:8px;top:533px;width:693px;height:1px;background:rgba(196,196,196,.5);"></div><div style="left:8px;top:534px;width:693px;height:1px;background:#c6c6c6;"></div><div style="left:8px;top:535px;width:693px;height:1px;background:#d3d3d3;"></div><div style="left:8px;top:536px;width:693px;height:1px;background:#c4c4c4;"></div><div style="left:8px;top:587px;width:693px;height:1px;background:#c4c4c4;"></div><div style="left:8px;top:588px;width:693px;height:1px;background:#d3d3d3;"></div><div style="left:8px;top:589px;width:693px;height:1px;background:#c6c6c6;"></div><div style="left:8px;top:590px;width:693px;height:1px;background:rgba(196,196,196,.5);"></div><div style="left:8px;top:640px;width:693px;height:1px;background:rgba(196,196,196,.5);"></div><div style="left:8px;top:641px;width:693px;height:1px;background:#c6c6c6;"></div><div style="left:8px;top:642px;width:693px;height:1px;background:#d3d3d3;"></div><div style="left:8px;top:643px;width:693px;height:1px;background:#c4c4c4;"></div><div style="left:8px;top:694px;width:693px;height:1px;background:#c4c4c4;"></div><div style="left:8px;top:695px;width:693px;height:1px;background:#d3d3d3;"></div><div style="left:8px;top:696px;width:693px;height:1px;background:#c6c6c6;"></div><div style="left:8px;top:697px;width:693px;height:1px;background:rgba(196,196,196,.5);"></div><div style="left:8px;top:748px;width:561px;height:1px;background:#c0c0c0;"></div><div style="left:93px;top:749px;width:1px;height:41px;background:#c4c4c4;"></div><div style="left:96px;top:749px;width:472px;height:20px;background:#fff;border-left:1px solid #c4c4c4;"></div><div style="left:96px;top:769px;width:472px;height:1px;background:#c0c0c0;"></div><div style="left:568px;top:748px;width:1px;height:42px;background:#c4c4c4;"></div><div style="left:117px;top:750px;width:1px;height:3px;background:#000;"></div><div style="left:157px;top:750px;width:1px;height:2px;background:#000;"></div><div style="left:197px;top:750px;width:1px;height:2px;background:#000;"></div><div style="left:237px;top:750px;width:1px;height:2px;background:#000;"></div><div style="left:277px;top:750px;width:1px;height:2px;background:#000;"></div><div style="left:317px;top:750px;width:1px;height:3px;background:#000;"></div><div style="left:357px;top:750px;width:1px;height:2px;background:#000;"></div><div style="left:397px;top:750px;width:1px;height:2px;background:#000;"></div><div style="left:437px;top:750px;width:1px;height:2px;background:#000;"></div><div style="left:477px;top:750px;width:1px;height:2px;background:#000;"></div><div style="left:517px;top:750px;width:1px;height:3px;background:#000;"></div><div style="left:557px;top:750px;width:1px;height:2px;background:#000;"></div><div class="t" style="left:96.50px;top:757.30px;font-size:11px;line-height:14px;color:#000;white-space:pre;">:32:10 a.m.</div><div class="t" style="left:283.00px;top:757.30px;font-size:11px;line-height:14px;color:#000;white-space:pre;letter-spacing:-0.034px;">11:32:15 a.m.</div><div class="t" style="left:483.00px;top:757.30px;font-size:11px;line-height:14px;color:#000;white-space:pre;letter-spacing:-0.034px;">11:32:20 a.m.</div><svg class="a" style="left:46px;top:762px;" width="9" height="15.2" viewBox="0 0 9 15.2"><path d="M0 9V1.2L1.4 0L4.5 4.6L7.6 0L9 1.2V9H6.8V4.2L4.5 7.6L2.2 4.2V9Z" fill="#000"/><path d="M0 10.2H9L4.5 15Z" fill="#000"/></svg><div style="left:96px;top:771px;width:344px;height:19px;background:#f0f0f0;"></div><div style="left:158px;top:772px;width:107px;height:18px;background:#c8c8c8;"></div><svg class="a" style="left:101px;top:775px;" width="7" height="10" viewBox="0 0 7 10"><path d="M5.5 1L1.5 5L5.5 9" fill="none" stroke="#555" stroke-width="2.2"/></svg><svg class="a" style="left:428px;top:775px;" width="7" height="10" viewBox="0 0 7 10"><path d="M1.5 1L5.5 5L1.5 9" fill="none" stroke="#555" stroke-width="2.2"/></svg><div style="left:441px;top:772px;width:32px;height:16px;background:linear-gradient(#f2f2f2,#e4e4e4);border:1px solid #adadad;"></div><div style="left:446.5px;top:776px;width:13px;height:11px;background:#d9e8f8;box-shadow:0 1px 1px rgba(0,0,0,.35);"></div><div style="left:447px;top:777px;width:12px;height:1px;background:repeating-linear-gradient(90deg,#111 0 2px,transparent 2px 3px);"></div><div style="left:447px;top:784.5px;width:12px;height:1px;background:repeating-linear-gradient(90deg,#111 0 2px,transparent 2px 3px);"></div><svg class="a" style="left:447px;top:778.5px;" width="12" height="6" viewBox="0 0 12 6"><path d="M0 3H3.5L4.8 1L6.2 5L7.5 3H12" fill="none" stroke="#2a6fd0" stroke-width="1"/></svg><svg class="a" style="left:461px;top:776px;" width="10" height="10" viewBox="0 0 10 10"><path d="M0 3.7H3V1.2L6.6 5L3 8.8V6.3H0Z" fill="#000"/></svg><div style="left:468px;top:774px;width:1.5px;height:14px;background:#000;"></div><div style="left:477px;top:772px;width:14px;height:16px;background:linear-gradient(#f2f2f2,#e4e4e4);border:1px solid #adadad;"></div><svg class="a" style="left:479px;top:777px;" width="12" height="7" viewBox="0 0 12 7"><path d="M0 6.3L3.5 3.5L4.6 4.2L5.8 1.2L8 4L12 6.3Z" fill="#000"/></svg><div style="left:495px;top:772px;width:52px;height:16px;background:linear-gradient(#f2f2f2,#e4e4e4);border:1px solid #adadad;"></div><div class="t" style="left:511.30px;top:773.50px;font-size:11px;line-height:14px;color:#000;white-space:pre;">10:1</div><div style="left:551px;top:772px;width:14px;height:16px;background:linear-gradient(#f2f2f2,#e4e4e4);border:1px solid #adadad;"></div><svg class="a" style="left:553px;top:775px;" width="12" height="11" viewBox="0 0 12 11"><path d="M0 11L5 1L7.5 6L9 4.5L12 11Z" fill="#000"/></svg><div style="left:573px;top:750px;width:34px;height:36px;background:#d3e6f8;border:1px solid #4f9de6;"></div><svg class="a" style="left:576px;top:754px;" width="30" height="30" viewBox="0 0 30 30"><rect x="1" y="0.5" width="19" height="6" fill="#d8d8d8" stroke="#8a8a8a" stroke-width="1"/><path d="M4 3.5H17" stroke="#555" stroke-width="1" stroke-dasharray="1 1"/><rect x="5" y="10" width="24" height="19" fill="#fff" stroke="#9aa" stroke-width="1"/><path d="M5 13H29M5 26H29" stroke="#222" stroke-width="1.2" stroke-dasharray="2 1.5"/><path d="M6 20H13L15 16L17.5 24L19.5 20H28" fill="none" stroke="#208a80" stroke-width="1.2"/><path d="M12 6C18 6 22 6 23 10" fill="none" stroke="#c8c8c8" stroke-width="3"/><path d="M19 9H27L23 13Z" fill="#e8e8e8" stroke="#aaa" stroke-width=".6"/></svg><div style="left:611px;top:750px;width:75px;height:35px;background:linear-gradient(#f3f3f3,#e6e6e6);border:1px solid #adadad;"></div><svg class="a" style="left:620px;top:762px;" width="9" height="14" viewBox="0 0 9 14"><path d="M0.5 0.6L8.3 7L0.5 13.4Z" fill="#6cc644" stroke="#8a86a4" stroke-width=".9"/></svg><div class="t" style="left:643.30px;top:760.80px;font-size:13px;line-height:17px;color:#000;white-space:pre;letter-spacing:0.030px;">Start</div><svg class="a" style="left:689px;top:778px;" width="12" height="12" viewBox="0 0 12 12"><path d="M11 1L1 11M11 5L5 11M11 9L9 11" stroke="#b0b0b0" stroke-width="1.3"/><path d="M12 2L2 12M12 6L6 12M12 10L10 12" stroke="#fff" stroke-width="1"/></svg><div style="left:333px;top:541px;width:190px;height:81px;background:#8ec7f9;border:1px solid #6aa3d8;box-shadow:0 1px 6px rgba(0,0,0,.18);"></div><div style="left:340px;top:571px;width:176px;height:44px;background:#f0f0f0;border:1px solid #7ab4ea;box-shadow:inset 0 0 0 1px #f8f8f8;"></div><div style="left:497px;top:547px;width:19px;height:19px;background:#c75050;"></div><svg class="a" style="left:503px;top:553px;" width="8" height="8" viewBox="0 0 8 8"><path d="M1.6 1.8L6.4 6.6M6.4 1.8L1.6 6.6" stroke="#fff" stroke-width="1.6"/></svg><div class="t" style="left:376.00px;top:547.00px;font-size:15px;line-height:20px;color:#1a2a40;white-space:pre;letter-spacing:-0.205px;">Chart View - HR</div><div style="left:344px;top:573px;width:18px;height:14px;background:#ededed;border:1px solid #a2a2a2;box-shadow:inset 0 0 0 1px #f6f6f6;"></div><svg class="a" style="left:344px;top:573px;" width="20" height="16" viewBox="0 0 20 16"><rect x="4" y="3" width="1" height="10.5" fill="#555"/><rect x="12" y="3" width="1" height="10.5" fill="#555"/><rect x="2" y="8.3" width="4.8" height="3.5" fill="#7e7e7e"/><rect x="3" y="9.1" width="2.8" height="1.3" fill="#f4f4f4"/><rect x="10" y="4.1" width="4.8" height="3.5" fill="#7e7e7e"/><rect x="11" y="4.9" width="2.8" height="1.3" fill="#f4f4f4"/><circle cx="8.4" cy="3.5" r="0.6" fill="#444"/><circle cx="8.4" cy="6.5" r="0.6" fill="#444"/><circle cx="8.4" cy="9.5" r="0.6" fill="#444"/><circle cx="8.4" cy="12.5" r="0.6" fill="#444"/><circle cx="16.5" cy="3.5" r="0.6" fill="#444"/><circle cx="16.5" cy="6.5" r="0.6" fill="#444"/><circle cx="16.5" cy="9.5" r="0.6" fill="#444"/><circle cx="16.5" cy="12.5" r="0.6" fill="#444"/></svg><div class="t" style="left:369.50px;top:579.20px;font-size:21.3px;line-height:28px;color:#dd0000;white-space:pre;letter-spacing:0.128px;">106.14 BPM</div><div style="left:137px;top:598px;width:184px;height:83px;background:#8ec7f9;border:1px solid #6aa3d8;box-shadow:0 1px 6px rgba(0,0,0,.18);"></div><div style="left:144px;top:628px;width:170px;height:46px;background:#f0f0f0;border:1px solid #7ab4ea;box-shadow:inset 0 0 0 1px #f8f8f8;"></div><div style="left:295px;top:604px;width:19px;height:19px;background:#c75050;"></div><svg class="a" style="left:301px;top:610px;" width="8" height="8" viewBox="0 0 8 8"><path d="M1.6 1.8L6.4 6.6M6.4 1.8L1.6 6.6" stroke="#fff" stroke-width="1.6"/></svg><div class="t" style="left:147.00px;top:604.00px;font-size:15px;line-height:20px;color:#1a2a40;white-space:pre;letter-spacing:-0.296px;">Chart View - Systolic...</div><div style="left:148px;top:630px;width:18px;height:14px;background:#ededed;border:1px solid #a2a2a2;box-shadow:inset 0 0 0 1px #f6f6f6;"></div><svg class="a" style="left:148px;top:630px;" width="20" height="16" viewBox="0 0 20 16"><rect x="4" y="3" width="1" height="10.5" fill="#555"/><rect x="12" y="3" width="1" height="10.5" fill="#555"/><rect x="2" y="8.3" width="4.8" height="3.5" fill="#7e7e7e"/><rect x="3" y="9.1" width="2.8" height="1.3" fill="#f4f4f4"/><rect x="10" y="4.1" width="4.8" height="3.5" fill="#7e7e7e"/><rect x="11" y="4.9" width="2.8" height="1.3" fill="#f4f4f4"/><circle cx="8.4" cy="3.5" r="0.6" fill="#444"/><circle cx="8.4" cy="6.5" r="0.6" fill="#444"/><circle cx="8.4" cy="9.5" r="0.6" fill="#444"/><circle cx="8.4" cy="12.5" r="0.6" fill="#444"/><circle cx="16.5" cy="3.5" r="0.6" fill="#444"/><circle cx="16.5" cy="6.5" r="0.6" fill="#444"/><circle cx="16.5" cy="9.5" r="0.6" fill="#444"/><circle cx="16.5" cy="12.5" r="0.6" fill="#444"/></svg><div class="t" style="left:179.50px;top:639.70px;font-size:17.4px;line-height:23px;color:#0a0a96;white-space:pre;letter-spacing:0.040px;">89.45 mmHg</div><div style="left:354px;top:648px;width:188px;height:79px;background:#8ec7f9;border:1px solid #6aa3d8;box-shadow:0 1px 6px rgba(0,0,0,.18);"></div><div style="left:361px;top:678px;width:174px;height:42px;background:#f0f0f0;border:1px solid #7ab4ea;box-shadow:inset 0 0 0 1px #f8f8f8;"></div><div style="left:516px;top:654px;width:19px;height:19px;background:#c75050;"></div><svg class="a" style="left:522px;top:660px;" width="8" height="8" viewBox="0 0 8 8"><path d="M1.6 1.8L6.4 6.6M6.4 1.8L1.6 6.6" stroke="#fff" stroke-width="1.6"/></svg><div class="t" style="left:364.00px;top:654.00px;font-size:15px;line-height:20px;color:#1a2a40;white-space:pre;letter-spacing:-0.129px;">Chart View - Diastoli...</div><div style="left:365px;top:680px;width:18px;height:14px;background:#ededed;border:1px solid #a2a2a2;box-shadow:inset 0 0 0 1px #f6f6f6;"></div><svg class="a" style="left:365px;top:680px;" width="20" height="16" viewBox="0 0 20 16"><rect x="4" y="3" width="1" height="10.5" fill="#555"/><rect x="12" y="3" width="1" height="10.5" fill="#555"/><rect x="2" y="8.3" width="4.8" height="3.5" fill="#7e7e7e"/><rect x="3" y="9.1" width="2.8" height="1.3" fill="#f4f4f4"/><rect x="10" y="4.1" width="4.8" height="3.5" fill="#7e7e7e"/><rect x="11" y="4.9" width="2.8" height="1.3" fill="#f4f4f4"/><circle cx="8.4" cy="3.5" r="0.6" fill="#444"/><circle cx="8.4" cy="6.5" r="0.6" fill="#444"/><circle cx="8.4" cy="9.5" r="0.6" fill="#444"/><circle cx="8.4" cy="12.5" r="0.6" fill="#444"/><circle cx="16.5" cy="3.5" r="0.6" fill="#444"/><circle cx="16.5" cy="6.5" r="0.6" fill="#444"/><circle cx="16.5" cy="9.5" r="0.6" fill="#444"/><circle cx="16.5" cy="12.5" r="0.6" fill="#444"/></svg><div class="t" style="left:390.00px;top:686.20px;font-size:20.2px;line-height:26px;color:#b000c8;white-space:pre;letter-spacing:0.087px;">68.68 mmHg</div><div style="left:710px;top:1px;width:685px;height:262px;border:1px solid #4a4a4a;border-radius:7px 7px 1px 1px;background:#d7e4f2;box-shadow:inset 0 0 0 1px rgba(255,255,255,.75);"></div><div style="left:712px;top:3px;width:683px;height:29px;background:linear-gradient(#bdccdc,#d7e4f2);border-radius:5px 5px 0 0;"></div><svg class="a" style="left:722px;top:12px;" width="12" height="16" viewBox="0 0 12 16"><defs><linearGradient id="ig2" x1="0" y1="0" x2="0" y2="1"><stop offset="0" stop-color="#0f66b4"/><stop offset=".5" stop-color="#0c4a90"/><stop offset="1" stop-color="#133a74"/></linearGradient></defs><path d="M0 0H8.6L12 3.4V16H0Z" fill="url(#ig2)"/><path d="M8.6 0V3.4H12Z" fill="#e9eef4"/><path d="M0.2 7.7C1.4 7.5 2.1 6.2 2.8 7.6C3.5 9.6 4 14.2 4.7 14.2C5.5 14.2 5.8 1.6 6.5 1.6C7.2 1.6 7.5 9.6 8.3 9.6C9.1 9.6 9.6 7.6 11.8 7.6" fill="none" stroke="#fff" stroke-width="1.15" stroke-linejoin="round"/></svg><div class="t" style="left:853.55px;top:10.80px;font-size:15px;line-height:20px;color:#000;white-space:pre;letter-spacing:-0.264px;">Neonate Sleep Studies: ECG Analysis Table View</div><div style="left:1287px;top:11px;width:30px;height:16px;background:linear-gradient(rgba(255,255,255,.35),rgba(255,255,255,.12) 45%,rgba(160,185,215,.25) 50%,rgba(255,255,255,.2));border:1px solid #8d9fbc;border-radius:3px;box-shadow:inset 0 0 0 1px rgba(255,255,255,.45);"></div><div style="left:1297px;top:19px;width:10px;height:3px;background:#f4f4f4;border:1px solid #54596b;border-radius:1px;"></div><div style="left:1321px;top:11px;width:30px;height:16px;background:linear-gradient(rgba(255,255,255,.35),rgba(255,255,255,.12) 45%,rgba(160,185,215,.25) 50%,rgba(255,255,255,.2));border:1px solid #8d9fbc;border-radius:3px;box-shadow:inset 0 0 0 1px rgba(255,255,255,.45);"></div><div style="left:1332px;top:15px;width:9px;height:7px;background:#f4f4f4;border:1px solid #54596b;border-radius:1px;"></div><div style="left:1335px;top:18px;width:3px;height:1px;background:#dfe6f0;border:1px solid #54596b;"></div><div style="left:1355px;top:11px;width:30px;height:16px;background:linear-gradient(rgba(255,255,255,.35),rgba(255,255,255,.12) 45%,rgba(160,185,215,.25) 50%,rgba(255,255,255,.2));border:1px solid #8d9fbc;border-radius:3px;box-shadow:inset 0 0 0 1px rgba(255,255,255,.45);"></div><svg class="a" style="left:1365px;top:15px;" width="12" height="10" viewBox="0 0 12 10"><path d="M3 2.4L9 7.6M9 2.4L3 7.6" stroke="#454b5c" stroke-width="3.6" stroke-linecap="square"/><path d="M3 2.4L9 7.6M9 2.4L3 7.6" stroke="#f4f4f4" stroke-width="1.9" stroke-linecap="square"/></svg><div style="left:718px;top:32px;width:671px;height:225px;background:#f0f0f0;"></div><div style="left:779px;top:49px;width:593px;height:69px;background:#fff;"></div><div style="left:779px;top:135px;width:610px;height:65px;background:#fff;"></div><div style="left:718px;top:32px;width:671px;height:1px;background:#a6a6a6;"></div><div style="left:718px;top:33px;width:61px;height:16px;background:#f0f0f0;border-right:1px solid #a0a0a0;border-bottom:1px solid #a0a0a0;border-top:1px solid #fff;border-left:1px solid #fff;box-sizing:border-box;overflow:hidden;"></div><div style="left:779px;top:33px;width:593px;height:16px;overflow:hidden;background:#f0f0f0;"><div style="left:0px;top:0px;width:91px;height:16px;background:#f0f0f0;border-right:1px solid #a0a0a0;border-bottom:1px solid #a0a0a0;border-top:1px solid #fff;border-left:1px solid #fff;box-sizing:border-box;overflow:hidden;"><div class="t" style="left:21.85px;top:-0.20px;font-size:11px;line-height:14px;color:#000;white-space:pre;letter-spacing:-0.246px;">TimeDate</div></div><div style="left:91px;top:0px;width:91px;height:16px;background:#f0f0f0;border-right:1px solid #a0a0a0;border-bottom:1px solid #a0a0a0;border-top:1px solid #fff;border-left:1px solid #fff;box-sizing:border-box;overflow:hidden;"><div class="t" style="left:9.05px;top:-0.20px;font-size:11px;line-height:14px;color:#000;white-space:pre;">RR Interval (s)</div></div><div style="left:182px;top:0px;width:91px;height:16px;background:#f0f0f0;border-right:1px solid #a0a0a0;border-bottom:1px solid #a0a0a0;border-top:1px solid #fff;border-left:1px solid #fff;box-sizing:border-box;overflow:hidden;"><div class="t" style="left:2.20px;top:-0.20px;font-size:11px;line-height:14px;color:#000;white-space:pre;letter-spacing:-0.175px;">Heart Rate (BPM)</div></div><div style="left:273px;top:0px;width:91px;height:16px;background:#f0f0f0;border-right:1px solid #a0a0a0;border-bottom:1px solid #a0a0a0;border-top:1px solid #fff;border-left:1px solid #fff;box-sizing:border-box;overflow:hidden;"><div class="t" style="left:6.10px;top:-0.20px;font-size:11px;line-height:14px;color:#000;white-space:pre;letter-spacing:-0.128px;">QRS Interval (s)</div></div><div style="left:364px;top:0px;width:91px;height:16px;background:#f0f0f0;border-right:1px solid #a0a0a0;border-bottom:1px solid #a0a0a0;border-top:1px solid #fff;border-left:1px solid #fff;box-sizing:border-box;overflow:hidden;"><div class="t" style="left:9.46px;top:-0.20px;font-size:11px;line-height:14px;color:#000;white-space:pre;">QT Interval (s)</div></div><div style="left:455px;top:0px;width:91px;height:16px;background:#f0f0f0;border-right:1px solid #a0a0a0;border-bottom:1px solid #a0a0a0;border-top:1px solid #fff;border-left:1px solid #fff;box-sizing:border-box;overflow:hidden;"><div class="t" style="left:26.78px;top:-0.20px;font-size:11px;line-height:14px;color:#000;white-space:pre;">QTc (s)</div></div><div style="left:546px;top:0px;width:72px;height:16px;background:#f0f0f0;border-right:1px solid #a0a0a0;border-bottom:1px solid #a0a0a0;border-top:1px solid #fff;border-left:1px solid #fff;box-sizing:border-box;overflow:hidden;"><div class="t" style="left:9.43px;top:-0.20px;font-size:11px;line-height:14px;color:#000;white-space:pre;">JT Interval</div></div></div><div style="left:718px;top:49px;width:61px;height:16px;background:#f0f0f0;border-right:1px solid #a0a0a0;border-bottom:1px solid #a0a0a0;border-top:1px solid #fff;border-left:1px solid #fff;box-sizing:border-box;overflow:hidden;"><div class="t" style="left:26.44px;top:-0.20px;font-size:11px;line-height:14px;color:#000;white-space:pre;">3</div></div><div style="left:779px;top:49px;width:593px;height:16px;overflow:hidden;"><div class="t" style="left:0.40px;top:0.30px;font-size:11px;line-height:14px;color:#000;white-space:pre;letter-spacing:0.114px;">15/10/2003 11:32:</div><div class="t" style="left:91.40px;top:0.30px;font-size:11px;line-height:14px;color:#000;white-space:pre;">0.5765</div><div class="t" style="left:182.40px;top:0.30px;font-size:11px;line-height:14px;color:#000;white-space:pre;">104.1</div><div class="t" style="left:273.40px;top:0.30px;font-size:11px;line-height:14px;color:#000;white-space:pre;">0.06250</div><div class="t" style="left:364.40px;top:0.30px;font-size:11px;line-height:14px;color:#000;white-space:pre;">0.3030</div><div class="t" style="left:455.40px;top:0.30px;font-size:11px;line-height:14px;color:#000;white-space:pre;">0.3991</div><div class="t" style="left:546.40px;top:0.30px;font-size:11px;line-height:14px;color:#000;white-space:pre;">0.2405</div><div style="left:0px;top:15px;width:700px;height:1px;background:#dcdcdc;"></div></div><div style="left:718px;top:65px;width:61px;height:16px;background:#f0f0f0;border-right:1px solid #a0a0a0;border-bottom:1px solid #a0a0a0;border-top:1px solid #fff;border-left:1px solid #fff;box-sizing:border-box;overflow:hidden;"><div class="t" style="left:26.44px;top:-0.20px;font-size:11px;line-height:14px;color:#000;white-space:pre;">4</div></div><div style="left:779px;top:65px;width:593px;height:16px;overflow:hidden;"><div class="t" style="left:0.40px;top:0.30px;font-size:11px;line-height:14px;color:#000;white-space:pre;letter-spacing:0.114px;">15/10/2003 11:32:</div><div class="t" style="left:91.40px;top:0.30px;font-size:11px;line-height:14px;color:#000;white-space:pre;">0.5713</div><div class="t" style="left:182.40px;top:0.30px;font-size:11px;line-height:14px;color:#000;white-space:pre;">105.0</div><div class="t" style="left:273.40px;top:0.30px;font-size:11px;line-height:14px;color:#000;white-space:pre;">0.06250</div><div class="t" style="left:364.40px;top:0.30px;font-size:11px;line-height:14px;color:#000;white-space:pre;">0.3041</div><div class="t" style="left:455.40px;top:0.30px;font-size:11px;line-height:14px;color:#000;white-space:pre;">0.4023</div><div class="t" style="left:546.40px;top:0.30px;font-size:11px;line-height:14px;color:#000;white-space:pre;">0.2416</div><div style="left:0px;top:15px;width:700px;height:1px;background:#dcdcdc;"></div></div><div style="left:718px;top:81px;width:61px;height:16px;background:#f0f0f0;border-right:1px solid #a0a0a0;border-bottom:1px solid #a0a0a0;border-top:1px solid #fff;border-left:1px solid #fff;box-sizing:border-box;overflow:hidden;"><div class="t" style="left:26.44px;top:-0.20px;font-size:11px;line-height:14px;color:#000;white-space:pre;">5</div></div><div style="left:779px;top:81px;width:593px;height:16px;overflow:hidden;"><div class="t" style="left:0.40px;top:0.30px;font-size:11px;line-height:14px;color:#000;white-space:pre;letter-spacing:0.114px;">15/10/2003 11:32:</div><div class="t" style="left:91.40px;top:0.30px;font-size:11px;line-height:14px;color:#000;white-space:pre;">0.5635</div><div class="t" style="left:182.40px;top:0.30px;font-size:11px;line-height:14px;color:#000;white-space:pre;">106.5</div><div class="t" style="left:273.40px;top:0.30px;font-size:11px;line-height:14px;color:#000;white-space:pre;">0.06250</div><div class="t" style="left:364.40px;top:0.30px;font-size:11px;line-height:14px;color:#000;white-space:pre;">0.3037</div><div class="t" style="left:455.40px;top:0.30px;font-size:11px;line-height:14px;color:#000;white-space:pre;">0.4046</div><div class="t" style="left:546.40px;top:0.30px;font-size:11px;line-height:14px;color:#000;white-space:pre;">0.2412</div><div style="left:0px;top:15px;width:700px;height:1px;background:#dcdcdc;"></div></div><div style="left:718px;top:97px;width:61px;height:16px;background:#f0f0f0;border-right:1px solid #a0a0a0;border-bottom:1px solid #a0a0a0;border-top:1px solid #fff;border-left:1px solid #fff;box-sizing:border-box;overflow:hidden;"><div class="t" style="left:26.44px;top:-0.20px;font-size:11px;line-height:14px;color:#000;white-space:pre;">6</div></div><div style="left:779px;top:97px;width:593px;height:16px;overflow:hidden;"><div class="t" style="left:0.40px;top:0.30px;font-size:11px;line-height:14px;color:#000;white-space:pre;letter-spacing:0.114px;">15/10/2003 11:32:</div><div class="t" style="left:91.40px;top:0.30px;font-size:11px;line-height:14px;color:#000;white-space:pre;">0.5597</div><div class="t" style="left:182.40px;top:0.30px;font-size:11px;line-height:14px;color:#000;white-space:pre;">107.2</div><div style="left:0px;top:15px;width:700px;height:1px;background:#dcdcdc;"></div></div><div style="left:869px;top:49px;width:1px;height:69px;background:#dcdcdc;"></div><div style="left:960px;top:49px;width:1px;height:69px;background:#dcdcdc;"></div><div style="left:1051px;top:49px;width:1px;height:69px;background:#dcdcdc;"></div><div style="left:1142px;top:49px;width:1px;height:69px;background:#dcdcdc;"></div><div style="left:1233px;top:49px;width:1px;height:69px;background:#dcdcdc;"></div><div style="left:1324px;top:49px;width:1px;height:69px;background:#dcdcdc;"></div><div style="left:718px;top:113px;width:61px;height:5px;background:#f0f0f0;border-right:1px solid #a0a0a0;border-bottom:1px solid #a0a0a0;border-top:1px solid #fff;border-left:1px solid #fff;box-sizing:border-box;overflow:hidden;"></div><div style="left:1372px;top:48px;width:17px;height:70px;background:#f0f0f0;"></div><div style="left:1373px;top:78px;width:15px;height:25px;background:#c8c8c8;"></div><svg class="a" style="left:1376.5px;top:55px;" width="8" height="6" viewBox="0 0 8 6"><path d="M0.8 5.2L4 1.8L7.2 5.2" fill="none" stroke="#555" stroke-width="2"/></svg><svg class="a" style="left:1376.5px;top:108px;" width="8" height="6" viewBox="0 0 8 6"><path d="M0.8 0.8L4 4.2L7.2 0.8" fill="none" stroke="#555" stroke-width="2"/></svg><div style="left:1372px;top:33px;width:17px;height:16px;background:#f0f0f0;border-right:1px solid #a0a0a0;border-bottom:1px solid #a0a0a0;box-sizing:border-box;"></div><div style="left:718px;top:118px;width:671px;height:1px;background:#a6a6a6;"></div><div style="left:718px;top:119px;width:61px;height:16px;background:#f0f0f0;border-right:1px solid #a0a0a0;border-bottom:1px solid #a0a0a0;border-top:1px solid #fff;border-left:1px solid #fff;box-sizing:border-box;overflow:hidden;"></div><div style="left:779px;top:119px;width:610px;height:16px;overflow:hidden;background:#f0f0f0;"><div style="left:0px;top:0px;width:91px;height:16px;background:#f0f0f0;border-right:1px solid #a0a0a0;border-bottom:1px solid #a0a0a0;border-top:1px solid #fff;border-left:1px solid #fff;box-sizing:border-box;overflow:hidden;"><div class="t" style="left:21.85px;top:-0.20px;font-size:11px;line-height:14px;color:#000;white-space:pre;letter-spacing:-0.246px;">TimeDate</div></div><div style="left:91px;top:0px;width:91px;height:16px;background:#f0f0f0;border-right:1px solid #a0a0a0;border-bottom:1px solid #a0a0a0;border-top:1px solid #fff;border-left:1px solid #fff;box-sizing:border-box;overflow:hidden;"><div class="t" style="left:9.05px;top:-0.20px;font-size:11px;line-height:14px;color:#000;white-space:pre;">RR Interval (s)</div></div><div style="left:182px;top:0px;width:91px;height:16px;background:#f0f0f0;border-right:1px solid #a0a0a0;border-bottom:1px solid #a0a0a0;border-top:1px solid #fff;border-left:1px solid #fff;box-sizing:border-box;overflow:hidden;"><div class="t" style="left:2.20px;top:-0.20px;font-size:11px;line-height:14px;color:#000;white-space:pre;letter-spacing:-0.175px;">Heart Rate (BPM)</div></div><div style="left:273px;top:0px;width:91px;height:16px;background:#f0f0f0;border-right:1px solid #a0a0a0;border-bottom:1px solid #a0a0a0;border-top:1px solid #fff;border-left:1px solid #fff;box-sizing:border-box;overflow:hidden;"><div class="t" style="left:6.10px;top:-0.20px;font-size:11px;line-height:14px;color:#000;white-space:pre;letter-spacing:-0.128px;">QRS Interval (s)</div></div><div style="left:364px;top:0px;width:91px;height:16px;background:#f0f0f0;border-right:1px solid #a0a0a0;border-bottom:1px solid #a0a0a0;border-top:1px solid #fff;border-left:1px solid #fff;box-sizing:border-box;overflow:hidden;"><div class="t" style="left:9.46px;top:-0.20px;font-size:11px;line-height:14px;color:#000;white-space:pre;">QT Interval (s)</div></div><div style="left:455px;top:0px;width:91px;height:16px;background:#f0f0f0;border-right:1px solid #a0a0a0;border-bottom:1px solid #a0a0a0;border-top:1px solid #fff;border-left:1px solid #fff;box-sizing:border-box;overflow:hidden;"><div class="t" style="left:26.78px;top:-0.20px;font-size:11px;line-height:14px;color:#000;white-space:pre;">QTc (s)</div></div><div style="left:546px;top:0px;width:72px;height:16px;background:#f0f0f0;border-right:1px solid #a0a0a0;border-bottom:1px solid #a0a0a0;border-top:1px solid #fff;border-left:1px solid #fff;box-sizing:border-box;overflow:hidden;"><div class="t" style="left:9.43px;top:-0.20px;font-size:11px;line-height:14px;color:#000;white-space:pre;">JT Interval</div></div></div><div style="left:718px;top:135px;width:61px;height:16px;background:#f0f0f0;border-right:1px solid #a0a0a0;border-bottom:1px solid #a0a0a0;border-top:1px solid #fff;border-left:1px solid #fff;box-sizing:border-box;overflow:hidden;"><div class="t" style="left:20.12px;top:-0.20px;font-size:11px;line-height:14px;color:#000;white-space:pre;">Avg</div></div><div style="left:779px;top:135px;width:610px;height:16px;overflow:hidden;"><div class="t" style="left:91.40px;top:0.30px;font-size:11px;line-height:14px;color:#000;white-space:pre;">0.5644</div><div class="t" style="left:182.40px;top:0.30px;font-size:11px;line-height:14px;color:#000;white-space:pre;">106.4</div><div class="t" style="left:273.40px;top:0.30px;font-size:11px;line-height:14px;color:#000;white-space:pre;">0.06250</div><div class="t" style="left:364.40px;top:0.30px;font-size:11px;line-height:14px;color:#000;white-space:pre;">0.3030</div><div class="t" style="left:455.40px;top:0.30px;font-size:11px;line-height:14px;color:#000;white-space:pre;">0.4031</div><div class="t" style="left:546.40px;top:0.30px;font-size:11px;line-height:14px;color:#000;white-space:pre;">0.2405</div><div style="left:0px;top:15px;width:700px;height:1px;background:#dcdcdc;"></div></div><div style="left:718px;top:151px;width:61px;height:16px;background:#f0f0f0;border-right:1px solid #a0a0a0;border-bottom:1px solid #a0a0a0;border-top:1px solid #fff;border-left:1px solid #fff;box-sizing:border-box;overflow:hidden;"><div class="t" style="left:20.64px;top:-0.20px;font-size:11px;line-height:14px;color:#000;white-space:pre;">Min</div></div><div style="left:779px;top:151px;width:610px;height:16px;overflow:hidden;"><div class="t" style="left:91.40px;top:0.30px;font-size:11px;line-height:14px;color:#000;white-space:pre;">0.5408</div><div class="t" style="left:182.40px;top:0.30px;font-size:11px;line-height:14px;color:#000;white-space:pre;">104.1</div><div class="t" style="left:273.40px;top:0.30px;font-size:11px;line-height:14px;color:#000;white-space:pre;">0.06250</div><div class="t" style="left:364.40px;top:0.30px;font-size:11px;line-height:14px;color:#000;white-space:pre;">0.3011</div><div class="t" style="left:455.40px;top:0.30px;font-size:11px;line-height:14px;color:#000;white-space:pre;">0.3991</div><div class="t" style="left:546.40px;top:0.30px;font-size:11px;line-height:14px;color:#000;white-space:pre;">0.2386</div><div style="left:0px;top:15px;width:700px;height:1px;background:#dcdcdc;"></div></div><div style="left:718px;top:167px;width:61px;height:16px;background:#f0f0f0;border-right:1px solid #a0a0a0;border-bottom:1px solid #a0a0a0;border-top:1px solid #fff;border-left:1px solid #fff;box-sizing:border-box;overflow:hidden;"><div class="t" style="left:19.11px;top:-0.20px;font-size:11px;line-height:14px;color:#000;white-space:pre;">Max</div></div><div style="left:779px;top:167px;width:610px;height:16px;overflow:hidden;"><div class="t" style="left:91.40px;top:0.30px;font-size:11px;line-height:14px;color:#000;white-space:pre;">0.5765</div><div class="t" style="left:182.40px;top:0.30px;font-size:11px;line-height:14px;color:#000;white-space:pre;">111.0</div><div class="t" style="left:273.40px;top:0.30px;font-size:11px;line-height:14px;color:#000;white-space:pre;">0.06250</div><div class="t" style="left:364.40px;top:0.30px;font-size:11px;line-height:14px;color:#000;white-space:pre;">0.3041</div><div class="t" style="left:455.40px;top:0.30px;font-size:11px;line-height:14px;color:#000;white-space:pre;">0.4095</div><div class="t" style="left:546.40px;top:0.30px;font-size:11px;line-height:14px;color:#000;white-space:pre;">0.2416</div><div style="left:0px;top:15px;width:700px;height:1px;background:#dcdcdc;"></div></div><div style="left:718px;top:183px;width:61px;height:16px;background:#f0f0f0;border-right:1px solid #a0a0a0;border-bottom:1px solid #a0a0a0;border-top:1px solid #fff;border-left:1px solid #fff;box-sizing:border-box;overflow:hidden;"><div class="t" style="left:14.82px;top:-0.20px;font-size:11px;line-height:14px;color:#000;white-space:pre;">Count</div></div><div style="left:779px;top:183px;width:610px;height:16px;overflow:hidden;"><div class="t" style="left:0.40px;top:0.30px;font-size:11px;line-height:14px;color:#000;white-space:pre;">6</div><div class="t" style="left:91.40px;top:0.30px;font-size:11px;line-height:14px;color:#000;white-space:pre;">6</div><div class="t" style="left:182.40px;top:0.30px;font-size:11px;line-height:14px;color:#000;white-space:pre;">6</div><div class="t" style="left:273.40px;top:0.30px;font-size:11px;line-height:14px;color:#000;white-space:pre;">5</div><div class="t" style="left:364.40px;top:0.30px;font-size:11px;line-height:14px;color:#000;white-space:pre;">5</div><div class="t" style="left:455.40px;top:0.30px;font-size:11px;line-height:14px;color:#000;white-space:pre;">5</div><div class="t" style="left:546.40px;top:0.30px;font-size:11px;line-height:14px;color:#000;white-space:pre;">5</div><div style="left:0px;top:15px;width:700px;height:1px;background:#dcdcdc;"></div></div><div style="left:869px;top:135px;width:1px;height:65px;background:#dcdcdc;"></div><div style="left:960px;top:135px;width:1px;height:65px;background:#dcdcdc;"></div><div style="left:1051px;top:135px;width:1px;height:65px;background:#dcdcdc;"></div><div style="left:1142px;top:135px;width:1px;height:65px;background:#dcdcdc;"></div><div style="left:1233px;top:135px;width:1px;height:65px;background:#dcdcdc;"></div><div style="left:1324px;top:135px;width:1px;height:65px;background:#dcdcdc;"></div><div style="left:718px;top:199px;width:671px;height:1px;background:#a0a0a0;"></div><div style="left:718px;top:200px;width:61px;height:18px;background:#f0f0f0;border-right:1px solid #a0a0a0;border-bottom:1px solid #a0a0a0;border-top:1px solid #fff;border-left:1px solid #fff;box-sizing:border-box;overflow:hidden;"></div><div style="left:779px;top:200px;width:610px;height:18px;background:#f0f0f0;"></div><div style="left:796px;top:202px;width:192px;height:15px;background:#c8c8c8;"></div><svg class="a" style="left:783px;top:204px;" width="7" height="10" viewBox="0 0 7 10"><path d="M5.5 1L1.5 5L5.5 9" fill="none" stroke="#555" stroke-width="2.2"/></svg><svg class="a" style="left:1378px;top:204px;" width="7" height="10" viewBox="0 0 7 10"><path d="M1.5 1L5.5 5L1.5 9" fill="none" stroke="#555" stroke-width="2.2"/></svg><div style="left:727px;top:227px;width:26px;height:19px;background:linear-gradient(#f2f2f2,#e5e5e5);border:1px solid #adadad;box-shadow:0 0 0 1px #fff;"><div class="t" style="left:13.00px;top:2.30px;font-size:11px;line-height:14px;color:#000;white-space:pre;"></div></div><svg class="a" style="left:732.5px;top:229.5px;" width="16" height="16" viewBox="0 0 16 16"><defs><radialGradient id="hg" cx=".4" cy=".3" r=".8"><stop offset="0" stop-color="#7a9cf0"/><stop offset=".5" stop-color="#2146c0"/><stop offset="1" stop-color="#102a8c"/></radialGradient></defs><circle cx="8" cy="8" r="7.3" fill="#dcdcdc" stroke="#9a9a9a" stroke-width=".8"/><circle cx="8" cy="8" r="6" fill="url(#hg)"/><text x="8" y="12" font-family="Liberation Sans" font-weight="bold" font-size="11" fill="#fff" text-anchor="middle">?</text></svg><div style="left:763px;top:227px;width:71px;height:19px;background:linear-gradient(#f2f2f2,#e5e5e5);border:1px solid #adadad;"><div class="t" style="left:13.85px;top:2.30px;font-size:11px;line-height:14px;color:#000;white-space:pre;letter-spacing:0.260px;">Export...</div></div><div style="left:844px;top:227px;width:71px;height:19px;background:linear-gradient(#f2f2f2,#e5e5e5);border:1px solid #adadad;"><div class="t" style="left:11.10px;top:2.30px;font-size:11px;line-height:14px;color:#000;white-space:pre;letter-spacing:0.173px;">Options...</div></div><div style="left:925px;top:227px;width:108px;height:19px;background:linear-gradient(#f2f2f2,#e5e5e5);border:1px solid #adadad;"><div class="t" style="left:14.70px;top:2.30px;font-size:11px;line-height:14px;color:#000;white-space:pre;letter-spacing:-0.141px;">Add to Data Pad</div></div><div style="left:710px;top:266px;width:686px;height:530px;border:1px solid #000;border-radius:7px 7px 1px 1px;background:#b9d1ea;box-shadow:inset 1px 1px 0 rgba(255,255,255,.85),inset -1px -1px 0 #48d8f0;"></div><div style="left:712px;top:268px;width:684px;height:29px;background:linear-gradient(#98b4d2,#b9d1ea);border-radius:5px 5px 0 0;"></div><svg class="a" style="left:722px;top:277px;" width="12" height="16" viewBox="0 0 12 16"><defs><linearGradient id="ig3" x1="0" y1="0" x2="0" y2="1"><stop offset="0" stop-color="#0f66b4"/><stop offset=".5" stop-color="#0c4a90"/><stop offset="1" stop-color="#133a74"/></linearGradient></defs><path d="M0 0H8.6L12 3.4V16H0Z" fill="url(#ig3)"/><path d="M8.6 0V3.4H12Z" fill="#e9eef4"/><path d="M0.2 7.7C1.4 7.5 2.1 6.2 2.8 7.6C3.5 9.6 4 14.2 4.7 14.2C5.5 14.2 5.8 1.6 6.5 1.6C7.2 1.6 7.5 9.6 8.3 9.6C9.1 9.6 9.6 7.6 11.8 7.6" fill="none" stroke="#fff" stroke-width="1.15" stroke-linejoin="round"/></svg><div class="t" style="left:838.70px;top:275.80px;font-size:15px;line-height:20px;color:#000;white-space:pre;letter-spacing:-0.253px;">Neonate Sleep Studies: Blood Pressure Analysis View</div><div style="left:1288px;top:276px;width:30px;height:16px;background:linear-gradient(rgba(255,255,255,.35),rgba(255,255,255,.12) 45%,rgba(160,185,215,.25) 50%,rgba(255,255,255,.2));border:1px solid #8d9fbc;border-radius:3px;box-shadow:inset 0 0 0 1px rgba(255,255,255,.45);"></div><div style="left:1298px;top:284px;width:10px;height:3px;background:#f4f4f4;border:1px solid #54596b;border-radius:1px;"></div><div style="left:1322px;top:276px;width:30px;height:16px;background:linear-gradient(rgba(255,255,255,.35),rgba(255,255,255,.12) 45%,rgba(160,185,215,.25) 50%,rgba(255,255,255,.2));border:1px solid #8d9fbc;border-radius:3px;box-shadow:inset 0 0 0 1px rgba(255,255,255,.45);"></div><div style="left:1333px;top:280px;width:9px;height:7px;background:#f4f4f4;border:1px solid #54596b;border-radius:1px;"></div><div style="left:1336px;top:283px;width:3px;height:1px;background:#dfe6f0;border:1px solid #54596b;"></div><div style="left:1356px;top:276px;width:30px;height:16px;background:linear-gradient(#e0a090,#c9503c 45%,#b5321c 50%,#d0604a);border:1px solid #5c2a24;border-radius:3px;box-shadow:inset 0 0 0 1px rgba(255,255,255,.45);"></div><svg class="a" style="left:1366px;top:280px;" width="12" height="10" viewBox="0 0 12 10"><path d="M3 2.4L9 7.6M9 2.4L3 7.6" stroke="#454b5c" stroke-width="3.6" stroke-linecap="square"/><path d="M3 2.4L9 7.6M9 2.4L3 7.6" stroke="#f4f4f4" stroke-width="1.9" stroke-linecap="square"/></svg><div style="left:718px;top:297px;width:671px;height:493px;background:#f0f0f0;"></div><div style="left:718px;top:297px;width:670px;height:454px;background:#fff;border-left:1px solid #6a6a6a;border-top:1px solid #6a6a6a;"></div><div style="left:785px;top:304px;width:1px;height:382px;background:#000;"></div><div style="left:785px;top:685px;width:598px;height:1px;background:#000;"></div><div style="left:782px;top:313px;width:3px;height:1px;background:#000;"></div><div class="t" style="left:765.77px;top:305.90px;font-size:11px;line-height:14px;color:#000;white-space:pre;">90</div><div style="left:784px;top:328px;width:1px;height:1px;background:#000;"></div><div style="left:784px;top:342px;width:1px;height:1px;background:#000;"></div><div style="left:784px;top:356px;width:1px;height:1px;background:#000;"></div><div style="left:784px;top:370px;width:1px;height:1px;background:#000;"></div><div style="left:782px;top:385px;width:3px;height:1px;background:#000;"></div><div class="t" style="left:765.77px;top:377.25px;font-size:11px;line-height:14px;color:#000;white-space:pre;">85</div><div style="left:784px;top:399px;width:1px;height:1px;background:#000;"></div><div style="left:784px;top:413px;width:1px;height:1px;background:#000;"></div><div style="left:784px;top:428px;width:1px;height:1px;background:#000;"></div><div style="left:784px;top:442px;width:1px;height:1px;background:#000;"></div><div style="left:782px;top:456px;width:3px;height:1px;background:#000;"></div><div class="t" style="left:765.77px;top:448.60px;font-size:11px;line-height:14px;color:#000;white-space:pre;">80</div><div style="left:784px;top:470px;width:1px;height:1px;background:#000;"></div><div style="left:784px;top:485px;width:1px;height:1px;background:#000;"></div><div style="left:784px;top:499px;width:1px;height:1px;background:#000;"></div><div style="left:784px;top:513px;width:1px;height:1px;background:#000;"></div><div style="left:782px;top:527px;width:3px;height:1px;background:#000;"></div><div class="t" style="left:765.77px;top:519.95px;font-size:11px;line-height:14px;color:#000;white-space:pre;">75</div><div style="left:784px;top:542px;width:1px;height:1px;background:#000;"></div><div style="left:784px;top:556px;width:1px;height:1px;background:#000;"></div><div style="left:784px;top:570px;width:1px;height:1px;background:#000;"></div><div style="left:784px;top:585px;width:1px;height:1px;background:#000;"></div><div style="left:782px;top:599px;width:3px;height:1px;background:#000;"></div><div class="t" style="left:765.77px;top:591.30px;font-size:11px;line-height:14px;color:#000;white-space:pre;">70</div><div style="left:784px;top:613px;width:1px;height:1px;background:#000;"></div><div style="left:784px;top:627px;width:1px;height:1px;background:#000;"></div><div style="left:784px;top:642px;width:1px;height:1px;background:#000;"></div><div style="left:784px;top:656px;width:1px;height:1px;background:#000;"></div><div style="left:782px;top:670px;width:3px;height:1px;background:#000;"></div><div class="t" style="left:765.77px;top:662.65px;font-size:11px;line-height:14px;color:#000;white-space:pre;">65</div><div style="left:790px;top:686px;width:1px;height:1px;background:#000;"></div><div style="left:809px;top:686px;width:1px;height:1px;background:#000;"></div><div style="left:828px;top:686px;width:1px;height:1px;background:#000;"></div><div style="left:846px;top:686px;width:1px;height:3px;background:#000;"></div><div class="t" style="left:835.92px;top:691.70px;font-size:11px;line-height:14px;color:#000;white-space:pre;">-0.6</div><div style="left:865px;top:686px;width:1px;height:1px;background:#000;"></div><div style="left:884px;top:686px;width:1px;height:1px;background:#000;"></div><div style="left:902px;top:686px;width:1px;height:1px;background:#000;"></div><div style="left:921px;top:686px;width:1px;height:3px;background:#000;"></div><div class="t" style="left:910.62px;top:691.70px;font-size:11px;line-height:14px;color:#000;white-space:pre;">-0.4</div><div style="left:940px;top:686px;width:1px;height:1px;background:#000;"></div><div style="left:958px;top:686px;width:1px;height:1px;background:#000;"></div><div style="left:977px;top:686px;width:1px;height:1px;background:#000;"></div><div style="left:996px;top:686px;width:1px;height:3px;background:#000;"></div><div class="t" style="left:985.32px;top:691.70px;font-size:11px;line-height:14px;color:#000;white-space:pre;">-0.2</div><div style="left:1014px;top:686px;width:1px;height:1px;background:#000;"></div><div style="left:1033px;top:686px;width:1px;height:1px;background:#000;"></div><div style="left:1052px;top:686px;width:1px;height:1px;background:#000;"></div><div style="left:1070px;top:686px;width:1px;height:3px;background:#000;"></div><div class="t" style="left:1060.02px;top:691.70px;font-size:11px;line-height:14px;color:#000;white-space:pre;">-0.0</div><div style="left:1089px;top:686px;width:1px;height:1px;background:#000;"></div><div style="left:1108px;top:686px;width:1px;height:1px;background:#000;"></div><div style="left:1126px;top:686px;width:1px;height:1px;background:#000;"></div><div style="left:1145px;top:686px;width:1px;height:3px;background:#000;"></div><div class="t" style="left:1136.56px;top:691.70px;font-size:11px;line-height:14px;color:#000;white-space:pre;">0.2</div><div style="left:1164px;top:686px;width:1px;height:1px;background:#000;"></div><div style="left:1182px;top:686px;width:1px;height:1px;background:#000;"></div><div style="left:1201px;top:686px;width:1px;height:1px;background:#000;"></div><div style="left:1220px;top:686px;width:1px;height:3px;background:#000;"></div><div class="t" style="left:1211.26px;top:691.70px;font-size:11px;line-height:14px;color:#000;white-space:pre;">0.4</div><div style="left:1238px;top:686px;width:1px;height:1px;background:#000;"></div><div style="left:1257px;top:686px;width:1px;height:1px;background:#000;"></div><div style="left:1276px;top:686px;width:1px;height:1px;background:#000;"></div><div style="left:1294px;top:686px;width:1px;height:3px;background:#000;"></div><div class="t" style="left:1285.96px;top:691.70px;font-size:11px;line-height:14px;color:#000;white-space:pre;">0.6</div><div style="left:1313px;top:686px;width:1px;height:1px;background:#000;"></div><div style="left:1332px;top:686px;width:1px;height:1px;background:#000;"></div><div style="left:1350px;top:686px;width:1px;height:1px;background:#000;"></div><div style="left:1369px;top:686px;width:1px;height:3px;background:#000;"></div><div class="t" style="left:1360.65px;top:691.70px;font-size:11px;line-height:14px;color:#000;white-space:pre;">0.8</div><div class="t" style="left:1063.04px;top:730.50px;font-size:11px;line-height:14px;color:#000;white-space:pre;">Time (s)</div><div class="t" style="left:681.00px;top:488.00px;width:108px;height:14px;line-height:14px;font-size:11px;letter-spacing:-0.095px;transform:rotate(-90deg);white-space:pre;">Finometer BP (mmHg)</div><div style="left:727px;top:306px;width:14px;height:14px;background:#fff;border:1px solid #1c3f72;"></div><svg class="a" style="left:731.0px;top:312.5px" width="8" height="4" viewBox="0 0 8 4"><path d="M0 0H8L4.0 4Z" fill="#000"/></svg><div style="left:727px;top:652px;width:14px;height:14px;background:#fff;border:1px solid #1c3f72;"></div><div style="left:731px;top:659px;width:8px;height:2px;background:#000;"></div><div style="left:734px;top:656px;width:2px;height:8px;background:#000;"></div><div style="left:727px;top:668px;width:14px;height:14px;background:#fff;border:1px solid #1c3f72;"></div><div style="left:731px;top:675px;width:8px;height:2px;background:#000;"></div><div style="left:787px;top:728px;width:14px;height:14px;background:#fff;border:1px solid #1c3f72;"></div><div style="left:791px;top:735px;width:8px;height:2px;background:#000;"></div><div style="left:803px;top:728px;width:14px;height:14px;background:#fff;border:1px solid #1c3f72;"></div><div style="left:807px;top:735px;width:8px;height:2px;background:#000;"></div><div style="left:810px;top:732px;width:2px;height:8px;background:#000;"></div><div style="left:1365px;top:728px;width:14px;height:14px;background:#fff;border:1px solid #1c3f72;"></div><svg class="a" style="left:1369.0px;top:734.5px" width="8" height="4" viewBox="0 0 8 4"><path d="M0 0H8L4.0 4Z" fill="#000"/></svg><svg class="a" style="left:0;top:0" width="1398" height="800" viewBox="0 0 1398 800"><polyline points="819.0,394.0 820.0,396.0 821.2,396.8 822.1,398.8 823.7,400.3 824.4,401.8 826.0,403.6 826.7,405.4 828.2,407.1 829.1,408.8 830.7,410.3 831.6,412.2 833.1,412.3 834.6,411.7 835.7,409.3 837.3,408.6 838.5,406.9 840.3,405.7 841.9,404.2 843.5,403.7 845.9,404.0 847.3,403.7 849.8,402.4 851.5,402.7 853.4,403.2 855.6,403.5 857.6,402.8 859.6,403.3 861.1,404.2 862.7,405.8 865.2,405.6 866.2,407.6 867.0,410.0 867.7,411.3 868.6,413.3 869.5,414.7 870.1,417.0 871.2,418.9 872.1,419.8 872.8,422.5 873.2,424.7 874.0,426.3 874.1,427.7 875.2,430.2 875.8,431.3 876.0,433.6 876.5,436.1 877.1,437.3 877.8,439.2 878.7,440.9 879.1,442.7 879.5,445.4 880.1,446.7 880.9,448.6 881.9,450.7 882.5,452.0 883.4,454.5 884.2,455.8 885.2,458.2 885.7,460.2 886.5,461.3 887.5,463.5 888.2,465.6 889.4,467.0 890.3,468.3 891.4,470.6 892.6,472.5 893.3,474.0 894.5,476.3 895.3,477.6 896.4,479.7 897.1,480.5 898.1,482.3 899.3,484.9 900.0,486.2 901.0,487.7 901.8,490.4 902.7,491.5 903.8,493.8 904.2,495.5 905.4,497.5 906.5,499.0 907.0,501.0 907.5,502.4 908.5,504.2 908.8,506.9 909.7,508.2 910.2,510.7 911.1,512.3 911.5,514.1 912.3,515.4 912.4,518.3 913.6,519.6 913.7,521.7 914.5,523.4 915.5,525.0 915.6,527.7 916.7,529.2 917.5,530.4 918.0,533.0 918.6,534.5 919.7,536.6 920.2,538.9 920.7,540.1 922.0,542.6 922.7,544.2 923.2,545.3 924.1,548.2 924.6,549.8 925.5,552.0 926.1,552.9 927.0,554.7 927.6,557.5 928.9,559.0 929.3,560.1 930.0,562.7 930.8,564.6 931.5,566.6 932.8,568.2 933.5,569.3 934.5,571.0 935.1,572.8 936.1,574.7 936.8,576.7 937.7,579.3 938.3,580.8 939.2,582.6 939.8,584.8 940.7,585.7 941.4,587.8 942.3,590.0 943.1,592.2 944.0,593.6 945.1,594.8 945.5,597.5 946.7,598.7 947.4,601.2 948.0,602.5 949.1,604.9 949.8,606.6 950.4,608.2 951.5,609.5 952.1,611.3 952.9,613.2 953.7,614.9 954.7,616.8 955.3,618.8 956.6,621.1 957.2,622.6 958.4,623.7 959.3,625.5 960.6,628.3 961.6,629.6 962.1,630.9 963.4,632.7 964.5,635.0 965.3,636.1 967.0,637.9 968.0,639.8 969.6,641.1 971.1,641.8 972.2,643.5 973.5,645.1 975.2,646.7 977.0,647.2 978.1,648.4 979.9,649.8 981.0,651.7 982.6,653.1 984.0,654.4 985.8,655.4 987.3,657.5 988.8,658.3 990.1,659.4 991.9,660.9 993.1,662.4 994.5,663.8 995.1,665.2 995.6,666.9 995.9,669.2 996.8,671.4 997.4,672.9 997.9,675.4 998.1,673.0 997.9,671.2 998.0,669.9 998.4,667.2 998.7,665.7 998.4,663.6 998.7,662.0 998.8,659.3 999.0,657.0 998.9,655.8 999.1,653.9 999.2,652.0 999.7,650.1 999.8,647.0 999.7,645.2 999.9,643.7 999.8,642.1 1000.1,640.1 1000.1,637.6 1000.6,636.1 1000.6,633.8 1000.7,631.5 1000.5,629.6 1000.8,627.7 1001.3,625.7 1001.4,624.1 1001.3,622.1 1001.1,619.5 1001.6,618.2 1001.6,615.2 1001.7,613.2 1001.8,611.2 1002.0,609.6 1002.3,607.1 1002.4,606.2 1002.4,604.0 1002.7,601.1 1002.3,599.3 1003.0,597.5 1002.6,595.2 1002.8,594.0 1003.0,591.5 1003.0,590.2 1003.4,587.8 1003.2,586.1 1003.4,584.1 1003.4,582.2 1003.9,579.6 1004.0,577.7 1004.0,576.1 1004.0,573.4 1004.5,571.7 1004.4,569.8 1004.8,567.1 1004.8,565.8 1005.0,563.7 1004.9,562.1 1005.4,559.5 1005.4,558.2 1005.5,555.9 1005.8,553.4 1005.9,552.1 1006.1,549.9 1006.6,547.3 1006.4,545.7 1006.8,544.0 1006.8,542.3 1007.2,539.2 1007.1,538.4 1007.2,535.7 1007.7,534.4 1007.4,532.0 1008.1,530.2 1008.0,527.9 1008.1,526.0 1008.6,523.6 1008.2,522.0 1008.6,520.2 1008.5,518.3 1009.0,516.2 1009.0,514.1 1009.4,512.4 1009.8,509.7 1010.0,508.1 1009.9,505.9 1010.3,503.8 1010.5,501.9 1010.5,499.9 1010.8,497.8 1010.7,496.1 1011.1,493.9 1011.1,492.6 1011.7,490.2 1011.7,487.7 1011.9,486.0 1012.4,483.9 1012.3,482.4 1012.5,480.5 1012.6,478.6 1012.7,476.3 1013.1,473.8 1013.0,471.8 1013.4,470.6 1013.7,468.2 1014.2,466.5 1013.9,464.2 1014.5,462.4 1014.6,460.2 1015.0,458.5 1014.8,456.3 1015.0,454.2 1015.4,452.0 1015.9,449.7 1015.7,448.1 1016.3,445.8 1016.2,444.9 1016.4,441.9 1016.5,440.7 1016.9,438.8 1017.2,436.6 1017.5,434.4 1017.4,431.9 1017.7,430.3 1017.8,428.2 1018.1,426.1 1018.6,424.5 1018.7,422.2 1019.0,421.0 1019.6,419.0 1020.3,416.3 1020.7,414.1 1021.0,412.3 1021.6,410.7 1021.5,409.0 1021.9,406.4 1022.6,404.5 1023.0,403.3 1023.8,400.8 1024.5,400.6 1026.2,401.3 1028.0,402.3 1029.5,403.0 1031.7,402.4 1033.2,401.3 1035.1,401.3 1037.1,400.8 1039.2,400.8 1041.0,399.9 1043.3,400.5 1044.9,399.6 1046.9,399.6 1049.3,399.6 1050.9,398.3 1052.9,398.3 1055.0,399.2 1057.0,399.5 1058.7,399.4 1061.2,400.1 1063.2,400.4 1064.9,399.4 1066.4,398.6 1068.3,396.8 1070.0,396.6 1071.4,397.3 1072.2,399.0 1072.5,401.2 1073.3,402.2 1073.7,404.9 1074.6,406.8 1075.0,408.1 1075.9,410.0 1076.5,412.4 1077.1,413.9 1077.6,416.4 1078.0,417.8 1078.5,420.1 1079.3,422.3 1079.8,423.4 1080.8,425.1 1081.4,427.9 1081.9,429.3 1082.8,431.8 1083.3,433.3 1083.6,435.6 1084.3,436.9 1085.0,438.8 1085.7,440.2 1086.1,442.4 1087.1,443.9 1087.7,446.0 1088.4,448.6 1088.9,449.6 1089.8,451.9 1090.2,454.4 1090.5,456.1 1091.7,458.0 1092.2,459.3 1092.9,461.5 1093.6,463.6 1093.7,465.9 1094.5,466.9 1095.0,468.8 1095.8,470.8 1096.7,473.2 1096.9,474.8 1097.8,476.2 1098.2,478.6 1099.3,480.1 1100.7,482.3 1101.7,483.1 1103.4,484.2 1104.6,486.3 1106.5,488.0 1107.9,488.8 1109.0,490.8 1110.1,492.3 1110.6,494.1 1111.8,496.4 1112.5,498.0 1113.2,498.8 1114.6,501.4 1115.3,502.9 1115.8,505.3 1117.2,506.2 1118.0,508.1 1118.8,509.7 1119.6,511.9 1120.1,513.4 1121.0,515.9 1121.9,517.9 1122.2,519.7 1123.0,521.6 1124.1,523.0 1124.7,525.4 1125.4,526.8 1126.0,529.1 1126.8,530.7 1127.9,532.0 1128.3,533.8 1128.9,535.5 1130.2,537.4 1130.6,539.7 1131.8,541.1 1132.7,542.9 1133.3,545.6 1134.1,547.0 1134.9,549.2 1135.8,550.7 1136.7,552.5 1137.2,554.4 1138.4,556.2 1139.2,558.3 1139.9,559.6 1141.0,561.9 1142.2,562.6 1143.0,565.2 1143.9,566.2 1144.9,568.5 1146.3,569.5 1147.2,571.9 1148.3,573.0 1148.6,576.0 1149.5,577.8 1150.3,579.5 1151.0,581.5 1151.4,582.5 1152.6,584.3 1153.5,586.2 1154.0,588.6 1154.5,590.8 1155.6,592.8 1155.9,594.3 1156.8,596.2 1157.9,598.2 1158.6,599.4 1159.7,601.0 1160.4,602.7 1161.5,604.4 1162.4,607.1 1162.9,608.0 1163.7,610.0 1165.0,612.4 1165.7,613.6 1166.4,616.2 1167.6,617.1 1168.1,619.2 1169.1,620.8 1170.4,623.3 1170.8,624.4 1171.9,626.3 1172.6,628.2 1174.1,630.5 1174.7,631.2 1175.5,633.8 1176.7,635.8 1177.4,636.5 1178.4,638.8 1179.4,640.3 1180.2,642.7 1181.3,644.1 1182.3,646.0 1183.2,647.4 1184.4,649.4 1185.5,650.7 1186.1,652.1 1187.5,654.6 1188.1,656.1 1189.0,658.2 1189.7,660.5 1190.1,661.8 1191.1,663.4 1191.9,665.4 1192.8,667.9 1193.5,669.7 1194.6,671.4 1195.8,673.0 1197.1,673.7 1198.4,675.1 1199.4,676.8 1201.0,678.4 1202.7,678.5 1204.7,678.4 1206.1,677.5 1206.5,676.0 1207.1,673.3 1207.5,672.0 1208.2,669.5 1208.6,668.0 1209.1,665.7 1209.3,663.4 1209.6,661.7 1209.9,660.3 1210.3,658.1 1210.3,656.1 1210.8,653.7 1210.9,652.2 1211.1,650.7 1211.1,648.5 1211.0,646.2 1211.3,644.7 1211.5,642.6 1211.5,640.2 1211.6,637.6 1212.2,635.6 1212.3,633.6 1212.2,632.1 1212.7,630.0 1212.6,628.7 1213.0,625.8 1213.1,624.7 1213.2,622.5 1213.1,620.6 1213.5,618.3 1213.8,616.4 1213.5,614.2 1214.0,611.6 1214.1,610.0 1213.8,608.2 1214.1,606.5 1214.4,604.2 1214.0,602.1 1214.5,599.8 1214.2,597.6 1214.7,596.5 1214.7,594.0 1214.6,592.8 1214.6,589.9 1215.0,588.0 1215.2,586.2 1215.3,584.5 1215.2,582.2 1215.5,579.8 1215.4,578.0 1215.3,576.2 1215.5,574.4 1215.5,572.6 1216.0,569.8 1215.7,567.7 1216.2,566.3 1216.0,564.6 1215.9,561.7 1215.9,560.5 1216.2,558.5 1216.1,556.2 1216.5,554.7 1216.5,552.4 1216.9,549.7 1217.0,548.2 1216.6,546.7 1216.9,544.7 1217.0,542.4 1217.2,540.5 1217.5,538.4 1217.4,536.0 1217.5,534.4 1217.6,532.5 1218.1,530.1 1217.7,528.7 1218.3,525.9 1218.1,524.6 1218.5,522.1 1218.4,520.6 1218.9,518.2 1218.6,516.7 1218.7,514.2 1219.3,512.0 1219.2,510.7 1219.2,508.1 1219.1,506.6 1219.4,504.6 1219.5,502.0 1219.7,500.0 1220.2,498.0 1220.3,495.9 1220.4,494.2 1220.4,491.8 1220.7,489.9 1220.6,488.6 1220.7,486.8 1220.8,483.9 1221.4,482.1 1221.2,480.1 1221.5,478.9 1221.5,476.7 1222.0,474.5 1221.9,472.2 1222.0,470.9 1222.5,468.4 1222.3,467.0 1222.5,464.7 1223.1,462.5 1223.2,460.0 1223.3,459.1 1223.2,456.1 1223.7,454.2 1223.8,452.4 1223.8,450.4 1223.9,448.1 1224.5,446.8 1224.4,444.2 1224.8,442.7 1224.7,440.9 1225.2,438.3 1225.4,436.7 1225.7,434.9 1225.9,432.8 1226.2,430.8 1226.4,428.5 1226.9,427.0 1227.4,425.3 1227.7,422.7 1228.0,421.1 1227.9,418.3 1228.6,417.3 1228.8,414.5 1229.0,412.8 1229.2,410.7 1229.7,408.5 1230.7,407.6 1231.5,405.0 1232.1,403.4 1232.4,401.4 1233.6,399.4 1235.4,398.9 1237.4,398.1" fill="none" stroke="#94f594" stroke-width="1" stroke-linejoin="round" shape-rendering="crispEdges"/><polyline points="855.3,367.2 857.2,368.2 858.3,370.3 859.6,371.7 860.8,373.2 862.0,374.6 863.4,376.0 864.5,378.1 865.9,379.3 867.2,380.8 868.4,382.9 869.3,384.3 870.6,384.4 872.4,383.5 873.7,381.8 875.1,381.2 876.9,380.0 878.3,379.1 880.3,379.8 882.2,379.2 884.3,380.0 886.5,379.8 888.2,379.9 890.0,378.9 892.2,378.3 894.3,378.3 895.0,379.0 896.2,380.5 897.6,382.4 898.5,384.3 899.6,386.1 900.7,387.5 901.3,389.8 902.6,391.3 903.1,393.2 904.4,394.8 905.3,397.1 905.7,398.7 906.9,400.0 907.3,402.4 908.1,404.7 908.5,406.1 909.0,408.5 909.5,409.8 910.0,412.0 910.2,413.8 910.4,415.8 911.3,418.1 911.2,419.8 912.1,422.3 912.1,423.7 913.0,425.1 913.2,427.4 913.5,429.9 914.2,431.4 914.4,432.8 915.1,435.0 915.8,436.7 916.5,439.7 917.0,441.5 918.0,443.2 918.4,444.9 919.3,447.0 919.5,448.2 920.3,450.2 921.1,452.4 922.0,454.0 922.6,455.5 923.5,458.4 924.6,459.5 925.2,461.4 926.1,462.9 927.2,464.7 927.7,466.7 928.2,469.1 929.4,470.9 929.9,472.3 930.5,473.7 931.6,476.5 931.8,477.7 933.1,480.0 933.4,481.2 934.1,483.8 935.4,485.3 935.8,487.3 936.8,488.8 938.5,490.3 939.4,492.1 941.0,494.2 942.0,494.7 943.1,496.5 944.5,497.7 946.0,500.1 946.8,501.9 947.3,503.2 947.9,505.3 948.9,507.4 949.7,509.3 950.2,510.6 951.1,513.3 951.9,515.0 952.5,516.1 953.2,518.9 953.8,520.6 954.7,522.5 955.2,524.0 956.0,525.4 957.0,528.1 958.0,529.5 958.8,531.0 960.0,532.7 960.7,535.2 961.6,536.4 962.4,538.4 963.2,540.2 964.4,542.3 965.0,543.8 966.0,545.1 966.9,547.4 967.7,549.1 968.4,551.0 969.1,553.0 970.3,554.3 971.0,556.1 971.5,557.8 972.7,559.8 973.3,561.4 974.1,563.9 974.7,565.4 975.6,567.1 976.3,568.8 977.5,570.8 978.3,572.6 979.0,574.5 979.6,576.5 980.4,578.5 981.7,580.6 982.5,582.6 983.0,583.3 983.7,585.4 984.7,587.7 985.8,588.7 986.8,591.2 988.4,592.0 989.6,594.2 990.7,595.7 992.1,597.5 992.8,598.4 993.2,600.5 993.8,603.0 994.7,604.1 995.7,605.9 996.3,608.2 996.7,610.3 997.7,611.5 998.3,613.4 998.8,615.3 999.9,617.5 1000.5,619.7 1001.5,620.9 1002.3,623.5 1003.4,624.7 1004.2,626.8 1005.2,628.1 1005.7,630.3 1006.9,632.5 1007.5,633.7 1008.6,635.2 1009.5,637.2 1010.9,638.9 1012.2,640.6 1013.3,642.3 1014.2,643.4 1015.2,645.2 1016.1,647.2 1017.6,649.2 1018.5,650.9 1019.5,652.7 1020.5,654.1 1021.1,656.5 1022.3,657.5 1023.1,659.5 1023.9,661.6 1025.1,663.5 1025.9,664.8 1026.5,667.1 1027.8,668.4 1028.2,670.5 1029.6,671.2 1030.8,672.8 1032.2,675.4 1033.3,675.9 1034.7,678.1 1036.0,678.7 1037.0,676.8 1037.9,675.3 1038.7,674.2 1040.0,672.0 1040.9,670.6 1041.1,668.4 1040.9,666.2 1041.1,664.2 1041.6,661.8 1041.5,659.6 1041.6,658.1 1042.0,656.3 1042.2,654.7 1042.5,652.4 1042.3,650.6 1042.6,648.7 1042.8,646.8 1043.0,644.6 1043.0,641.8 1043.5,640.1 1043.4,637.9 1043.8,636.7 1044.3,634.6 1044.0,632.1 1044.5,630.4 1044.6,628.7 1045.0,626.7 1044.9,624.0 1045.0,622.6 1045.6,620.7 1045.6,617.8 1045.5,615.9 1045.8,614.3 1045.8,612.0 1046.3,610.8 1046.0,608.6 1046.4,606.6 1046.8,604.7 1046.9,602.2 1047.0,600.1 1047.0,598.5 1046.9,596.3 1046.9,594.9 1047.1,592.6 1047.6,590.3 1047.7,588.8 1047.4,586.3 1048.1,584.0 1047.9,582.8 1047.9,580.4 1048.2,578.2 1048.3,576.7 1048.3,575.0 1048.7,572.1 1048.8,570.8 1048.7,568.8 1049.2,566.0 1049.2,564.9 1049.2,562.4 1049.2,560.0 1049.5,558.5 1049.5,556.2 1050.1,554.1 1049.9,552.0 1050.3,550.1 1050.1,548.4 1050.3,546.7 1050.5,544.0 1050.9,542.8 1050.6,540.0 1050.9,538.1 1050.9,536.8 1051.5,535.0 1051.6,533.1 1051.6,530.7 1051.9,528.5 1052.0,526.1 1052.2,524.7 1052.5,522.2 1052.7,520.6 1052.4,518.7 1052.8,517.0 1053.2,514.4 1053.0,513.2 1053.1,511.2 1053.2,509.0 1053.7,506.9 1053.6,504.9 1053.9,503.1 1054.0,501.2 1054.3,499.1 1054.7,496.8 1054.9,494.2 1054.7,492.8 1054.8,490.5 1055.2,488.3 1055.4,487.2 1055.3,485.1 1055.9,482.8 1056.0,480.7 1055.9,478.7 1056.2,476.5 1056.2,474.7 1056.7,472.7 1056.9,470.2 1056.8,469.3 1057.0,466.2 1057.2,464.7 1057.6,462.3 1057.6,460.5 1057.8,459.4 1058.0,456.7 1058.4,455.1 1058.7,452.4 1058.7,450.6 1059.1,449.4 1059.5,447.4 1059.3,444.7 1059.9,443.5 1059.7,441.1 1060.1,439.0 1060.1,436.8 1060.6,434.8 1061.1,433.6 1061.4,431.3 1061.7,429.1 1062.0,426.6 1062.1,424.8 1062.9,423.7 1063.3,421.3 1063.5,419.1 1063.8,416.7 1063.9,415.0 1064.3,413.0 1064.7,411.0 1065.1,409.2 1066.3,407.2 1067.0,405.2 1067.4,403.4 1068.0,402.0 1068.9,399.6 1069.5,398.8 1070.5,396.1 1071.1,395.4 1072.2,397.0 1073.6,398.5 1074.7,400.2 1076.0,401.7 1077.0,403.4 1078.2,404.9 1079.2,407.2 1081.0,406.7 1082.8,405.4 1084.6,405.2 1086.1,403.7 1088.4,403.0 1089.8,402.1 1091.6,401.3 1093.6,401.4 1095.8,400.6 1097.8,400.0 1099.6,399.4 1101.2,397.5 1103.3,397.7 1104.0,399.8 1105.3,400.4 1106.6,402.1 1108.2,403.9 1109.4,405.7 1110.3,406.9 1111.8,408.5 1113.0,410.6 1113.9,411.4 1115.4,413.9 1116.3,415.1 1117.0,417.1 1118.2,419.0 1119.1,420.1 1120.2,422.8 1120.9,424.5 1121.9,425.8 1122.6,427.3 1123.6,429.0 1124.3,431.2 1124.3,433.6 1125.2,435.6 1125.7,437.0 1126.5,438.8 1126.6,440.8 1127.5,443.5 1127.9,444.4 1128.6,446.4 1129.3,448.9 1129.9,450.2 1130.2,452.2 1130.8,454.8 1131.8,456.1 1132.2,458.3 1133.2,460.2 1133.6,461.7 1134.0,463.6 1134.6,465.5 1135.3,468.1 1136.2,469.0 1136.6,471.0 1137.3,473.2 1138.0,474.9 1139.1,476.8 1140.6,478.2 1142.0,479.6 1143.8,480.8 1144.6,482.4 1146.3,484.4 1146.9,486.1 1148.1,487.5 1149.0,489.6 1150.1,490.3 1151.4,492.2 1152.3,494.6 1153.5,495.8 1154.4,497.4 1155.6,499.3 1157.1,500.6 1157.9,502.9 1159.6,503.8 1160.5,506.1 1160.8,507.8 1161.5,510.1 1161.9,511.5 1162.6,514.0 1162.8,515.4 1163.5,516.7 1164.2,519.4 1164.8,521.5 1165.7,522.5 1166.3,525.5 1166.3,526.9 1167.0,529.0 1167.9,530.1 1169.1,532.6 1170.6,533.9 1171.5,535.5 1172.3,537.6 1173.7,538.8 1175.0,540.5 1176.2,541.5 1177.2,543.8 1177.9,545.9 1178.3,547.3 1179.3,549.6 1179.7,551.3 1180.7,552.8 1180.9,555.0 1181.6,556.8 1182.8,558.5 1183.1,560.8 1184.0,562.0 1184.6,564.2 1185.3,566.1 1186.0,568.7 1186.8,570.2 1187.7,572.0 1188.3,573.3 1189.2,575.5 1189.8,577.3 1190.1,579.9 1191.0,581.2 1191.8,583.5 1192.5,585.0 1193.6,587.1 1194.8,587.8 1195.2,590.7 1196.4,592.6 1197.4,593.4 1197.9,595.1 1199.2,597.2 1199.6,599.3 1201.0,601.0 1201.5,602.7 1202.4,605.0 1203.7,606.4 1204.2,608.6 1205.0,610.0 1206.0,611.3 1206.9,614.1 1207.2,616.0 1208.0,617.2 1208.7,619.5 1209.6,621.2 1210.1,622.5 1211.3,624.9 1211.7,626.8 1212.5,628.6 1213.0,630.5 1214.1,632.3 1214.7,634.2 1215.8,636.0 1217.3,636.9 1217.9,639.6 1219.1,640.7 1220.2,642.7 1221.0,644.1 1222.3,645.4 1223.1,647.8 1224.4,649.2 1225.2,651.1 1226.3,652.5 1227.4,654.1 1228.1,656.0 1229.0,658.4 1229.9,660.3 1231.0,662.2 1232.0,663.3 1233.1,665.5 1233.6,666.6 1234.4,669.0 1235.8,670.4 1236.8,672.5 1238.4,673.2 1239.3,675.5 1240.4,676.2 1241.9,678.6 1243.6,678.7 1244.6,677.1 1246.4,676.1 1247.9,675.1 1247.8,672.8 1248.5,670.6 1248.3,668.6 1248.7,667.2 1248.9,665.1 1249.7,662.5 1249.7,661.4 1249.8,658.6 1250.5,656.7 1250.5,654.5 1250.7,653.1 1251.2,651.5 1251.3,649.6 1251.6,647.1 1251.2,644.6 1251.8,643.1 1251.8,640.9 1251.6,638.9 1251.8,636.8 1251.8,635.7 1252.4,633.0 1252.0,630.5 1252.2,629.1 1252.6,627.4 1252.8,625.5 1252.6,623.5 1252.7,621.4 1252.7,618.8 1252.8,617.0 1253.4,615.1 1253.1,612.7 1253.4,611.1 1253.7,608.7 1254.0,606.7 1254.0,605.6 1254.2,602.8 1254.2,601.2 1254.1,599.3 1254.3,597.7 1254.5,595.0 1254.4,592.8 1254.6,591.7 1255.0,589.0 1254.7,586.9 1255.2,584.8 1255.3,583.2 1255.2,580.9 1255.5,579.1 1255.5,577.0 1255.6,575.4 1255.3,573.2 1255.8,571.5 1255.6,569.0 1256.0,567.0 1255.7,565.8 1256.3,562.9 1256.0,561.6 1256.5,559.5 1256.7,557.4 1256.3,554.8 1256.4,552.7 1257.0,551.6 1257.1,548.8 1256.7,547.0 1257.1,545.9 1257.1,543.8 1257.0,541.8 1257.6,539.4 1257.6,537.2 1257.4,535.2 1257.7,533.1 1257.8,531.9 1258.3,529.7 1258.4,527.9 1258.0,525.1 1258.5,523.4 1258.5,521.5 1258.5,519.2 1258.7,517.4 1258.7,515.0 1258.6,513.1 1259.2,510.9 1259.3,509.5 1259.5,507.1 1259.4,505.3 1259.2,503.2 1259.8,500.8 1259.6,499.8 1259.6,497.6 1259.7,495.1 1260.1,493.8 1260.1,491.6 1260.4,490.0 1260.2,487.3 1260.2,484.9 1260.9,482.9 1260.5,481.7 1260.8,479.5 1260.8,477.1 1261.4,475.5 1261.6,473.4 1261.6,471.8 1261.5,468.9 1262.0,467.0 1261.8,465.4 1262.1,463.0 1262.2,462.0 1262.8,459.1 1262.9,457.6 1263.0,455.4 1262.9,453.8 1263.1,450.9 1263.3,449.3 1263.5,447.5 1263.4,445.0 1263.6,443.7 1264.0,441.5 1264.3,439.9 1264.5,437.5 1264.6,435.3 1264.6,433.3 1264.5,431.2 1264.8,430.1 1265.2,428.0 1265.9,425.4 1266.0,423.6 1266.4,421.2 1266.6,419.8 1267.0,418.0 1267.5,415.5 1267.9,413.7 1268.5,412.1 1268.4,409.8 1269.6,408.3 1271.3,406.3 1272.5,405.5 1273.8,403.1 1274.9,402.4 1276.7,402.4 1278.7,402.5 1281.0,403.6 1283.0,402.6 1284.7,402.3 1286.7,401.9 1288.7,400.8 1290.3,400.7 1292.5,400.6 1294.4,400.3 1296.6,400.0 1298.3,399.7 1300.2,400.3 1302.1,399.6 1304.2,399.6 1306.1,399.2 1308.2,398.7 1310.3,398.6 1312.2,398.6 1314.3,398.3 1316.2,398.0 1318.3,396.7 1320.1,396.5" fill="none" stroke="#94f594" stroke-width="1" stroke-linejoin="round" shape-rendering="crispEdges"/><polyline points="899.2,395.1 900.3,397.0 901.5,398.3 902.4,400.3 903.5,402.5 904.5,404.2 905.2,405.0 906.1,406.9 907.4,408.4 907.9,410.8 908.6,412.2 908.8,414.6 909.4,416.8 910.1,418.3 910.7,420.7 910.9,422.5 911.8,423.8 912.4,426.3 912.8,427.9 913.4,430.0 913.6,431.8 914.0,434.2 914.7,435.8 915.1,437.4 915.8,439.8 916.5,442.0 916.8,443.4 917.6,445.2 917.9,447.4 918.3,450.0 919.2,451.9 920.2,453.1 921.4,455.0 922.7,456.5 924.2,457.6 925.2,458.8 926.1,461.1 927.3,462.9 927.6,464.5 928.4,466.2 929.2,468.2 930.3,470.2 930.4,471.8 931.5,473.7 932.2,475.7 932.7,478.1 933.8,479.6 934.6,481.1 935.3,482.9 935.7,485.0 937.3,486.3 938.2,487.9 939.7,489.9 940.7,491.0 941.6,493.1 943.2,494.5 943.9,496.8 944.5,498.7 945.4,500.5 945.9,502.4 946.4,503.9 947.6,506.1 948.0,507.6 948.7,509.7 949.2,511.3 950.3,513.3 951.2,514.7 951.8,516.7 952.9,519.4 953.5,520.3 954.5,522.6 955.3,524.3 956.2,526.2 957.3,527.7 958.0,529.6 958.8,530.8 960.0,532.6 960.6,534.6 961.4,536.4 962.0,538.2 962.7,540.0 963.8,542.4 964.4,543.8 965.4,546.6 965.6,548.1 966.9,549.8 967.1,551.9 968.0,553.2 968.6,555.9 969.6,557.6 970.4,559.3 971.2,560.8 972.5,563.0 973.2,564.7 974.3,566.4 975.2,568.5 975.7,569.9 976.8,571.4 977.4,573.4 978.4,574.8 979.5,576.6 980.4,578.9 981.3,580.7 982.4,582.5 983.9,584.1 984.9,585.4 986.0,586.5 986.9,588.6 988.3,590.8 989.3,592.3 989.9,593.8 990.6,595.6 991.6,597.2 992.5,599.0 992.9,600.8 993.5,603.6 994.4,605.2 994.8,606.5 995.8,608.7 996.4,610.1 996.9,612.1 998.1,614.5 999.0,616.2 1000.1,617.8 1000.9,619.4 1001.5,621.6 1002.6,623.8 1003.3,624.9 1004.4,626.3 1005.3,628.0 1006.2,629.9 1007.0,632.6 1008.6,633.6 1009.7,635.5 1011.1,636.3 1012.0,637.9 1013.7,640.0 1015.1,641.7 1016.2,642.6 1017.2,643.8 1018.9,646.3 1019.8,647.3 1020.8,649.5 1022.1,650.4 1023.4,652.8 1024.0,654.6 1025.4,656.1 1026.5,657.3 1027.8,659.5 1028.4,660.4 1029.8,662.3 1031.0,664.1 1032.1,666.3 1033.3,667.1 1034.3,669.6 1035.4,671.2 1036.5,673.1 1037.4,674.0 1039.0,674.5 1040.2,673.2 1041.3,672.5 1043.2,671.2 1043.5,669.0 1043.8,666.7 1043.7,664.5 1044.4,663.2 1044.4,661.3 1044.9,658.3 1044.8,656.5 1045.2,655.3 1045.3,653.3 1045.5,650.7 1046.0,648.7 1046.5,646.9 1046.6,645.0 1046.8,642.5 1047.4,641.4 1047.4,639.0 1047.6,637.3 1047.3,634.7 1047.4,633.6 1048.0,631.3 1047.6,628.8 1048.1,627.6 1048.3,625.3 1048.3,623.4 1048.3,620.5 1048.3,618.5 1048.4,617.3 1048.3,614.8 1048.6,613.1 1048.8,610.6 1048.8,609.6 1049.3,607.0 1049.5,605.4 1049.2,602.5 1049.5,601.0 1049.7,598.5 1049.7,597.5 1049.7,595.0 1050.1,592.6 1050.0,590.6 1050.2,589.1 1050.4,586.6 1050.2,584.7 1050.5,583.0 1050.4,581.1 1050.7,579.2 1050.6,577.2 1051.1,574.9 1050.9,573.2 1051.4,570.7 1051.1,568.8 1051.5,567.5 1051.8,564.7 1051.9,562.8 1051.8,560.8 1052.0,559.1 1052.0,556.5 1052.5,554.6 1052.5,553.1 1052.5,550.7 1052.7,549.4 1053.0,547.5 1053.0,545.3 1052.8,543.4 1053.0,541.0 1053.5,538.6 1053.5,537.1 1053.7,535.0 1053.7,533.3 1053.6,530.8 1054.2,528.9 1054.1,527.6 1054.3,524.9 1054.4,523.1 1054.4,521.7 1055.0,519.0 1055.1,516.8 1054.7,515.5 1054.9,513.3 1055.2,511.4 1055.7,508.7 1055.6,507.2 1056.0,504.7 1055.9,503.0 1056.1,501.5 1056.5,498.8 1056.6,497.1 1056.6,495.9 1056.8,493.9 1057.1,491.3 1057.2,489.6 1057.2,487.5 1057.4,485.3 1057.9,483.8 1057.8,481.0 1058.0,479.8 1058.2,476.8 1058.8,475.8 1059.0,473.6 1058.9,471.3 1058.9,469.6 1059.2,467.4 1059.6,465.8 1059.6,463.0 1060.0,461.5 1060.2,459.9 1060.3,458.0 1060.6,455.1 1060.6,453.2 1060.6,452.0 1061.2,449.3 1061.6,447.0 1061.7,445.8 1061.7,443.5 1062.3,441.9 1062.6,439.6 1062.8,437.6 1062.9,435.5 1063.3,433.4 1063.1,432.1 1063.6,429.9 1064.1,428.0 1064.3,426.2 1064.5,423.4 1064.6,422.2 1064.9,420.2 1065.0,417.8 1065.3,415.9 1066.2,413.4 1066.5,412.3 1066.9,409.6 1067.4,408.1 1067.8,405.7 1068.4,403.7 1069.2,402.4 1069.4,400.3 1070.0,398.6 1070.8,396.8 1071.0,396.1 1072.6,396.7 1073.3,399.0 1074.6,400.7 1075.7,402.4 1076.7,404.0 1077.4,405.7 1079.0,407.7 1080.0,408.8 1081.2,410.5 1082.5,412.2 1083.8,413.1 1085.0,414.0 1086.7,412.5 1088.2,411.4 1089.9,410.2 1091.8,409.3 1093.6,408.1 1094.7,407.3 1096.6,406.1 1098.2,405.2 1099.9,403.6 1101.2,402.9 1103.1,402.5 1105.1,403.2 1107.4,403.2 1109.3,403.8 1110.8,404.7 1112.0,406.8 1113.6,407.9 1115.0,408.5 1116.6,410.4 1117.3,412.7 1118.7,413.3 1119.7,415.3 1120.6,417.5 1121.4,418.4 1122.5,421.0 1123.6,422.5 1124.3,424.6 1124.5,426.3 1125.4,428.7 1126.1,429.9 1126.6,432.1 1127.2,433.4 1127.8,435.9 1128.0,437.7 1128.5,440.3 1129.5,442.1 1129.8,443.1 1130.2,444.9 1131.1,446.9 1131.6,448.9 1132.0,451.4 1133.0,453.1 1133.3,455.0 1134.2,456.9 1134.3,458.2 1134.8,460.6 1135.9,463.3 1136.1,465.0 1137.0,466.6 1137.3,468.0 1138.0,470.8 1138.4,472.1 1139.2,474.2 1140.1,475.6 1141.0,477.6 1141.6,479.5 1142.3,481.4 1143.0,482.9 1143.8,485.5 1144.1,486.8 1144.7,489.2 1145.6,491.0 1146.8,492.8 1147.7,494.0 1148.6,495.8 1149.6,498.0 1150.8,499.3 1151.8,500.7 1152.8,503.4 1153.7,504.2 1154.5,507.0 1155.4,508.2 1156.0,510.1 1157.1,512.7 1157.5,513.9 1158.3,516.0 1159.1,517.5 1160.1,519.9 1160.8,521.6 1161.3,523.2 1162.0,524.6 1162.5,526.8 1163.3,528.8 1163.9,530.4 1164.8,532.6 1165.4,534.1 1166.4,536.3 1167.1,538.2 1167.9,540.1 1169.1,541.9 1170.1,543.5 1171.6,544.8 1172.7,546.5 1173.6,548.7 1174.8,549.7 1175.6,551.9 1176.9,553.8 1177.6,555.6 1178.7,556.9 1179.3,558.5 1180.3,560.7 1180.9,562.6 1181.4,564.3 1182.3,565.9 1183.2,567.9 1184.2,569.2 1184.8,571.3 1185.5,573.0 1186.4,575.5 1187.2,577.7 1188.2,578.5 1188.8,580.2 1189.2,582.9 1190.6,584.3 1190.8,586.3 1191.8,587.6 1193.2,589.5 1194.0,591.8 1195.0,593.4 1195.8,595.5 1196.8,597.3 1197.7,598.4 1199.0,600.4 1199.8,601.9 1200.6,603.7 1201.5,605.4 1202.3,607.9 1203.5,609.3 1204.0,610.6 1204.7,613.1 1205.8,615.3 1206.3,617.0 1207.4,618.5 1208.1,619.6 1208.9,622.4 1209.7,624.4 1210.6,625.9 1211.5,627.3 1212.5,629.1 1213.0,631.3 1214.0,632.3 1215.2,634.9 1216.1,636.4 1217.1,637.6 1217.9,640.2 1218.9,641.4 1220.1,642.7 1221.0,644.5 1222.3,647.1 1223.4,648.0 1224.4,650.4 1225.3,652.2 1226.5,653.0 1227.3,655.1 1228.2,657.3 1229.2,658.6 1230.2,660.8 1231.4,662.0 1232.4,664.1 1233.2,665.4 1233.8,667.9 1235.0,669.7 1235.9,671.2 1236.6,672.7 1237.6,674.5 1238.8,676.0 1240.9,676.3 1242.3,677.7 1243.2,675.8 1244.0,673.9 1244.5,671.9 1244.9,670.6 1245.7,667.9 1246.1,666.1 1246.8,664.1 1247.1,662.0 1247.8,660.5 1247.9,659.0 1247.8,657.1 1248.0,654.6 1248.1,652.6 1248.4,651.1 1249.0,648.7 1249.0,646.7 1249.2,644.9 1249.5,642.2 1249.2,641.1 1249.8,638.2 1249.8,636.7 1249.9,635.2 1250.3,632.8 1250.5,630.5 1250.6,629.0 1250.8,627.2 1251.1,624.9 1250.9,622.2 1251.4,621.2 1251.4,618.2 1251.8,617.0 1251.8,615.3 1251.9,612.4 1252.2,610.8 1252.1,609.0 1252.0,606.4 1252.3,604.5 1252.4,602.3 1252.9,600.4 1252.5,598.4 1252.9,596.6 1253.0,595.1 1252.9,593.1 1253.3,591.2 1253.4,589.0 1253.4,587.2 1253.9,584.4 1253.5,582.9 1253.9,580.3 1253.8,578.9 1254.1,577.3 1254.1,574.8 1254.5,572.6 1254.7,570.6 1254.4,568.8 1254.7,567.4 1255.0,565.5 1254.9,563.2 1255.0,561.5 1255.5,559.2 1255.2,556.7 1255.6,554.8 1255.8,553.2 1255.9,551.2 1255.7,549.1 1256.3,546.9 1255.9,544.5 1256.0,543.5 1256.5,540.6 1256.3,539.5 1256.6,536.5 1257.0,535.5 1257.0,532.8 1257.2,531.3 1257.5,528.4 1257.1,526.9 1257.8,524.7 1257.7,523.2 1257.9,521.2 1257.6,518.9 1258.3,517.2 1258.1,515.6 1258.3,512.5 1258.5,511.1 1258.5,509.2 1259.0,507.2 1259.1,504.7 1258.9,503.5 1259.0,500.7 1259.2,499.5 1259.7,497.0 1259.4,494.6 1259.7,493.4 1259.6,490.6 1260.0,489.4 1260.4,487.2 1260.2,485.5 1260.1,483.4 1260.6,481.0 1260.8,478.6 1260.7,476.8 1260.7,474.5 1261.0,473.3 1261.4,470.6 1261.3,468.7 1261.2,466.8 1261.8,465.0 1261.6,463.4 1261.9,461.1 1262.0,459.1 1262.0,456.7 1262.3,455.0 1262.4,452.8 1262.8,451.5 1262.8,448.6 1263.5,447.3 1263.6,445.4 1263.7,443.2 1263.6,440.7 1264.2,438.9 1264.4,436.9 1264.1,435.0 1264.4,433.0 1264.5,431.8 1264.8,429.6 1265.3,427.8 1265.6,425.6 1265.6,423.1 1265.8,421.9 1266.4,419.4 1266.9,417.1 1267.2,415.8 1267.6,413.2 1268.0,412.0 1268.5,409.9 1268.9,407.4 1269.1,405.7 1270.7,404.5 1272.1,403.3 1273.8,401.9" fill="none" stroke="#94f594" stroke-width="1" stroke-linejoin="round" shape-rendering="crispEdges"/><path d="M998.5 304V685M1070.5 304V685" stroke="#707070" stroke-width="1"/><polyline points="901.9,424.0 902.9,426.0 904.0,427.7 904.9,429.3 906.0,431.0 907.0,432.7 907.8,434.6 908.4,436.5 908.8,438.3 909.4,440.4 909.8,442.2 910.4,444.5 911.1,446.5 911.6,447.9 912.2,450.1 913.0,451.9 913.7,454.0 914.4,455.7 915.2,457.5 915.8,459.5 916.4,461.2 917.0,463.3 917.9,465.2 918.5,466.9 919.3,469.0 919.8,470.8 920.5,472.8 921.3,474.3 922.0,476.3 922.7,478.4 923.4,480.1 924.0,482.1 924.7,484.0 925.4,485.5 926.3,487.4 926.9,489.6 927.7,491.4 928.5,493.2 929.1,494.9 929.9,496.8 930.6,498.7 931.4,500.5 932.0,502.4 932.8,504.2 933.7,506.3 934.3,507.8 935.2,509.9 936.1,511.6 937.1,513.4 938.3,514.7 939.3,516.7 940.4,518.4 941.1,520.1 942.0,521.8 942.7,523.6 943.7,525.5 944.2,527.6 945.1,529.2 945.8,531.0 946.7,532.9 947.6,534.8 948.3,536.8 949.2,538.6 950.1,540.1 951.1,542.2 951.9,543.6 952.9,545.6 953.6,547.3 954.7,549.1 955.4,551.0 956.4,552.8 957.2,554.5 958.2,556.2 958.9,558.0 959.9,559.8 960.9,561.8 961.6,563.5 962.6,565.3 963.6,567.1 964.3,568.8 965.4,570.8 966.2,572.5 966.9,574.2 967.7,576.4 968.4,577.9 969.2,579.7 970.0,581.8 970.7,583.5 971.5,585.2 972.3,587.0 973.2,589.0 974.1,590.7 975.1,592.4 976.0,594.4 976.9,596.2 977.8,597.7 978.8,599.6 980.1,601.0 981.0,603.1 982.2,604.7 983.0,606.3 983.8,608.1 984.5,610.3 985.3,612.0 985.9,613.7 986.7,615.5 987.4,617.7 988.1,619.4 988.8,621.2 989.6,623.2 990.4,624.9 991.2,627.0 991.8,628.7 993.0,630.6 994.0,632.1 995.2,633.9 996.3,635.3 997.7,636.3 999.7,636.3 1000.9,635.1 1001.6,632.9 1002.4,631.4 1003.2,629.5 1003.8,627.5 1004.5,625.4 1004.8,623.8 1004.9,621.8 1005.3,619.9 1005.7,617.7 1005.8,616.0 1006.2,613.7 1006.6,611.7 1006.9,609.9 1007.3,607.9 1007.7,606.0 1007.9,604.1 1008.1,602.0 1008.6,600.1 1009.2,598.2 1009.7,596.2 1010.0,594.1 1010.6,592.4 1011.1,590.2 1011.5,588.4 1012.0,586.4 1012.7,584.4 1013.2,582.4 1014.1,581.0 1015.1,578.9 1016.1,577.6 1017.1,575.8 1018.2,574.0 1019.7,573.2 1021.6,573.4 1023.6,574.1 1025.2,575.0 1026.7,576.4 1028.2,577.7 1029.6,579.0 1031.5,580.0 1033.2,581.3 1035.0,582.3 1036.5,582.3 1037.9,580.5 1039.3,579.1 1040.6,577.9 1041.1,576.1 1041.4,573.9 1041.9,572.1 1042.3,569.9 1042.6,568.2 1043.0,566.3 1043.6,564.1 1044.0,562.1 1044.2,560.2 1044.7,558.4 1045.2,556.4 1045.4,554.6 1045.7,552.5 1045.8,550.3 1046.1,548.5 1046.3,546.2 1046.3,544.6 1046.6,542.3 1046.6,540.7 1046.9,538.5 1047.1,536.4 1047.1,534.3 1047.4,532.6 1047.5,530.7 1047.8,528.6 1047.9,526.6 1048.1,524.6 1048.2,522.6 1048.5,520.6 1048.5,518.4 1048.7,516.6 1048.8,514.7 1049.0,512.3 1049.2,510.4 1049.3,508.7 1049.4,506.3 1049.6,504.5 1049.7,502.8 1049.9,500.5 1049.9,498.8 1050.1,496.5 1050.4,494.5 1050.6,492.4 1050.5,490.8 1050.6,488.8 1051.0,486.5 1051.1,484.5 1051.2,482.7 1051.5,480.4 1051.5,478.4 1051.7,476.6 1052.0,474.6 1052.0,472.7 1052.4,470.7 1052.3,468.6 1052.6,466.7 1052.8,464.6 1052.9,462.6 1053.0,460.9 1053.3,458.5 1053.5,456.7 1053.6,454.5 1053.8,452.9 1054.1,450.9 1054.4,448.6 1054.5,446.9 1054.8,445.0 1055.3,442.8 1055.4,441.0 1055.8,439.1 1055.9,436.7 1056.3,434.8 1056.5,432.7 1057.0,430.8 1057.1,428.7 1057.4,426.8 1057.6,425.1 1058.0,423.0 1058.7,421.3 1059.1,419.1 1059.6,417.5 1060.2,415.1 1060.5,413.4 1061.1,411.3 1061.5,409.6 1062.0,407.5 1062.6,405.4 1063.3,403.8 1064.5,402.0 1065.5,400.6 1066.6,399.0 1067.9,397.0 1069.5,395.9 1071.2,395.4 1072.1,396.8 1073.3,398.5 1074.3,400.2 1075.4,401.9 1076.4,403.8 1077.4,405.3 1078.4,407.2 1079.4,408.9 1080.4,410.6 1081.6,412.4 1082.6,413.8 1083.5,415.7 1084.7,417.3 1086.3,418.3 1087.9,419.6 1089.4,421.3 1091.0,422.4 1092.7,423.6 1094.5,424.2 1096.3,425.3 1098.0,426.1 1099.8,427.0 1101.7,427.7 1103.2,429.1 1104.5,430.3 1106.1,431.9 1107.5,433.1 1109.0,434.4 1110.6,435.8 1112.0,437.3 1113.4,438.8 1114.7,440.1 1116.2,441.6 1117.6,443.0 1118.8,444.4 1119.6,446.3 1120.5,448.2 1121.2,450.1 1122.0,452.1 1122.7,453.9 1123.5,455.6 1124.4,457.5 1125.1,459.0 1125.8,461.2 1126.4,462.8 1126.9,465.0 1127.7,467.0 1128.3,468.6 1128.8,470.6 1129.4,472.8 1129.9,474.3 1130.4,476.5 1131.1,478.2 1131.6,480.1 1132.1,482.3 1132.7,484.0 1133.3,486.1 1134.1,487.7 1134.6,489.9 1135.3,491.8 1135.9,493.5 1136.5,495.6 1137.1,497.5 1137.8,499.4 1138.6,500.9 1139.8,502.8 1140.8,504.5 1141.9,506.3 1142.8,507.8 1143.7,509.6 1144.9,511.1 1145.8,512.9 1146.7,514.9 1147.6,516.6 1148.5,518.5 1149.5,520.1 1150.3,521.8 1151.3,523.6 1152.0,525.5 1153.0,527.2 1153.9,529.0 1154.8,531.1 1155.5,533.0 1156.3,534.4 1157.0,536.2 1157.9,538.2 1158.8,540.2 1159.4,542.2 1160.3,543.8 1161.1,545.7 1161.8,547.5 1162.8,549.5 1163.4,551.3 1164.2,552.9 1165.0,555.0 1165.9,556.5 1166.6,558.7 1167.4,560.3 1168.2,562.2 1168.9,564.1 1169.7,565.8 1170.8,567.8 1171.5,569.7 1172.6,571.3 1173.5,572.9 1174.3,574.7 1175.1,576.7 1176.1,578.4 1176.9,580.2 1177.9,581.8 1178.8,583.9 1179.6,585.4 1180.6,587.2 1181.4,589.1 1182.2,591.0 1183.1,592.5 1184.1,594.7 1185.0,596.4 1185.9,598.2 1186.7,600.0 1187.6,601.6 1188.5,603.5 1189.5,605.0 1190.3,607.0 1191.2,608.8 1192.0,610.7 1193.0,612.2 1193.8,614.1 1194.8,616.2 1195.8,617.6 1196.6,619.6 1197.5,621.2 1198.4,623.1 1199.5,625.0 1200.5,626.7 1201.5,627.9 1202.6,629.8 1203.9,631.4 1205.0,633.2 1206.3,634.3 1207.8,636.1 1208.7,637.1 1209.4,634.7 1210.0,633.2 1210.5,631.3 1211.3,629.1 1211.9,627.2 1212.4,625.4 1212.7,623.3 1213.2,621.7 1213.5,619.7 1214.2,617.4 1214.4,615.8 1215.0,613.6 1215.3,611.7 1215.8,609.9 1216.2,607.9 1216.7,605.9 1217.1,604.2 1217.8,602.0 1218.3,600.1 1218.8,598.0 1219.4,596.0 1219.8,594.4 1220.5,592.2 1221.0,590.6 1221.7,588.4 1222.2,586.7 1223.1,585.1 1224.0,583.2 1224.8,581.3 1225.8,579.7 1226.7,577.7 1228.6,577.1 1230.3,575.9 1232.1,575.6 1234.2,576.0 1235.9,576.6 1237.2,578.3" fill="none" stroke="#000" stroke-width="1" stroke-linejoin="round" shape-rendering="crispEdges"/></svg><div class="t" style="left:952.50px;top:638.00px;width:76px;height:14px;line-height:14px;font-size:11px;letter-spacing:-0.634px;transform:rotate(-90deg);white-space:pre;">Diastolic pressure</div><div class="t" style="left:1024.50px;top:638.00px;width:76px;height:14px;line-height:14px;font-size:11px;letter-spacing:-0.456px;transform:rotate(-90deg);white-space:pre;">Systolic pressure</div><div style="left:718px;top:751px;width:671px;height:19px;background:#f0f0f0;"></div><div style="left:735px;top:754px;width:35px;height:15px;background:#c8c8c8;"></div><svg class="a" style="left:722px;top:756px;" width="7" height="10" viewBox="0 0 7 10"><path d="M5.5 1L1.5 5L5.5 9" fill="none" stroke="#555" stroke-width="2.2"/></svg><svg class="a" style="left:1378px;top:756px;" width="7" height="10" viewBox="0 0 7 10"><path d="M1.5 1L5.5 5L1.5 9" fill="none" stroke="#555" stroke-width="2.2"/></svg><div style="left:718px;top:770px;width:671px;height:19px;background:#f0f0f0;border-top:1px solid #a0a0a0;border-left:1px solid #a0a0a0;box-sizing:border-box;"></div><div style="left:718px;top:789px;width:671px;height:1px;background:#fff;"></div><div class="t" style="left:723.80px;top:772.70px;font-size:11px;line-height:14px;color:#000;white-space:pre;letter-spacing:-0.042px;">Cycles 2 - 4 (using 3 of 3). Dicrotic notch not found.</div></body></html>
